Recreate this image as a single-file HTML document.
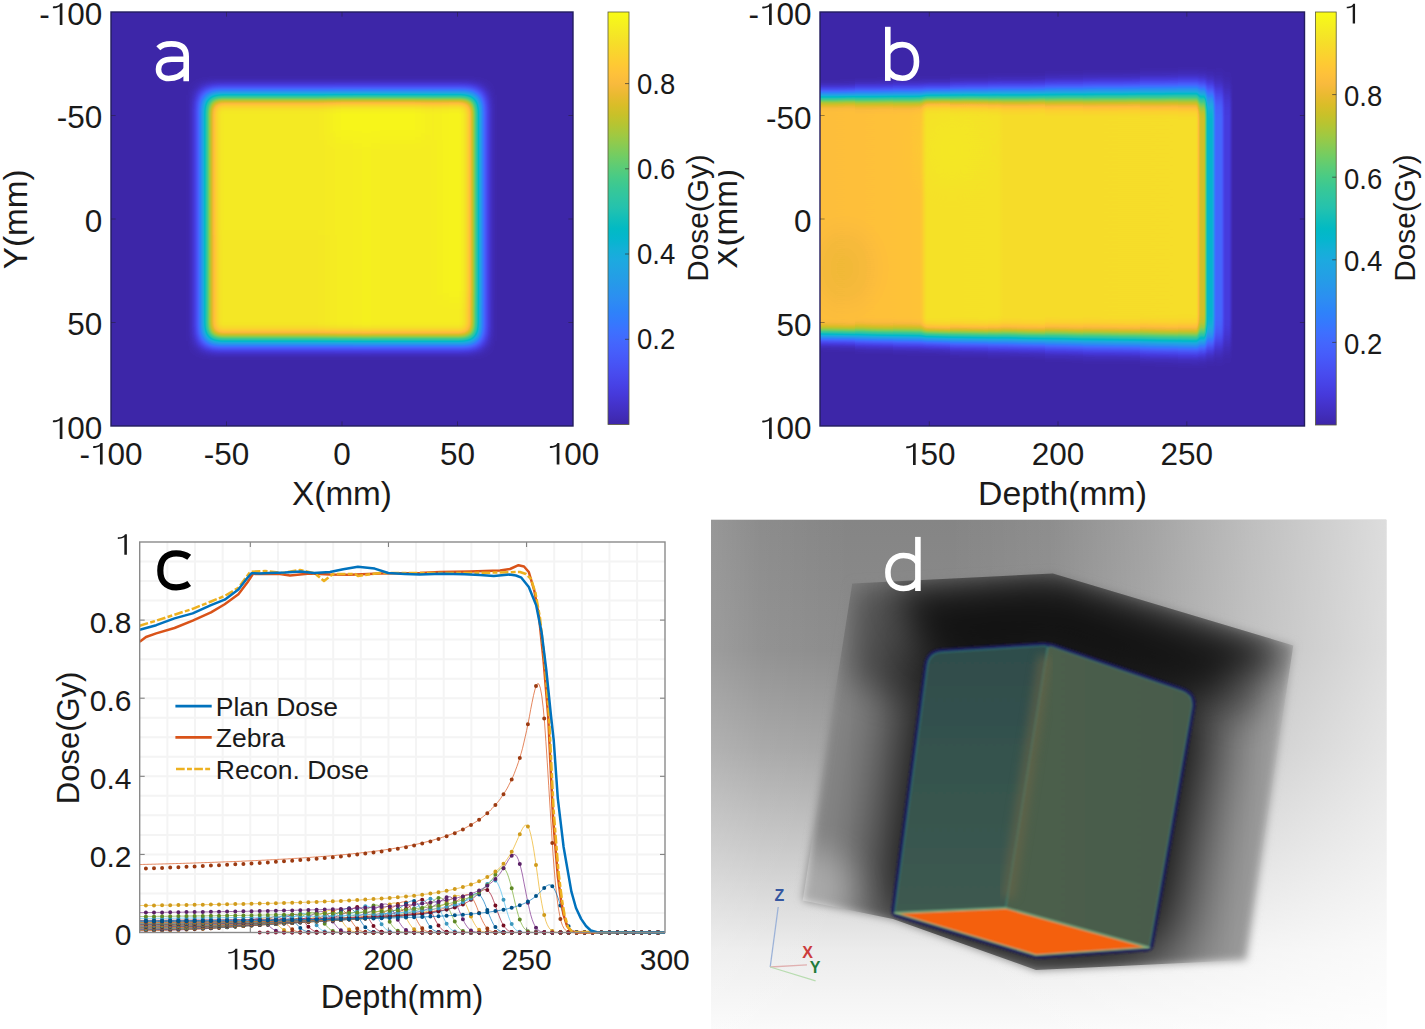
<!DOCTYPE html><html><head><meta charset="utf-8"><style>html,body{margin:0;padding:0;background:#fff}body{width:1425px;height:1029px;overflow:hidden}svg{display:block}text{font-family:"Liberation Sans",sans-serif}</style></head><body>
<svg width="1425" height="1029" viewBox="0 0 1425 1029">
<defs>
<filter id="cmA" filterUnits="userSpaceOnUse" x="60" y="-40" width="580" height="520" color-interpolation-filters="sRGB">
<feGaussianBlur in="SourceGraphic" stdDeviation="8"/>
<feComponentTransfer><feFuncR type="table" tableValues="0.2422 0.2478 0.2530 0.2580 0.2627 0.2670 0.2709 0.2740 0.2765 0.2785 0.2799 0.2808 0.2813 0.2811 0.2803 0.2789 0.2765 0.2728 0.2679 0.2614 0.2511 0.2385 0.2226 0.2062 0.1928 0.1841 0.1804 0.1779 0.1764 0.1713 0.1637 0.1539 0.1484 0.1430 0.1373 0.1284 0.1193 0.1099 0.0990 0.0836 0.0643 0.0377 0.0173 0.0041 0.0062 0.0253 0.0531 0.0891 0.1204 0.1476 0.1685 0.1844 0.1994 0.2146 0.2349 0.2595 0.2891 0.3227 0.3567 0.3908 0.4279 0.4665 0.5063 0.5450 0.5833 0.6210 0.6580 0.6940 0.7292 0.7628 0.7950 0.8261 0.8553 0.8830 0.9095 0.9338 0.9568 0.9774 0.9929 0.9964 0.9966 0.9954 0.9917 0.9863 0.9792 0.9717 0.9656 0.9611 0.9601 0.9607 0.9629 0.9672 0.9720 0.9769 0.9769 0.9769 0.9769"/><feFuncG type="table" tableValues="0.1504 0.1603 0.1710 0.1823 0.1932 0.2044 0.2160 0.2292 0.2434 0.2582 0.2733 0.2884 0.3036 0.3187 0.3336 0.3484 0.3633 0.3785 0.3939 0.4095 0.4254 0.4416 0.4582 0.4748 0.4908 0.5062 0.5209 0.5353 0.5495 0.5634 0.5770 0.5905 0.6033 0.6160 0.6285 0.6409 0.6530 0.6649 0.6759 0.6864 0.6964 0.7055 0.7139 0.7220 0.7293 0.7362 0.7428 0.7488 0.7545 0.7603 0.7661 0.7721 0.7780 0.7837 0.7889 0.7934 0.7971 0.7995 0.8015 0.8029 0.8026 0.8013 0.7991 0.7957 0.7916 0.7870 0.7814 0.7753 0.7688 0.7620 0.7552 0.7486 0.7423 0.7369 0.7323 0.7294 0.7293 0.7325 0.7418 0.7559 0.7714 0.7873 0.8037 0.8203 0.8373 0.8544 0.8715 0.8885 0.9051 0.9215 0.9376 0.9534 0.9692 0.9839 0.9839 0.9839 0.9839"/><feFuncB type="table" tableValues="0.6603 0.6924 0.7231 0.7526 0.7825 0.8113 0.8387 0.8622 0.8829 0.9014 0.9170 0.9309 0.9436 0.9548 0.9647 0.9736 0.9812 0.9869 0.9915 0.9947 0.9972 0.9984 0.9974 0.9925 0.9867 0.9803 0.9725 0.9633 0.9523 0.9414 0.9311 0.9216 0.9122 0.9040 0.8968 0.8907 0.8834 0.8749 0.8637 0.8508 0.8367 0.8210 0.8046 0.7878 0.7704 0.7525 0.7343 0.7157 0.6970 0.6779 0.6584 0.6380 0.6168 0.5946 0.5706 0.5458 0.5201 0.4932 0.4649 0.4355 0.4053 0.3757 0.3466 0.3171 0.2877 0.2586 0.2325 0.2093 0.1884 0.1705 0.1595 0.1543 0.1585 0.1683 0.1829 0.2050 0.2254 0.2389 0.2374 0.2275 0.2159 0.2043 0.1943 0.1853 0.1772 0.1689 0.1611 0.1539 0.1462 0.1370 0.1262 0.1126 0.0968 0.0805 0.0805 0.0805 0.0805"/><feFuncA type="linear" slope="0" intercept="1"/></feComponentTransfer>
</filter>
<filter id="cmB" filterUnits="userSpaceOnUse" x="760" y="-40" width="600" height="520" color-interpolation-filters="sRGB">
<feComponentTransfer><feFuncR type="table" tableValues="0.2422 0.2476 0.2527 0.2576 0.2621 0.2664 0.2702 0.2733 0.2759 0.2780 0.2794 0.2805 0.2812 0.2811 0.2807 0.2797 0.2778 0.2750 0.2710 0.2654 0.2582 0.2475 0.2338 0.2183 0.2024 0.1911 0.1831 0.1799 0.1778 0.1762 0.1711 0.1636 0.1540 0.1487 0.1435 0.1383 0.1298 0.1210 0.1121 0.1017 0.0886 0.0714 0.0469 0.0240 0.0069 0.0052 0.0136 0.0376 0.0698 0.1033 0.1325 0.1553 0.1745 0.1890 0.2036 0.2190 0.2393 0.2647 0.2937 0.3265 0.3595 0.3926 0.4285 0.4658 0.5044 0.5419 0.5790 0.6157 0.6515 0.6867 0.7209 0.7537 0.7854 0.8159 0.8445 0.8722 0.8985 0.9225 0.9456 0.9676 0.9842 0.9958 0.9967 0.9962 0.9945 0.9905 0.9846 0.9776 0.9704 0.9649 0.9609 0.9601 0.9609 0.9630 0.9671 0.9718 0.9769"/><feFuncG type="table" tableValues="0.1504 0.1600 0.1703 0.1813 0.1918 0.2026 0.2136 0.2263 0.2396 0.2539 0.2684 0.2831 0.2978 0.3124 0.3269 0.3413 0.3557 0.3702 0.3850 0.4000 0.4152 0.4307 0.4465 0.4626 0.4786 0.4939 0.5087 0.5229 0.5368 0.5505 0.5639 0.5771 0.5902 0.6026 0.6149 0.6270 0.6390 0.6509 0.6624 0.6732 0.6835 0.6934 0.7023 0.7108 0.7188 0.7261 0.7331 0.7396 0.7455 0.7513 0.7568 0.7624 0.7681 0.7739 0.7795 0.7850 0.7899 0.7940 0.7975 0.7998 0.8016 0.8029 0.8026 0.8013 0.7993 0.7960 0.7921 0.7878 0.7824 0.7766 0.7704 0.7639 0.7573 0.7507 0.7446 0.7389 0.7339 0.7308 0.7290 0.7296 0.7366 0.7469 0.7617 0.7769 0.7923 0.8083 0.8245 0.8410 0.8576 0.8741 0.8905 0.9066 0.9224 0.9380 0.9533 0.9686 0.9839"/><feFuncB type="table" tableValues="0.6603 0.6913 0.7212 0.7497 0.7787 0.8068 0.8338 0.8569 0.8780 0.8965 0.9120 0.9263 0.9390 0.9502 0.9605 0.9695 0.9773 0.9841 0.9892 0.9928 0.9957 0.9980 0.9981 0.9965 0.9912 0.9854 0.9791 0.9715 0.9621 0.9515 0.9409 0.9311 0.9218 0.9127 0.9046 0.8976 0.8917 0.8849 0.8770 0.8665 0.8547 0.8413 0.8264 0.8109 0.7948 0.7780 0.7610 0.7436 0.7257 0.7077 0.6894 0.6707 0.6516 0.6317 0.6108 0.5890 0.5656 0.5413 0.5163 0.4901 0.4626 0.4340 0.4048 0.3762 0.3480 0.3195 0.2910 0.2626 0.2371 0.2138 0.1930 0.1753 0.1618 0.1545 0.1569 0.1635 0.1752 0.1947 0.2155 0.2348 0.2383 0.2344 0.2231 0.2119 0.2010 0.1916 0.1833 0.1754 0.1674 0.1600 0.1530 0.1455 0.1364 0.1259 0.1127 0.0975 0.0805"/><feFuncA type="linear" slope="0" intercept="1"/></feComponentTransfer>
</filter>
<linearGradient id="gA" x1="0" y1="424.5" x2="0" y2="12" gradientUnits="userSpaceOnUse">
<stop offset="0.0000" stop-color="#3e26a8"/>
<stop offset="0.0250" stop-color="#412dbb"/>
<stop offset="0.0500" stop-color="#4433cc"/>
<stop offset="0.0750" stop-color="#463adc"/>
<stop offset="0.1000" stop-color="#4743e7"/>
<stop offset="0.1250" stop-color="#484cef"/>
<stop offset="0.1500" stop-color="#4755f6"/>
<stop offset="0.1750" stop-color="#465efb"/>
<stop offset="0.2000" stop-color="#4367fd"/>
<stop offset="0.2250" stop-color="#3d70ff"/>
<stop offset="0.2500" stop-color="#347afd"/>
<stop offset="0.2750" stop-color="#2e83f9"/>
<stop offset="0.3000" stop-color="#2d8cf3"/>
<stop offset="0.3250" stop-color="#2994ed"/>
<stop offset="0.3500" stop-color="#259ce7"/>
<stop offset="0.3750" stop-color="#21a3e3"/>
<stop offset="0.4000" stop-color="#1caadf"/>
<stop offset="0.4250" stop-color="#13b0d7"/>
<stop offset="0.4500" stop-color="#05b6ce"/>
<stop offset="0.4750" stop-color="#02bac4"/>
<stop offset="0.5000" stop-color="#12beb9"/>
<stop offset="0.5250" stop-color="#24c2ae"/>
<stop offset="0.5500" stop-color="#2fc5a2"/>
<stop offset="0.5750" stop-color="#39c895"/>
<stop offset="0.6000" stop-color="#48cb86"/>
<stop offset="0.6250" stop-color="#5ccc76"/>
<stop offset="0.6500" stop-color="#71cd64"/>
<stop offset="0.6750" stop-color="#88cb53"/>
<stop offset="0.7000" stop-color="#9fc942"/>
<stop offset="0.7250" stop-color="#b4c533"/>
<stop offset="0.7500" stop-color="#c8c129"/>
<stop offset="0.7750" stop-color="#dabd28"/>
<stop offset="0.8000" stop-color="#eaba31"/>
<stop offset="0.8250" stop-color="#f8ba3d"/>
<stop offset="0.8500" stop-color="#fec13a"/>
<stop offset="0.8750" stop-color="#feca33"/>
<stop offset="0.9000" stop-color="#fad42e"/>
<stop offset="0.9250" stop-color="#f6de29"/>
<stop offset="0.9500" stop-color="#f5e825"/>
<stop offset="0.9750" stop-color="#f6f21e"/>
<stop offset="1.0000" stop-color="#f9fb15"/>
</linearGradient>
<linearGradient id="gB" x1="0" y1="425" x2="0" y2="12" gradientUnits="userSpaceOnUse">
<stop offset="0.0000" stop-color="#3e26a8"/>
<stop offset="0.0250" stop-color="#412dbb"/>
<stop offset="0.0500" stop-color="#4433cc"/>
<stop offset="0.0750" stop-color="#463adc"/>
<stop offset="0.1000" stop-color="#4743e7"/>
<stop offset="0.1250" stop-color="#484cef"/>
<stop offset="0.1500" stop-color="#4755f6"/>
<stop offset="0.1750" stop-color="#465efb"/>
<stop offset="0.2000" stop-color="#4367fd"/>
<stop offset="0.2250" stop-color="#3d70ff"/>
<stop offset="0.2500" stop-color="#347afd"/>
<stop offset="0.2750" stop-color="#2e83f9"/>
<stop offset="0.3000" stop-color="#2d8cf3"/>
<stop offset="0.3250" stop-color="#2994ed"/>
<stop offset="0.3500" stop-color="#259ce7"/>
<stop offset="0.3750" stop-color="#21a3e3"/>
<stop offset="0.4000" stop-color="#1caadf"/>
<stop offset="0.4250" stop-color="#13b0d7"/>
<stop offset="0.4500" stop-color="#05b6ce"/>
<stop offset="0.4750" stop-color="#02bac4"/>
<stop offset="0.5000" stop-color="#12beb9"/>
<stop offset="0.5250" stop-color="#24c2ae"/>
<stop offset="0.5500" stop-color="#2fc5a2"/>
<stop offset="0.5750" stop-color="#39c895"/>
<stop offset="0.6000" stop-color="#48cb86"/>
<stop offset="0.6250" stop-color="#5ccc76"/>
<stop offset="0.6500" stop-color="#71cd64"/>
<stop offset="0.6750" stop-color="#88cb53"/>
<stop offset="0.7000" stop-color="#9fc942"/>
<stop offset="0.7250" stop-color="#b4c533"/>
<stop offset="0.7500" stop-color="#c8c129"/>
<stop offset="0.7750" stop-color="#dabd28"/>
<stop offset="0.8000" stop-color="#eaba31"/>
<stop offset="0.8250" stop-color="#f8ba3d"/>
<stop offset="0.8500" stop-color="#fec13a"/>
<stop offset="0.8750" stop-color="#feca33"/>
<stop offset="0.9000" stop-color="#fad42e"/>
<stop offset="0.9250" stop-color="#f6de29"/>
<stop offset="0.9500" stop-color="#f5e825"/>
<stop offset="0.9750" stop-color="#f6f21e"/>
<stop offset="1.0000" stop-color="#f9fb15"/>
</linearGradient>
</defs>
<rect width="1425" height="1029" fill="#fff"/>
<clipPath id="clipA"><rect x="111" y="12" width="462" height="414"/></clipPath>
<g clip-path="url(#clipA)"><g filter="url(#cmA)">
<rect x="70" y="-30" width="560" height="500" fill="#000"/>
<rect x="205" y="95" width="273" height="246" fill="#eeeeee"/>
<rect x="205" y="95" width="125" height="246" fill="#ececec"/>
<rect x="215" y="235" width="110" height="100" fill="#eaeaea"/>
<rect x="330" y="100" width="95" height="40" fill="#f3f3f3"/>
<rect x="362" y="95" width="9" height="246" fill="#f2f2f2"/>
<rect x="440" y="100" width="38" height="200" fill="#f2f2f2"/>
</g></g>
<rect x="111" y="12" width="462" height="414" fill="none" stroke="#231d5e" stroke-width="1.4"/>
<path d="M226.5 12v4.6M226.5 426v-4.6M111 115.5h4.6M573 115.5h-4.6M342.0 12v4.6M342.0 426v-4.6M111 219.0h4.6M573 219.0h-4.6M457.5 12v4.6M457.5 426v-4.6M111 322.5h4.6M573 322.5h-4.6" stroke="#222" stroke-width="1" opacity="0.45" fill="none"/>
<rect x="608" y="12" width="21" height="412.5" fill="url(#gA)" stroke="#5a5a3a" stroke-width="0.8"/>
<path d="M629 339.3h-4M629 254.0h-4M629 168.8h-4M629 83.6h-4" stroke="#333" stroke-width="1" opacity="0.7" fill="none"/>
<g transform="translate(102.30,24.90)" fill="#1a1a1a"><text font-size="31.50" text-anchor="end" >- 00</text><path transform="translate(-52.54,0) scale(0.03150,-0.03150)" d="M317 0H402V688H338C326 660 300 628 262 612C215 592 150 585 100 584V530C170 532 250 540 317 585Z"/></g>
<g transform="translate(111.00,464.60)" fill="#1a1a1a"><text font-size="31.50" text-anchor="middle" >- 00</text><path transform="translate(-21.03,0) scale(0.03150,-0.03150)" d="M317 0H402V688H338C326 660 300 628 262 612C215 592 150 585 100 584V530C170 532 250 540 317 585Z"/></g>
<text transform="translate(102.30,128.40)" font-size="31.50" text-anchor="end" fill="#1a1a1a" >-50</text>
<text transform="translate(226.50,464.60)" font-size="31.50" text-anchor="middle" fill="#1a1a1a" >-50</text>
<text transform="translate(102.30,231.90)" font-size="31.50" text-anchor="end" fill="#1a1a1a" >0</text>
<text transform="translate(342.00,464.60)" font-size="31.50" text-anchor="middle" fill="#1a1a1a" >0</text>
<text transform="translate(102.30,335.40)" font-size="31.50" text-anchor="end" fill="#1a1a1a" >50</text>
<text transform="translate(457.50,464.60)" font-size="31.50" text-anchor="middle" fill="#1a1a1a" >50</text>
<g transform="translate(102.30,438.90)" fill="#1a1a1a"><text font-size="31.50" text-anchor="end" > 00</text><path transform="translate(-52.54,0) scale(0.03150,-0.03150)" d="M317 0H402V688H338C326 660 300 628 262 612C215 592 150 585 100 584V530C170 532 250 540 317 585Z"/></g>
<g transform="translate(573.00,464.60)" fill="#1a1a1a"><text font-size="31.50" text-anchor="middle" > 00</text><path transform="translate(-26.27,0) scale(0.03150,-0.03150)" d="M317 0H402V688H338C326 660 300 628 262 612C215 592 150 585 100 584V530C170 532 250 540 317 585Z"/></g>
<text transform="translate(342.00,504.50)" font-size="33.30" text-anchor="middle" fill="#1a1a1a" >X(mm)</text>
<text transform="translate(26.80,219.40) rotate(-90)" font-size="33.30" text-anchor="middle" fill="#1a1a1a" >Y(mm)</text>
<text transform="translate(637.00,349.27) scale(1.0000,1.0400)" font-size="27.50" text-anchor="start" fill="#1a1a1a" >0.2</text>
<text transform="translate(637.00,264.05) scale(1.0000,1.0400)" font-size="27.50" text-anchor="start" fill="#1a1a1a" >0.4</text>
<text transform="translate(637.00,178.82) scale(1.0000,1.0400)" font-size="27.50" text-anchor="start" fill="#1a1a1a" >0.6</text>
<text transform="translate(637.00,93.59) scale(1.0000,1.0400)" font-size="27.50" text-anchor="start" fill="#1a1a1a" >0.8</text>
<text transform="translate(708.00,218.00) rotate(-90)" font-size="29.80" text-anchor="middle" fill="#1a1a1a" >Dose(Gy)</text>
<g fill="none" stroke="#fff" stroke-width="5.6"><path d="M158.3 48.2C161.8 44.6 166.3 43.9 171.5 43.9C181 43.9 186.2 47.8 186.2 56.5V81.3"/><path d="M186.2 59.2H171.5C163.2 59.2 158.5 63 158.5 69.2C158.5 75.2 162.8 78.5 168.6 78.5C176.5 78.5 182.2 75 186.2 69.5"/></g>
<clipPath id="clipB"><rect x="820" y="12" width="484.5" height="414"/></clipPath>
<defs>
<filter id="latB0" filterUnits="userSpaceOnUse" x="760" y="-40" width="19" height="520" color-interpolation-filters="sRGB"><feGaussianBlur stdDeviation="0 6.80"/></filter>
<filter id="latB1" filterUnits="userSpaceOnUse" x="779" y="-40" width="19" height="520" color-interpolation-filters="sRGB"><feGaussianBlur stdDeviation="0 6.80"/></filter>
<filter id="latB2" filterUnits="userSpaceOnUse" x="798" y="-40" width="19" height="520" color-interpolation-filters="sRGB"><feGaussianBlur stdDeviation="0 6.80"/></filter>
<filter id="latB3" filterUnits="userSpaceOnUse" x="817" y="-40" width="19" height="520" color-interpolation-filters="sRGB"><feGaussianBlur stdDeviation="0 6.87"/></filter>
<filter id="latB4" filterUnits="userSpaceOnUse" x="836" y="-40" width="19" height="520" color-interpolation-filters="sRGB"><feGaussianBlur stdDeviation="0 7.09"/></filter>
<filter id="latB5" filterUnits="userSpaceOnUse" x="855" y="-40" width="19" height="520" color-interpolation-filters="sRGB"><feGaussianBlur stdDeviation="0 7.31"/></filter>
<filter id="latB6" filterUnits="userSpaceOnUse" x="874" y="-40" width="19" height="520" color-interpolation-filters="sRGB"><feGaussianBlur stdDeviation="0 7.53"/></filter>
<filter id="latB7" filterUnits="userSpaceOnUse" x="893" y="-40" width="19" height="520" color-interpolation-filters="sRGB"><feGaussianBlur stdDeviation="0 7.75"/></filter>
<filter id="latB8" filterUnits="userSpaceOnUse" x="912" y="-40" width="19" height="520" color-interpolation-filters="sRGB"><feGaussianBlur stdDeviation="0 7.96"/></filter>
<filter id="latB9" filterUnits="userSpaceOnUse" x="931" y="-40" width="19" height="520" color-interpolation-filters="sRGB"><feGaussianBlur stdDeviation="0 8.18"/></filter>
<filter id="latB10" filterUnits="userSpaceOnUse" x="950" y="-40" width="19" height="520" color-interpolation-filters="sRGB"><feGaussianBlur stdDeviation="0 8.40"/></filter>
<filter id="latB11" filterUnits="userSpaceOnUse" x="969" y="-40" width="19" height="520" color-interpolation-filters="sRGB"><feGaussianBlur stdDeviation="0 8.62"/></filter>
<filter id="latB12" filterUnits="userSpaceOnUse" x="988" y="-40" width="19" height="520" color-interpolation-filters="sRGB"><feGaussianBlur stdDeviation="0 8.83"/></filter>
<filter id="latB13" filterUnits="userSpaceOnUse" x="1007" y="-40" width="19" height="520" color-interpolation-filters="sRGB"><feGaussianBlur stdDeviation="0 9.05"/></filter>
<filter id="latB14" filterUnits="userSpaceOnUse" x="1026" y="-40" width="19" height="520" color-interpolation-filters="sRGB"><feGaussianBlur stdDeviation="0 9.27"/></filter>
<filter id="latB15" filterUnits="userSpaceOnUse" x="1045" y="-40" width="19" height="520" color-interpolation-filters="sRGB"><feGaussianBlur stdDeviation="0 9.49"/></filter>
<filter id="latB16" filterUnits="userSpaceOnUse" x="1064" y="-40" width="19" height="520" color-interpolation-filters="sRGB"><feGaussianBlur stdDeviation="0 9.71"/></filter>
<filter id="latB17" filterUnits="userSpaceOnUse" x="1083" y="-40" width="19" height="520" color-interpolation-filters="sRGB"><feGaussianBlur stdDeviation="0 9.92"/></filter>
<filter id="latB18" filterUnits="userSpaceOnUse" x="1102" y="-40" width="19" height="520" color-interpolation-filters="sRGB"><feGaussianBlur stdDeviation="0 10.14"/></filter>
<filter id="latB19" filterUnits="userSpaceOnUse" x="1121" y="-40" width="19" height="520" color-interpolation-filters="sRGB"><feGaussianBlur stdDeviation="0 10.36"/></filter>
<filter id="latB20" filterUnits="userSpaceOnUse" x="1140" y="-40" width="19" height="520" color-interpolation-filters="sRGB"><feGaussianBlur stdDeviation="0 10.58"/></filter>
<filter id="latB21" filterUnits="userSpaceOnUse" x="1159" y="-40" width="19" height="520" color-interpolation-filters="sRGB"><feGaussianBlur stdDeviation="0 10.79"/></filter>
<filter id="latB22" filterUnits="userSpaceOnUse" x="1178" y="-40" width="19" height="520" color-interpolation-filters="sRGB"><feGaussianBlur stdDeviation="0 11.01"/></filter>
<filter id="latB23" filterUnits="userSpaceOnUse" x="1197" y="-40" width="19" height="520" color-interpolation-filters="sRGB"><feGaussianBlur stdDeviation="0 11.23"/></filter>
<filter id="latB24" filterUnits="userSpaceOnUse" x="1216" y="-40" width="19" height="520" color-interpolation-filters="sRGB"><feGaussianBlur stdDeviation="0 11.45"/></filter>
<filter id="latB25" filterUnits="userSpaceOnUse" x="1235" y="-40" width="19" height="520" color-interpolation-filters="sRGB"><feGaussianBlur stdDeviation="0 11.50"/></filter>
<filter id="latB26" filterUnits="userSpaceOnUse" x="1254" y="-40" width="19" height="520" color-interpolation-filters="sRGB"><feGaussianBlur stdDeviation="0 11.50"/></filter>
<filter id="latB27" filterUnits="userSpaceOnUse" x="1273" y="-40" width="19" height="520" color-interpolation-filters="sRGB"><feGaussianBlur stdDeviation="0 11.50"/></filter>
<filter id="latB28" filterUnits="userSpaceOnUse" x="1292" y="-40" width="19" height="520" color-interpolation-filters="sRGB"><feGaussianBlur stdDeviation="0 11.50"/></filter>
<filter id="latB29" filterUnits="userSpaceOnUse" x="1311" y="-40" width="19" height="520" color-interpolation-filters="sRGB"><feGaussianBlur stdDeviation="0 11.50"/></filter>
<filter id="depBl" filterUnits="userSpaceOnUse" x="760" y="-40" width="600" height="520" color-interpolation-filters="sRGB"><feGaussianBlur stdDeviation="1.2 0"/></filter>
<linearGradient id="depB" x1="820" y1="0" x2="1304.5" y2="0" gradientUnits="userSpaceOnUse">
<stop offset="0.00000" stop-color="#d7d7d7"/>
<stop offset="0.12384" stop-color="#d9d9d9"/>
<stop offset="0.20846" stop-color="#dbdbdb"/>
<stop offset="0.21878" stop-color="#eeeeee"/>
<stop offset="0.36739" stop-color="#efefef"/>
<stop offset="0.37771" stop-color="#ebebeb"/>
<stop offset="0.78019" stop-color="#ececec"/>
<stop offset="0.78204" stop-color="#c2c2c2"/>
<stop offset="0.79567" stop-color="#c2c2c2"/>
<stop offset="0.79649" stop-color="#737373"/>
<stop offset="0.81321" stop-color="#737373"/>
<stop offset="0.81404" stop-color="#333333"/>
<stop offset="0.83096" stop-color="#333333"/>
<stop offset="0.83179" stop-color="#141414"/>
<stop offset="0.84830" stop-color="#141414"/>
<stop offset="0.84933" stop-color="#000000"/>
<stop offset="1.00000" stop-color="#000000"/>
</linearGradient>
<mask id="mLat" maskUnits="userSpaceOnUse" x="760" y="-40" width="600" height="520"><rect x="760" y="-40" width="600" height="520" fill="#000"/>
<polygon points="760.00,96.50 779.00,96.37 779.00,334.32 760.00,334.00" fill="#fff" filter="url(#latB0)"/>
<polygon points="779.00,96.37 798.00,96.23 798.00,334.63 779.00,334.32" fill="#fff" filter="url(#latB1)"/>
<polygon points="798.00,96.23 817.00,96.10 817.00,334.95 798.00,334.63" fill="#fff" filter="url(#latB2)"/>
<polygon points="817.00,96.10 836.00,95.97 836.00,335.27 817.00,334.95" fill="#fff" filter="url(#latB3)"/>
<polygon points="836.00,95.97 855.00,95.83 855.00,335.58 836.00,335.27" fill="#fff" filter="url(#latB4)"/>
<polygon points="855.00,95.83 874.00,95.70 874.00,335.90 855.00,335.58" fill="#fff" filter="url(#latB5)"/>
<polygon points="874.00,95.70 893.00,95.57 893.00,336.22 874.00,335.90" fill="#fff" filter="url(#latB6)"/>
<polygon points="893.00,95.57 912.00,95.43 912.00,336.53 893.00,336.22" fill="#fff" filter="url(#latB7)"/>
<polygon points="912.00,95.43 931.00,95.30 931.00,336.85 912.00,336.53" fill="#fff" filter="url(#latB8)"/>
<polygon points="931.00,95.30 950.00,95.17 950.00,337.17 931.00,336.85" fill="#fff" filter="url(#latB9)"/>
<polygon points="950.00,95.17 969.00,95.03 969.00,337.48 950.00,337.17" fill="#fff" filter="url(#latB10)"/>
<polygon points="969.00,95.03 988.00,94.90 988.00,337.80 969.00,337.48" fill="#fff" filter="url(#latB11)"/>
<polygon points="988.00,94.90 1007.00,94.77 1007.00,338.12 988.00,337.80" fill="#fff" filter="url(#latB12)"/>
<polygon points="1007.00,94.77 1026.00,94.63 1026.00,338.43 1007.00,338.12" fill="#fff" filter="url(#latB13)"/>
<polygon points="1026.00,94.63 1045.00,94.50 1045.00,338.75 1026.00,338.43" fill="#fff" filter="url(#latB14)"/>
<polygon points="1045.00,94.50 1064.00,94.37 1064.00,339.07 1045.00,338.75" fill="#fff" filter="url(#latB15)"/>
<polygon points="1064.00,94.37 1083.00,94.23 1083.00,339.38 1064.00,339.07" fill="#fff" filter="url(#latB16)"/>
<polygon points="1083.00,94.23 1102.00,94.10 1102.00,339.70 1083.00,339.38" fill="#fff" filter="url(#latB17)"/>
<polygon points="1102.00,94.10 1121.00,93.97 1121.00,340.02 1102.00,339.70" fill="#fff" filter="url(#latB18)"/>
<polygon points="1121.00,93.97 1140.00,93.83 1140.00,340.33 1121.00,340.02" fill="#fff" filter="url(#latB19)"/>
<polygon points="1140.00,93.83 1159.00,93.70 1159.00,340.65 1140.00,340.33" fill="#fff" filter="url(#latB20)"/>
<polygon points="1159.00,93.70 1178.00,93.57 1178.00,340.97 1159.00,340.65" fill="#fff" filter="url(#latB21)"/>
<polygon points="1178.00,93.57 1197.00,93.43 1197.00,341.28 1178.00,340.97" fill="#fff" filter="url(#latB22)"/>
<polygon points="1197.00,93.43 1216.00,93.30 1216.00,341.60 1197.00,341.28" fill="#fff" filter="url(#latB23)"/>
<polygon points="1216.00,93.30 1235.00,93.17 1235.00,341.92 1216.00,341.60" fill="#fff" filter="url(#latB24)"/>
<polygon points="1235.00,93.17 1254.00,93.03 1254.00,342.23 1235.00,341.92" fill="#fff" filter="url(#latB25)"/>
<polygon points="1254.00,93.03 1273.00,92.90 1273.00,342.55 1254.00,342.23" fill="#fff" filter="url(#latB26)"/>
<polygon points="1273.00,92.90 1292.00,92.77 1292.00,342.87 1273.00,342.55" fill="#fff" filter="url(#latB27)"/>
<polygon points="1292.00,92.77 1311.00,92.63 1311.00,343.18 1292.00,342.87" fill="#fff" filter="url(#latB28)"/>
<polygon points="1311.00,92.63 1330.00,92.50 1330.00,343.50 1311.00,343.18" fill="#fff" filter="url(#latB29)"/>
</mask></defs>
<g clip-path="url(#clipB)"><g filter="url(#cmB)">
<rect x="780" y="-30" width="560" height="500" fill="#000"/>
<g mask="url(#mLat)"><rect x="780" y="-30" width="560" height="500" fill="url(#depB)" filter="url(#depBl)"/></g>
<defs><filter id="bl14" x="-50%" y="-50%" width="200%" height="200%"><feGaussianBlur stdDeviation="14"/></filter></defs>
<ellipse cx="845" cy="268" rx="28" ry="38" fill="#000" opacity="0.035" filter="url(#bl14)"/>
<ellipse cx="952" cy="150" rx="30" ry="38" fill="#fff" opacity="0.22" filter="url(#bl14)"/>
</g></g>
<rect x="820" y="12" width="484.5" height="414" fill="none" stroke="#231d5e" stroke-width="1.4"/>
<path d="M929.3 12v4.6M929.3 426v-4.6M1058.0 12v4.6M1058.0 426v-4.6M1186.8 12v4.6M1186.8 426v-4.6M820 115.5h4.6M1304.5 115.5h-4.6M820 219.0h4.6M1304.5 219.0h-4.6M820 322.5h4.6M1304.5 322.5h-4.6" stroke="#222" stroke-width="1" opacity="0.45" fill="none"/>
<rect x="1315.4" y="12" width="20.8" height="413" fill="url(#gB)" stroke="#5a5a3a" stroke-width="0.8"/>
<path d="M1336.2 342.4h-4M1336.2 259.8h-4M1336.2 177.2h-4M1336.2 94.6h-4" stroke="#333" stroke-width="1" opacity="0.7" fill="none"/>
<g transform="translate(811.60,25.10)" fill="#1a1a1a"><text font-size="31.50" text-anchor="end" >- 00</text><path transform="translate(-52.54,0) scale(0.03150,-0.03150)" d="M317 0H402V688H338C326 660 300 628 262 612C215 592 150 585 100 584V530C170 532 250 540 317 585Z"/></g>
<text transform="translate(811.60,128.60)" font-size="31.50" text-anchor="end" fill="#1a1a1a" >-50</text>
<text transform="translate(811.60,232.10)" font-size="31.50" text-anchor="end" fill="#1a1a1a" >0</text>
<text transform="translate(811.60,335.60)" font-size="31.50" text-anchor="end" fill="#1a1a1a" >50</text>
<g transform="translate(811.60,439.10)" fill="#1a1a1a"><text font-size="31.50" text-anchor="end" > 00</text><path transform="translate(-52.54,0) scale(0.03150,-0.03150)" d="M317 0H402V688H338C326 660 300 628 262 612C215 592 150 585 100 584V530C170 532 250 540 317 585Z"/></g>
<g transform="translate(929.30,464.90)" fill="#1a1a1a"><text font-size="31.50" text-anchor="middle" > 50</text><path transform="translate(-26.27,0) scale(0.03150,-0.03150)" d="M317 0H402V688H338C326 660 300 628 262 612C215 592 150 585 100 584V530C170 532 250 540 317 585Z"/></g>
<text transform="translate(1058.05,464.90)" font-size="31.50" text-anchor="middle" fill="#1a1a1a" >200</text>
<text transform="translate(1186.80,464.90)" font-size="31.50" text-anchor="middle" fill="#1a1a1a" >250</text>
<text transform="translate(1062.50,504.80)" font-size="33.80" text-anchor="middle" fill="#1a1a1a" >Depth(mm)</text>
<clipPath id="clipYB"><rect x="718.2" y="100" width="60" height="250"/></clipPath><g clip-path="url(#clipYB)">
<text transform="translate(737.20,218.90) rotate(-90)" font-size="33.30" text-anchor="middle" fill="#1a1a1a" >X(mm)</text>
</g>
<text transform="translate(1344.00,353.90) scale(1.0000,1.0400)" font-size="27.50" text-anchor="start" fill="#1a1a1a" >0.2</text>
<text transform="translate(1344.00,271.30) scale(1.0000,1.0400)" font-size="27.50" text-anchor="start" fill="#1a1a1a" >0.4</text>
<text transform="translate(1344.00,188.70) scale(1.0000,1.0400)" font-size="27.50" text-anchor="start" fill="#1a1a1a" >0.6</text>
<text transform="translate(1344.00,106.10) scale(1.0000,1.0400)" font-size="27.50" text-anchor="start" fill="#1a1a1a" >0.8</text>
<g transform="translate(1344.00,23.50) scale(1.0000,1.0400)" fill="#1a1a1a"><text font-size="27.50" text-anchor="start" > </text><path transform="translate(0.00,0) scale(0.02750,-0.02750)" d="M317 0H402V688H338C326 660 300 628 262 612C215 592 150 585 100 584V530C170 532 250 540 317 585Z"/></g>
<text transform="translate(1415.00,218.00) rotate(-90)" font-size="29.80" text-anchor="middle" fill="#1a1a1a" >Dose(Gy)</text>
<g fill="none" stroke="#fff" stroke-width="5.6"><path d="M887.8 26.8V80.9"/><path d="M887.8 53C891 47 896.2 44.6 902.3 44.6C911.6 44.6 916.5 52.2 916.5 61.4C916.5 71 911.6 78.2 902.3 78.2C896.2 78.2 891 75.6 887.8 70"/></g>
<clipPath id="clipC"><rect x="139.7" y="539" width="525.3" height="396.5"/></clipPath>
<path d="M167.41 542V932.5M195.04 542V932.5M222.67 542V932.5M250.30 542V932.5M277.93 542V932.5M305.56 542V932.5M333.19 542V932.5M360.82 542V932.5M388.45 542V932.5M416.08 542V932.5M443.71 542V932.5M471.34 542V932.5M498.97 542V932.5M526.60 542V932.5M554.23 542V932.5M581.86 542V932.5M609.49 542V932.5M637.12 542V932.5M139.7 912.98H665M139.7 893.45H665M139.7 873.92H665M139.7 854.40H665M139.7 834.88H665M139.7 815.35H665M139.7 795.83H665M139.7 776.30H665M139.7 756.77H665M139.7 737.25H665M139.7 717.73H665M139.7 698.20H665M139.7 678.67H665M139.7 659.15H665M139.7 639.62H665M139.7 620.10H665M139.7 600.58H665M139.7 581.05H665M139.7 561.52H665" stroke="#f4f4f4" stroke-width="2" fill="none"/>
<path d="M250.30 542v5M250.30 932.5v-5M388.45 542v5M388.45 932.5v-5M526.60 542v5M526.60 932.5v-5M139.7 854.40h5M665 854.40h-5M139.7 776.30h5M665 776.30h-5M139.7 698.20h5M665 698.20h-5M139.7 620.10h5M665 620.10h-5" stroke="#777" stroke-width="1" fill="none"/>
<g clip-path="url(#clipC)">
<polyline points="139.8,930.9 141.2,930.8 142.5,930.8 143.9,930.8 145.3,930.8 146.7,930.7 148.1,930.7 149.5,930.7 150.8,930.7 152.2,930.6 153.6,930.6 155.0,930.6 156.4,930.5 157.7,930.5 159.1,930.5 160.5,930.4 161.9,930.4 163.3,930.4 164.6,930.3 166.0,930.3 167.4,930.3 168.8,930.2 170.2,930.2 171.6,930.2 172.9,930.1 174.3,930.1 175.7,930.0 177.1,930.0 178.5,929.9 179.8,929.9 181.2,929.8 182.6,929.8 184.0,929.7 185.4,929.7 186.8,929.6 188.1,929.6 189.5,929.5 190.9,929.5 192.3,929.4 193.7,929.3 195.0,929.3 196.4,929.2 197.8,929.1 199.2,929.0 200.6,929.0 201.9,928.9 203.3,928.8 204.7,928.7 206.1,928.6 207.5,928.5 208.9,928.4 210.2,928.3 211.6,928.2 213.0,928.1 214.4,928.0 215.8,927.9 217.1,927.8 218.5,927.6 219.9,927.5 221.3,927.3 222.7,927.2 224.1,927.0 225.4,926.8 226.8,926.7 228.2,926.5 229.6,926.3 231.0,926.0 232.3,925.8 233.7,925.5 235.1,925.3 236.5,925.0 237.9,924.6 239.2,924.3 240.6,923.9 242.0,923.5 243.4,923.1 244.8,922.6 246.2,922.1 247.5,921.6 248.9,921.0 250.3,920.5 251.7,919.9 253.1,919.4 254.4,919.0 255.8,918.8 257.2,918.6 258.6,918.7 260.0,919.0 261.4,919.6 262.7,920.4 264.1,921.4 265.5,922.6 266.9,923.8 268.3,925.2 269.6,926.4 271.0,927.7 272.4,928.7 273.8,929.7 275.2,930.4 276.5,931.0 277.9,931.5 279.3,931.8 280.7,932.1 282.1,932.2 283.5,932.3 284.8,932.4 286.2,932.4 287.6,932.5 289.0,932.5 290.4,932.5 291.7,932.5 293.1,932.5 294.5,932.5 295.9,932.5 297.3,932.5 298.7,932.5 300.0,932.5 301.4,932.5 302.8,932.5 304.2,932.5 305.6,932.5 306.9,932.5 308.3,932.5 309.7,932.5 311.1,932.5 312.5,932.5 313.8,932.5 315.2,932.5 316.6,932.5 318.0,932.5 319.4,932.5 320.8,932.5 322.1,932.5 323.5,932.5 324.9,932.5 326.3,932.5 327.7,932.5 329.0,932.5 330.4,932.5 331.8,932.5 333.2,932.5 334.6,932.5 336.0,932.5 337.3,932.5 338.7,932.5 340.1,932.5 341.5,932.5 342.9,932.5 344.2,932.5 345.6,932.5 347.0,932.5 348.4,932.5 349.8,932.5 351.1,932.5 352.5,932.5 353.9,932.5 355.3,932.5 356.7,932.5 358.1,932.5 359.4,932.5 360.8,932.5 362.2,932.5 363.6,932.5 365.0,932.5 366.3,932.5 367.7,932.5 369.1,932.5 370.5,932.5 371.9,932.5 373.3,932.5 374.6,932.5 376.0,932.5 377.4,932.5 378.8,932.5 380.2,932.5 381.5,932.5 382.9,932.5 384.3,932.5 385.7,932.5 387.1,932.5 388.5,932.5 389.8,932.5 391.2,932.5 392.6,932.5 394.0,932.5 395.4,932.5 396.7,932.5 398.1,932.5 399.5,932.5 400.9,932.5 402.3,932.5 403.6,932.5 405.0,932.5 406.4,932.5 407.8,932.5 409.2,932.5 410.6,932.5 411.9,932.5 413.3,932.5 414.7,932.5 416.1,932.5 417.5,932.5 418.8,932.5 420.2,932.5 421.6,932.5 423.0,932.5 424.4,932.5 425.8,932.5 427.1,932.5 428.5,932.5 429.9,932.5 431.3,932.5 432.7,932.5 434.0,932.5 435.4,932.5 436.8,932.5 438.2,932.5 439.6,932.5 440.9,932.5 442.3,932.5 443.7,932.5 445.1,932.5 446.5,932.5 447.9,932.5 449.2,932.5 450.6,932.5 452.0,932.5 453.4,932.5 454.8,932.5 456.1,932.5 457.5,932.5 458.9,932.5 460.3,932.5 461.7,932.5 463.1,932.5 464.4,932.5 465.8,932.5 467.2,932.5 468.6,932.5 470.0,932.5 471.3,932.5 472.7,932.5 474.1,932.5 475.5,932.5 476.9,932.5 478.2,932.5 479.6,932.5 481.0,932.5 482.4,932.5 483.8,932.5 485.2,932.5 486.5,932.5 487.9,932.5 489.3,932.5 490.7,932.5 492.1,932.5 493.4,932.5 494.8,932.5 496.2,932.5 497.6,932.5 499.0,932.5 500.4,932.5 501.7,932.5 503.1,932.5 504.5,932.5 505.9,932.5 507.3,932.5 508.6,932.5 510.0,932.5 511.4,932.5 512.8,932.5 514.2,932.5 515.5,932.5 516.9,932.5 518.3,932.5 519.7,932.5 521.1,932.5 522.5,932.5 523.8,932.5 525.2,932.5 526.6,932.5 528.0,932.5 529.4,932.5 530.7,932.5 532.1,932.5 533.5,932.5 534.9,932.5 536.3,932.5 537.7,932.5 539.0,932.5 540.4,932.5 541.8,932.5 543.2,932.5 544.6,932.5 545.9,932.5 547.3,932.5 548.7,932.5 550.1,932.5 551.5,932.5 552.8,932.5 554.2,932.5 555.6,932.5 557.0,932.5 558.4,932.5 559.8,932.5 561.1,932.5 562.5,932.5 563.9,932.5 565.3,932.5 566.7,932.5 568.0,932.5 569.4,932.5 570.8,932.5 572.2,932.5 573.6,932.5 575.0,932.5 576.3,932.5 577.7,932.5 579.1,932.5 580.5,932.5 581.9,932.5 583.2,932.5 584.6,932.5 586.0,932.5 587.4,932.5 588.8,932.5 590.1,932.5 591.5,932.5 592.9,932.5 594.3,932.5 595.7,932.5 597.1,932.5 598.4,932.5 599.8,932.5 601.2,932.5 602.6,932.5 604.0,932.5 605.3,932.5 606.7,932.5 608.1,932.5 609.5,932.5 610.9,932.5 612.3,932.5 613.6,932.5 615.0,932.5 616.4,932.5 617.8,932.5 619.2,932.5 620.5,932.5 621.9,932.5 623.3,932.5 624.7,932.5 626.1,932.5 627.4,932.5 628.8,932.5 630.2,932.5 631.6,932.5 633.0,932.5 634.4,932.5 635.7,932.5 637.1,932.5 638.5,932.5 639.9,932.5 641.3,932.5 642.6,932.5 644.0,932.5 645.4,932.5 646.8,932.5 648.2,932.5 649.6,932.5 650.9,932.5 652.3,932.5 653.7,932.5 655.1,932.5 656.5,932.5 657.8,932.5 659.2,932.5 660.6,932.5 662.0,932.5 663.4,932.5 664.8,932.5" stroke="#7E2F8E" stroke-width="1" fill="none" opacity="0.7"/>
<path d="M145.9 930.8h0M154.0 930.6h0M162.1 930.4h0M170.2 930.2h0M178.4 929.9h0M186.5 929.6h0M194.6 929.3h0M202.8 928.8h0M210.9 928.3h0M219.0 927.6h0M227.1 926.6h0M235.3 925.2h0M243.4 923.1h0M251.5 920.0h0M259.7 919.0h0M267.8 924.7h0M275.9 930.8h0M284.0 932.4h0M292.2 932.5h0M300.3 932.5h0M308.4 932.5h0M316.6 932.5h0M324.7 932.5h0M332.8 932.5h0M340.9 932.5h0M349.1 932.5h0M357.2 932.5h0M365.3 932.5h0M373.5 932.5h0M381.6 932.5h0M389.7 932.5h0M397.8 932.5h0M406.0 932.5h0M414.1 932.5h0M422.2 932.5h0M430.4 932.5h0M438.5 932.5h0M446.6 932.5h0M454.8 932.5h0M462.9 932.5h0M471.0 932.5h0M479.1 932.5h0M487.3 932.5h0M495.4 932.5h0M503.5 932.5h0M511.7 932.5h0M519.8 932.5h0M527.9 932.5h0M536.0 932.5h0M544.2 932.5h0M552.3 932.5h0M560.4 932.5h0M568.6 932.5h0M576.7 932.5h0M584.8 932.5h0M592.9 932.5h0M601.1 932.5h0M609.2 932.5h0M617.3 932.5h0M625.5 932.5h0M633.6 932.5h0M641.7 932.5h0M649.8 932.5h0M658.0 932.5h0" stroke="#5a2166" stroke-width="4" stroke-linecap="round" fill="none"/>
<polyline points="139.8,930.5 141.2,930.5 142.5,930.4 143.9,930.4 145.3,930.4 146.7,930.4 148.1,930.3 149.5,930.3 150.8,930.3 152.2,930.3 153.6,930.2 155.0,930.2 156.4,930.2 157.7,930.2 159.1,930.1 160.5,930.1 161.9,930.1 163.3,930.0 164.6,930.0 166.0,930.0 167.4,929.9 168.8,929.9 170.2,929.9 171.6,929.8 172.9,929.8 174.3,929.8 175.7,929.7 177.1,929.7 178.5,929.7 179.8,929.6 181.2,929.6 182.6,929.5 184.0,929.5 185.4,929.4 186.8,929.4 188.1,929.3 189.5,929.3 190.9,929.2 192.3,929.2 193.7,929.1 195.0,929.1 196.4,929.0 197.8,929.0 199.2,928.9 200.6,928.8 201.9,928.8 203.3,928.7 204.7,928.6 206.1,928.6 207.5,928.5 208.9,928.4 210.2,928.3 211.6,928.2 213.0,928.2 214.4,928.1 215.8,928.0 217.1,927.9 218.5,927.8 219.9,927.7 221.3,927.5 222.7,927.4 224.1,927.3 225.4,927.2 226.8,927.0 228.2,926.9 229.6,926.8 231.0,926.6 232.3,926.4 233.7,926.3 235.1,926.1 236.5,925.9 237.9,925.7 239.2,925.4 240.6,925.2 242.0,925.0 243.4,924.7 244.8,924.4 246.2,924.1 247.5,923.8 248.9,923.4 250.3,923.0 251.7,922.6 253.1,922.1 254.4,921.6 255.8,921.1 257.2,920.5 258.6,919.9 260.0,919.4 261.4,918.8 262.7,918.3 264.1,917.9 265.5,917.7 266.9,917.6 268.3,917.8 269.6,918.2 271.0,918.8 272.4,919.7 273.8,920.9 275.2,922.1 276.5,923.5 277.9,924.9 279.3,926.3 280.7,927.6 282.1,928.7 283.5,929.7 284.8,930.4 286.2,931.1 287.6,931.5 289.0,931.9 290.4,932.1 291.7,932.2 293.1,932.4 294.5,932.4 295.9,932.5 297.3,932.5 298.7,932.5 300.0,932.5 301.4,932.5 302.8,932.5 304.2,932.5 305.6,932.5 306.9,932.5 308.3,932.5 309.7,932.5 311.1,932.5 312.5,932.5 313.8,932.5 315.2,932.5 316.6,932.5 318.0,932.5 319.4,932.5 320.8,932.5 322.1,932.5 323.5,932.5 324.9,932.5 326.3,932.5 327.7,932.5 329.0,932.5 330.4,932.5 331.8,932.5 333.2,932.5 334.6,932.5 336.0,932.5 337.3,932.5 338.7,932.5 340.1,932.5 341.5,932.5 342.9,932.5 344.2,932.5 345.6,932.5 347.0,932.5 348.4,932.5 349.8,932.5 351.1,932.5 352.5,932.5 353.9,932.5 355.3,932.5 356.7,932.5 358.1,932.5 359.4,932.5 360.8,932.5 362.2,932.5 363.6,932.5 365.0,932.5 366.3,932.5 367.7,932.5 369.1,932.5 370.5,932.5 371.9,932.5 373.3,932.5 374.6,932.5 376.0,932.5 377.4,932.5 378.8,932.5 380.2,932.5 381.5,932.5 382.9,932.5 384.3,932.5 385.7,932.5 387.1,932.5 388.5,932.5 389.8,932.5 391.2,932.5 392.6,932.5 394.0,932.5 395.4,932.5 396.7,932.5 398.1,932.5 399.5,932.5 400.9,932.5 402.3,932.5 403.6,932.5 405.0,932.5 406.4,932.5 407.8,932.5 409.2,932.5 410.6,932.5 411.9,932.5 413.3,932.5 414.7,932.5 416.1,932.5 417.5,932.5 418.8,932.5 420.2,932.5 421.6,932.5 423.0,932.5 424.4,932.5 425.8,932.5 427.1,932.5 428.5,932.5 429.9,932.5 431.3,932.5 432.7,932.5 434.0,932.5 435.4,932.5 436.8,932.5 438.2,932.5 439.6,932.5 440.9,932.5 442.3,932.5 443.7,932.5 445.1,932.5 446.5,932.5 447.9,932.5 449.2,932.5 450.6,932.5 452.0,932.5 453.4,932.5 454.8,932.5 456.1,932.5 457.5,932.5 458.9,932.5 460.3,932.5 461.7,932.5 463.1,932.5 464.4,932.5 465.8,932.5 467.2,932.5 468.6,932.5 470.0,932.5 471.3,932.5 472.7,932.5 474.1,932.5 475.5,932.5 476.9,932.5 478.2,932.5 479.6,932.5 481.0,932.5 482.4,932.5 483.8,932.5 485.2,932.5 486.5,932.5 487.9,932.5 489.3,932.5 490.7,932.5 492.1,932.5 493.4,932.5 494.8,932.5 496.2,932.5 497.6,932.5 499.0,932.5 500.4,932.5 501.7,932.5 503.1,932.5 504.5,932.5 505.9,932.5 507.3,932.5 508.6,932.5 510.0,932.5 511.4,932.5 512.8,932.5 514.2,932.5 515.5,932.5 516.9,932.5 518.3,932.5 519.7,932.5 521.1,932.5 522.5,932.5 523.8,932.5 525.2,932.5 526.6,932.5 528.0,932.5 529.4,932.5 530.7,932.5 532.1,932.5 533.5,932.5 534.9,932.5 536.3,932.5 537.7,932.5 539.0,932.5 540.4,932.5 541.8,932.5 543.2,932.5 544.6,932.5 545.9,932.5 547.3,932.5 548.7,932.5 550.1,932.5 551.5,932.5 552.8,932.5 554.2,932.5 555.6,932.5 557.0,932.5 558.4,932.5 559.8,932.5 561.1,932.5 562.5,932.5 563.9,932.5 565.3,932.5 566.7,932.5 568.0,932.5 569.4,932.5 570.8,932.5 572.2,932.5 573.6,932.5 575.0,932.5 576.3,932.5 577.7,932.5 579.1,932.5 580.5,932.5 581.9,932.5 583.2,932.5 584.6,932.5 586.0,932.5 587.4,932.5 588.8,932.5 590.1,932.5 591.5,932.5 592.9,932.5 594.3,932.5 595.7,932.5 597.1,932.5 598.4,932.5 599.8,932.5 601.2,932.5 602.6,932.5 604.0,932.5 605.3,932.5 606.7,932.5 608.1,932.5 609.5,932.5 610.9,932.5 612.3,932.5 613.6,932.5 615.0,932.5 616.4,932.5 617.8,932.5 619.2,932.5 620.5,932.5 621.9,932.5 623.3,932.5 624.7,932.5 626.1,932.5 627.4,932.5 628.8,932.5 630.2,932.5 631.6,932.5 633.0,932.5 634.4,932.5 635.7,932.5 637.1,932.5 638.5,932.5 639.9,932.5 641.3,932.5 642.6,932.5 644.0,932.5 645.4,932.5 646.8,932.5 648.2,932.5 649.6,932.5 650.9,932.5 652.3,932.5 653.7,932.5 655.1,932.5 656.5,932.5 657.8,932.5 659.2,932.5 660.6,932.5 662.0,932.5 663.4,932.5 664.8,932.5" stroke="#EDB120" stroke-width="1" fill="none" opacity="0.7"/>
<path d="M145.9 930.4h0M154.0 930.2h0M162.1 930.1h0M170.2 929.9h0M178.4 929.7h0M186.5 929.4h0M194.6 929.1h0M202.8 928.7h0M210.9 928.3h0M219.0 927.7h0M227.1 927.0h0M235.3 926.1h0M243.4 924.7h0M251.5 922.6h0M259.7 919.5h0M267.8 917.7h0M275.9 922.9h0M284.0 930.0h0M292.2 932.3h0M300.3 932.5h0M308.4 932.5h0M316.6 932.5h0M324.7 932.5h0M332.8 932.5h0M340.9 932.5h0M349.1 932.5h0M357.2 932.5h0M365.3 932.5h0M373.5 932.5h0M381.6 932.5h0M389.7 932.5h0M397.8 932.5h0M406.0 932.5h0M414.1 932.5h0M422.2 932.5h0M430.4 932.5h0M438.5 932.5h0M446.6 932.5h0M454.8 932.5h0M462.9 932.5h0M471.0 932.5h0M479.1 932.5h0M487.3 932.5h0M495.4 932.5h0M503.5 932.5h0M511.7 932.5h0M519.8 932.5h0M527.9 932.5h0M536.0 932.5h0M544.2 932.5h0M552.3 932.5h0M560.4 932.5h0M568.6 932.5h0M576.7 932.5h0M584.8 932.5h0M592.9 932.5h0M601.1 932.5h0M609.2 932.5h0M617.3 932.5h0M625.5 932.5h0M633.6 932.5h0M641.7 932.5h0M649.8 932.5h0M658.0 932.5h0" stroke="#d09b1c" stroke-width="4" stroke-linecap="round" fill="none"/>
<polyline points="139.8,930.1 141.2,930.1 142.5,930.1 143.9,930.0 145.3,930.0 146.7,930.0 148.1,930.0 149.5,929.9 150.8,929.9 152.2,929.9 153.6,929.9 155.0,929.8 156.4,929.8 157.7,929.8 159.1,929.8 160.5,929.7 161.9,929.7 163.3,929.7 164.6,929.7 166.0,929.6 167.4,929.6 168.8,929.6 170.2,929.5 171.6,929.5 172.9,929.5 174.3,929.4 175.7,929.4 177.1,929.4 178.5,929.3 179.8,929.3 181.2,929.3 182.6,929.2 184.0,929.2 185.4,929.2 186.8,929.1 188.1,929.1 189.5,929.0 190.9,929.0 192.3,928.9 193.7,928.9 195.0,928.8 196.4,928.8 197.8,928.7 199.2,928.7 200.6,928.6 201.9,928.6 203.3,928.5 204.7,928.5 206.1,928.4 207.5,928.3 208.9,928.3 210.2,928.2 211.6,928.1 213.0,928.1 214.4,928.0 215.8,927.9 217.1,927.8 218.5,927.8 219.9,927.7 221.3,927.6 222.7,927.5 224.1,927.4 225.4,927.3 226.8,927.2 228.2,927.1 229.6,927.0 231.0,926.8 232.3,926.7 233.7,926.6 235.1,926.5 236.5,926.3 237.9,926.2 239.2,926.0 240.6,925.8 242.0,925.7 243.4,925.5 244.8,925.3 246.2,925.1 247.5,924.8 248.9,924.6 250.3,924.3 251.7,924.1 253.1,923.8 254.4,923.5 255.8,923.1 257.2,922.8 258.6,922.4 260.0,922.0 261.4,921.5 262.7,921.0 264.1,920.5 265.5,919.9 266.9,919.3 268.3,918.7 269.6,918.1 271.0,917.6 272.4,917.1 273.8,916.7 275.2,916.6 276.5,916.6 277.9,916.9 279.3,917.4 280.7,918.3 282.1,919.3 283.5,920.6 284.8,922.0 286.2,923.5 287.6,925.0 289.0,926.5 290.4,927.8 291.7,928.9 293.1,929.8 294.5,930.6 295.9,931.2 297.3,931.6 298.7,931.9 300.0,932.1 301.4,932.3 302.8,932.4 304.2,932.4 305.6,932.5 306.9,932.5 308.3,932.5 309.7,932.5 311.1,932.5 312.5,932.5 313.8,932.5 315.2,932.5 316.6,932.5 318.0,932.5 319.4,932.5 320.8,932.5 322.1,932.5 323.5,932.5 324.9,932.5 326.3,932.5 327.7,932.5 329.0,932.5 330.4,932.5 331.8,932.5 333.2,932.5 334.6,932.5 336.0,932.5 337.3,932.5 338.7,932.5 340.1,932.5 341.5,932.5 342.9,932.5 344.2,932.5 345.6,932.5 347.0,932.5 348.4,932.5 349.8,932.5 351.1,932.5 352.5,932.5 353.9,932.5 355.3,932.5 356.7,932.5 358.1,932.5 359.4,932.5 360.8,932.5 362.2,932.5 363.6,932.5 365.0,932.5 366.3,932.5 367.7,932.5 369.1,932.5 370.5,932.5 371.9,932.5 373.3,932.5 374.6,932.5 376.0,932.5 377.4,932.5 378.8,932.5 380.2,932.5 381.5,932.5 382.9,932.5 384.3,932.5 385.7,932.5 387.1,932.5 388.5,932.5 389.8,932.5 391.2,932.5 392.6,932.5 394.0,932.5 395.4,932.5 396.7,932.5 398.1,932.5 399.5,932.5 400.9,932.5 402.3,932.5 403.6,932.5 405.0,932.5 406.4,932.5 407.8,932.5 409.2,932.5 410.6,932.5 411.9,932.5 413.3,932.5 414.7,932.5 416.1,932.5 417.5,932.5 418.8,932.5 420.2,932.5 421.6,932.5 423.0,932.5 424.4,932.5 425.8,932.5 427.1,932.5 428.5,932.5 429.9,932.5 431.3,932.5 432.7,932.5 434.0,932.5 435.4,932.5 436.8,932.5 438.2,932.5 439.6,932.5 440.9,932.5 442.3,932.5 443.7,932.5 445.1,932.5 446.5,932.5 447.9,932.5 449.2,932.5 450.6,932.5 452.0,932.5 453.4,932.5 454.8,932.5 456.1,932.5 457.5,932.5 458.9,932.5 460.3,932.5 461.7,932.5 463.1,932.5 464.4,932.5 465.8,932.5 467.2,932.5 468.6,932.5 470.0,932.5 471.3,932.5 472.7,932.5 474.1,932.5 475.5,932.5 476.9,932.5 478.2,932.5 479.6,932.5 481.0,932.5 482.4,932.5 483.8,932.5 485.2,932.5 486.5,932.5 487.9,932.5 489.3,932.5 490.7,932.5 492.1,932.5 493.4,932.5 494.8,932.5 496.2,932.5 497.6,932.5 499.0,932.5 500.4,932.5 501.7,932.5 503.1,932.5 504.5,932.5 505.9,932.5 507.3,932.5 508.6,932.5 510.0,932.5 511.4,932.5 512.8,932.5 514.2,932.5 515.5,932.5 516.9,932.5 518.3,932.5 519.7,932.5 521.1,932.5 522.5,932.5 523.8,932.5 525.2,932.5 526.6,932.5 528.0,932.5 529.4,932.5 530.7,932.5 532.1,932.5 533.5,932.5 534.9,932.5 536.3,932.5 537.7,932.5 539.0,932.5 540.4,932.5 541.8,932.5 543.2,932.5 544.6,932.5 545.9,932.5 547.3,932.5 548.7,932.5 550.1,932.5 551.5,932.5 552.8,932.5 554.2,932.5 555.6,932.5 557.0,932.5 558.4,932.5 559.8,932.5 561.1,932.5 562.5,932.5 563.9,932.5 565.3,932.5 566.7,932.5 568.0,932.5 569.4,932.5 570.8,932.5 572.2,932.5 573.6,932.5 575.0,932.5 576.3,932.5 577.7,932.5 579.1,932.5 580.5,932.5 581.9,932.5 583.2,932.5 584.6,932.5 586.0,932.5 587.4,932.5 588.8,932.5 590.1,932.5 591.5,932.5 592.9,932.5 594.3,932.5 595.7,932.5 597.1,932.5 598.4,932.5 599.8,932.5 601.2,932.5 602.6,932.5 604.0,932.5 605.3,932.5 606.7,932.5 608.1,932.5 609.5,932.5 610.9,932.5 612.3,932.5 613.6,932.5 615.0,932.5 616.4,932.5 617.8,932.5 619.2,932.5 620.5,932.5 621.9,932.5 623.3,932.5 624.7,932.5 626.1,932.5 627.4,932.5 628.8,932.5 630.2,932.5 631.6,932.5 633.0,932.5 634.4,932.5 635.7,932.5 637.1,932.5 638.5,932.5 639.9,932.5 641.3,932.5 642.6,932.5 644.0,932.5 645.4,932.5 646.8,932.5 648.2,932.5 649.6,932.5 650.9,932.5 652.3,932.5 653.7,932.5 655.1,932.5 656.5,932.5 657.8,932.5 659.2,932.5 660.6,932.5 662.0,932.5 663.4,932.5 664.8,932.5" stroke="#D95319" stroke-width="1" fill="none" opacity="0.7"/>
<path d="M145.9 930.0h0M154.0 929.9h0M162.1 929.7h0M170.2 929.5h0M178.4 929.3h0M186.5 929.1h0M194.6 928.9h0M202.8 928.5h0M210.9 928.2h0M219.0 927.7h0M227.1 927.2h0M235.3 926.4h0M243.4 925.5h0M251.5 924.1h0M259.7 922.1h0M267.8 918.9h0M275.9 916.6h0M284.0 921.2h0M292.2 929.2h0M300.3 932.2h0M308.4 932.5h0M316.6 932.5h0M324.7 932.5h0M332.8 932.5h0M340.9 932.5h0M349.1 932.5h0M357.2 932.5h0M365.3 932.5h0M373.5 932.5h0M381.6 932.5h0M389.7 932.5h0M397.8 932.5h0M406.0 932.5h0M414.1 932.5h0M422.2 932.5h0M430.4 932.5h0M438.5 932.5h0M446.6 932.5h0M454.8 932.5h0M462.9 932.5h0M471.0 932.5h0M479.1 932.5h0M487.3 932.5h0M495.4 932.5h0M503.5 932.5h0M511.7 932.5h0M519.8 932.5h0M527.9 932.5h0M536.0 932.5h0M544.2 932.5h0M552.3 932.5h0M560.4 932.5h0M568.6 932.5h0M576.7 932.5h0M584.8 932.5h0M592.9 932.5h0M601.1 932.5h0M609.2 932.5h0M617.3 932.5h0M625.5 932.5h0M633.6 932.5h0M641.7 932.5h0M649.8 932.5h0M658.0 932.5h0" stroke="#9c3b12" stroke-width="4" stroke-linecap="round" fill="none"/>
<polyline points="139.8,929.7 141.2,929.7 142.5,929.7 143.9,929.7 145.3,929.6 146.7,929.6 148.1,929.6 149.5,929.6 150.8,929.5 152.2,929.5 153.6,929.5 155.0,929.5 156.4,929.5 157.7,929.4 159.1,929.4 160.5,929.4 161.9,929.4 163.3,929.3 164.6,929.3 166.0,929.3 167.4,929.3 168.8,929.2 170.2,929.2 171.6,929.2 172.9,929.1 174.3,929.1 175.7,929.1 177.1,929.1 178.5,929.0 179.8,929.0 181.2,929.0 182.6,928.9 184.0,928.9 185.4,928.9 186.8,928.8 188.1,928.8 189.5,928.7 190.9,928.7 192.3,928.7 193.7,928.6 195.0,928.6 196.4,928.5 197.8,928.5 199.2,928.5 200.6,928.4 201.9,928.4 203.3,928.3 204.7,928.3 206.1,928.2 207.5,928.2 208.9,928.1 210.2,928.0 211.6,928.0 213.0,927.9 214.4,927.9 215.8,927.8 217.1,927.7 218.5,927.7 219.9,927.6 221.3,927.5 222.7,927.4 224.1,927.4 225.4,927.3 226.8,927.2 228.2,927.1 229.6,927.0 231.0,926.9 232.3,926.8 233.7,926.7 235.1,926.6 236.5,926.5 237.9,926.4 239.2,926.3 240.6,926.2 242.0,926.0 243.4,925.9 244.8,925.7 246.2,925.6 247.5,925.4 248.9,925.3 250.3,925.1 251.7,924.9 253.1,924.7 254.4,924.5 255.8,924.3 257.2,924.0 258.6,923.8 260.0,923.5 261.4,923.2 262.7,922.9 264.1,922.6 265.5,922.2 266.9,921.9 268.3,921.4 269.6,921.0 271.0,920.5 272.4,920.0 273.8,919.4 275.2,918.8 276.5,918.2 277.9,917.6 279.3,917.0 280.7,916.4 282.1,915.9 283.5,915.6 284.8,915.5 286.2,915.6 287.6,916.0 289.0,916.6 290.4,917.6 291.7,918.8 293.1,920.2 294.5,921.7 295.9,923.3 297.3,924.9 298.7,926.4 300.0,927.7 301.4,928.9 302.8,929.8 304.2,930.6 305.6,931.2 306.9,931.6 308.3,931.9 309.7,932.2 311.1,932.3 312.5,932.4 313.8,932.4 315.2,932.5 316.6,932.5 318.0,932.5 319.4,932.5 320.8,932.5 322.1,932.5 323.5,932.5 324.9,932.5 326.3,932.5 327.7,932.5 329.0,932.5 330.4,932.5 331.8,932.5 333.2,932.5 334.6,932.5 336.0,932.5 337.3,932.5 338.7,932.5 340.1,932.5 341.5,932.5 342.9,932.5 344.2,932.5 345.6,932.5 347.0,932.5 348.4,932.5 349.8,932.5 351.1,932.5 352.5,932.5 353.9,932.5 355.3,932.5 356.7,932.5 358.1,932.5 359.4,932.5 360.8,932.5 362.2,932.5 363.6,932.5 365.0,932.5 366.3,932.5 367.7,932.5 369.1,932.5 370.5,932.5 371.9,932.5 373.3,932.5 374.6,932.5 376.0,932.5 377.4,932.5 378.8,932.5 380.2,932.5 381.5,932.5 382.9,932.5 384.3,932.5 385.7,932.5 387.1,932.5 388.5,932.5 389.8,932.5 391.2,932.5 392.6,932.5 394.0,932.5 395.4,932.5 396.7,932.5 398.1,932.5 399.5,932.5 400.9,932.5 402.3,932.5 403.6,932.5 405.0,932.5 406.4,932.5 407.8,932.5 409.2,932.5 410.6,932.5 411.9,932.5 413.3,932.5 414.7,932.5 416.1,932.5 417.5,932.5 418.8,932.5 420.2,932.5 421.6,932.5 423.0,932.5 424.4,932.5 425.8,932.5 427.1,932.5 428.5,932.5 429.9,932.5 431.3,932.5 432.7,932.5 434.0,932.5 435.4,932.5 436.8,932.5 438.2,932.5 439.6,932.5 440.9,932.5 442.3,932.5 443.7,932.5 445.1,932.5 446.5,932.5 447.9,932.5 449.2,932.5 450.6,932.5 452.0,932.5 453.4,932.5 454.8,932.5 456.1,932.5 457.5,932.5 458.9,932.5 460.3,932.5 461.7,932.5 463.1,932.5 464.4,932.5 465.8,932.5 467.2,932.5 468.6,932.5 470.0,932.5 471.3,932.5 472.7,932.5 474.1,932.5 475.5,932.5 476.9,932.5 478.2,932.5 479.6,932.5 481.0,932.5 482.4,932.5 483.8,932.5 485.2,932.5 486.5,932.5 487.9,932.5 489.3,932.5 490.7,932.5 492.1,932.5 493.4,932.5 494.8,932.5 496.2,932.5 497.6,932.5 499.0,932.5 500.4,932.5 501.7,932.5 503.1,932.5 504.5,932.5 505.9,932.5 507.3,932.5 508.6,932.5 510.0,932.5 511.4,932.5 512.8,932.5 514.2,932.5 515.5,932.5 516.9,932.5 518.3,932.5 519.7,932.5 521.1,932.5 522.5,932.5 523.8,932.5 525.2,932.5 526.6,932.5 528.0,932.5 529.4,932.5 530.7,932.5 532.1,932.5 533.5,932.5 534.9,932.5 536.3,932.5 537.7,932.5 539.0,932.5 540.4,932.5 541.8,932.5 543.2,932.5 544.6,932.5 545.9,932.5 547.3,932.5 548.7,932.5 550.1,932.5 551.5,932.5 552.8,932.5 554.2,932.5 555.6,932.5 557.0,932.5 558.4,932.5 559.8,932.5 561.1,932.5 562.5,932.5 563.9,932.5 565.3,932.5 566.7,932.5 568.0,932.5 569.4,932.5 570.8,932.5 572.2,932.5 573.6,932.5 575.0,932.5 576.3,932.5 577.7,932.5 579.1,932.5 580.5,932.5 581.9,932.5 583.2,932.5 584.6,932.5 586.0,932.5 587.4,932.5 588.8,932.5 590.1,932.5 591.5,932.5 592.9,932.5 594.3,932.5 595.7,932.5 597.1,932.5 598.4,932.5 599.8,932.5 601.2,932.5 602.6,932.5 604.0,932.5 605.3,932.5 606.7,932.5 608.1,932.5 609.5,932.5 610.9,932.5 612.3,932.5 613.6,932.5 615.0,932.5 616.4,932.5 617.8,932.5 619.2,932.5 620.5,932.5 621.9,932.5 623.3,932.5 624.7,932.5 626.1,932.5 627.4,932.5 628.8,932.5 630.2,932.5 631.6,932.5 633.0,932.5 634.4,932.5 635.7,932.5 637.1,932.5 638.5,932.5 639.9,932.5 641.3,932.5 642.6,932.5 644.0,932.5 645.4,932.5 646.8,932.5 648.2,932.5 649.6,932.5 650.9,932.5 652.3,932.5 653.7,932.5 655.1,932.5 656.5,932.5 657.8,932.5 659.2,932.5 660.6,932.5 662.0,932.5 663.4,932.5 664.8,932.5" stroke="#0072BD" stroke-width="1" fill="none" opacity="0.7"/>
<path d="M145.9 929.6h0M154.0 929.5h0M162.1 929.4h0M170.2 929.2h0M178.4 929.0h0M186.5 928.8h0M194.6 928.6h0M202.8 928.3h0M210.9 928.0h0M219.0 927.6h0M227.1 927.2h0M235.3 926.6h0M243.4 925.9h0M251.5 924.9h0M259.7 923.6h0M267.8 921.6h0M275.9 918.5h0M284.0 915.5h0M292.2 919.2h0M300.3 928.0h0M308.4 932.0h0M316.6 932.5h0M324.7 932.5h0M332.8 932.5h0M340.9 932.5h0M349.1 932.5h0M357.2 932.5h0M365.3 932.5h0M373.5 932.5h0M381.6 932.5h0M389.7 932.5h0M397.8 932.5h0M406.0 932.5h0M414.1 932.5h0M422.2 932.5h0M430.4 932.5h0M438.5 932.5h0M446.6 932.5h0M454.8 932.5h0M462.9 932.5h0M471.0 932.5h0M479.1 932.5h0M487.3 932.5h0M495.4 932.5h0M503.5 932.5h0M511.7 932.5h0M519.8 932.5h0M527.9 932.5h0M536.0 932.5h0M544.2 932.5h0M552.3 932.5h0M560.4 932.5h0M568.6 932.5h0M576.7 932.5h0M584.8 932.5h0M592.9 932.5h0M601.1 932.5h0M609.2 932.5h0M617.3 932.5h0M625.5 932.5h0M633.6 932.5h0M641.7 932.5h0M649.8 932.5h0M658.0 932.5h0" stroke="#005288" stroke-width="4" stroke-linecap="round" fill="none"/>
<polyline points="139.8,929.3 141.2,929.3 142.5,929.3 143.9,929.3 145.3,929.2 146.7,929.2 148.1,929.2 149.5,929.2 150.8,929.2 152.2,929.2 153.6,929.1 155.0,929.1 156.4,929.1 157.7,929.1 159.1,929.0 160.5,929.0 161.9,929.0 163.3,929.0 164.6,929.0 166.0,928.9 167.4,928.9 168.8,928.9 170.2,928.9 171.6,928.8 172.9,928.8 174.3,928.8 175.7,928.8 177.1,928.7 178.5,928.7 179.8,928.7 181.2,928.6 182.6,928.6 184.0,928.6 185.4,928.5 186.8,928.5 188.1,928.5 189.5,928.4 190.9,928.4 192.3,928.4 193.7,928.3 195.0,928.3 196.4,928.3 197.8,928.2 199.2,928.2 200.6,928.1 201.9,928.1 203.3,928.1 204.7,928.0 206.1,928.0 207.5,927.9 208.9,927.9 210.2,927.8 211.6,927.8 213.0,927.7 214.4,927.7 215.8,927.6 217.1,927.6 218.5,927.5 219.9,927.4 221.3,927.4 222.7,927.3 224.1,927.3 225.4,927.2 226.8,927.1 228.2,927.0 229.6,927.0 231.0,926.9 232.3,926.8 233.7,926.7 235.1,926.6 236.5,926.6 237.9,926.5 239.2,926.4 240.6,926.3 242.0,926.2 243.4,926.1 244.8,925.9 246.2,925.8 247.5,925.7 248.9,925.6 250.3,925.4 251.7,925.3 253.1,925.2 254.4,925.0 255.8,924.9 257.2,924.7 258.6,924.5 260.0,924.3 261.4,924.1 262.7,923.9 264.1,923.7 265.5,923.5 266.9,923.2 268.3,922.9 269.6,922.7 271.0,922.3 272.4,922.0 273.8,921.7 275.2,921.3 276.5,920.9 277.9,920.4 279.3,919.9 280.7,919.4 282.1,918.8 283.5,918.2 284.8,917.6 286.2,917.0 287.6,916.3 289.0,915.7 290.4,915.2 291.7,914.7 293.1,914.5 294.5,914.5 295.9,914.7 297.3,915.2 298.7,916.1 300.0,917.2 301.4,918.6 302.8,920.1 304.2,921.8 305.6,923.5 306.9,925.1 308.3,926.6 309.7,928.0 311.1,929.1 312.5,930.0 313.8,930.8 315.2,931.3 316.6,931.7 318.0,932.0 319.4,932.2 320.8,932.3 322.1,932.4 323.5,932.4 324.9,932.5 326.3,932.5 327.7,932.5 329.0,932.5 330.4,932.5 331.8,932.5 333.2,932.5 334.6,932.5 336.0,932.5 337.3,932.5 338.7,932.5 340.1,932.5 341.5,932.5 342.9,932.5 344.2,932.5 345.6,932.5 347.0,932.5 348.4,932.5 349.8,932.5 351.1,932.5 352.5,932.5 353.9,932.5 355.3,932.5 356.7,932.5 358.1,932.5 359.4,932.5 360.8,932.5 362.2,932.5 363.6,932.5 365.0,932.5 366.3,932.5 367.7,932.5 369.1,932.5 370.5,932.5 371.9,932.5 373.3,932.5 374.6,932.5 376.0,932.5 377.4,932.5 378.8,932.5 380.2,932.5 381.5,932.5 382.9,932.5 384.3,932.5 385.7,932.5 387.1,932.5 388.5,932.5 389.8,932.5 391.2,932.5 392.6,932.5 394.0,932.5 395.4,932.5 396.7,932.5 398.1,932.5 399.5,932.5 400.9,932.5 402.3,932.5 403.6,932.5 405.0,932.5 406.4,932.5 407.8,932.5 409.2,932.5 410.6,932.5 411.9,932.5 413.3,932.5 414.7,932.5 416.1,932.5 417.5,932.5 418.8,932.5 420.2,932.5 421.6,932.5 423.0,932.5 424.4,932.5 425.8,932.5 427.1,932.5 428.5,932.5 429.9,932.5 431.3,932.5 432.7,932.5 434.0,932.5 435.4,932.5 436.8,932.5 438.2,932.5 439.6,932.5 440.9,932.5 442.3,932.5 443.7,932.5 445.1,932.5 446.5,932.5 447.9,932.5 449.2,932.5 450.6,932.5 452.0,932.5 453.4,932.5 454.8,932.5 456.1,932.5 457.5,932.5 458.9,932.5 460.3,932.5 461.7,932.5 463.1,932.5 464.4,932.5 465.8,932.5 467.2,932.5 468.6,932.5 470.0,932.5 471.3,932.5 472.7,932.5 474.1,932.5 475.5,932.5 476.9,932.5 478.2,932.5 479.6,932.5 481.0,932.5 482.4,932.5 483.8,932.5 485.2,932.5 486.5,932.5 487.9,932.5 489.3,932.5 490.7,932.5 492.1,932.5 493.4,932.5 494.8,932.5 496.2,932.5 497.6,932.5 499.0,932.5 500.4,932.5 501.7,932.5 503.1,932.5 504.5,932.5 505.9,932.5 507.3,932.5 508.6,932.5 510.0,932.5 511.4,932.5 512.8,932.5 514.2,932.5 515.5,932.5 516.9,932.5 518.3,932.5 519.7,932.5 521.1,932.5 522.5,932.5 523.8,932.5 525.2,932.5 526.6,932.5 528.0,932.5 529.4,932.5 530.7,932.5 532.1,932.5 533.5,932.5 534.9,932.5 536.3,932.5 537.7,932.5 539.0,932.5 540.4,932.5 541.8,932.5 543.2,932.5 544.6,932.5 545.9,932.5 547.3,932.5 548.7,932.5 550.1,932.5 551.5,932.5 552.8,932.5 554.2,932.5 555.6,932.5 557.0,932.5 558.4,932.5 559.8,932.5 561.1,932.5 562.5,932.5 563.9,932.5 565.3,932.5 566.7,932.5 568.0,932.5 569.4,932.5 570.8,932.5 572.2,932.5 573.6,932.5 575.0,932.5 576.3,932.5 577.7,932.5 579.1,932.5 580.5,932.5 581.9,932.5 583.2,932.5 584.6,932.5 586.0,932.5 587.4,932.5 588.8,932.5 590.1,932.5 591.5,932.5 592.9,932.5 594.3,932.5 595.7,932.5 597.1,932.5 598.4,932.5 599.8,932.5 601.2,932.5 602.6,932.5 604.0,932.5 605.3,932.5 606.7,932.5 608.1,932.5 609.5,932.5 610.9,932.5 612.3,932.5 613.6,932.5 615.0,932.5 616.4,932.5 617.8,932.5 619.2,932.5 620.5,932.5 621.9,932.5 623.3,932.5 624.7,932.5 626.1,932.5 627.4,932.5 628.8,932.5 630.2,932.5 631.6,932.5 633.0,932.5 634.4,932.5 635.7,932.5 637.1,932.5 638.5,932.5 639.9,932.5 641.3,932.5 642.6,932.5 644.0,932.5 645.4,932.5 646.8,932.5 648.2,932.5 649.6,932.5 650.9,932.5 652.3,932.5 653.7,932.5 655.1,932.5 656.5,932.5 657.8,932.5 659.2,932.5 660.6,932.5 662.0,932.5 663.4,932.5 664.8,932.5" stroke="#A2142F" stroke-width="1" fill="none" opacity="0.7"/>
<path d="M145.9 929.2h0M154.0 929.1h0M162.1 929.0h0M170.2 928.9h0M178.4 928.7h0M186.5 928.5h0M194.6 928.3h0M202.8 928.1h0M210.9 927.8h0M219.0 927.5h0M227.1 927.1h0M235.3 926.6h0M243.4 926.1h0M251.5 925.3h0M259.7 924.4h0M267.8 923.0h0M275.9 921.1h0M284.0 918.0h0M292.2 914.7h0M300.3 917.4h0M308.4 926.7h0M316.6 931.7h0M324.7 932.5h0M332.8 932.5h0M340.9 932.5h0M349.1 932.5h0M357.2 932.5h0M365.3 932.5h0M373.5 932.5h0M381.6 932.5h0M389.7 932.5h0M397.8 932.5h0M406.0 932.5h0M414.1 932.5h0M422.2 932.5h0M430.4 932.5h0M438.5 932.5h0M446.6 932.5h0M454.8 932.5h0M462.9 932.5h0M471.0 932.5h0M479.1 932.5h0M487.3 932.5h0M495.4 932.5h0M503.5 932.5h0M511.7 932.5h0M519.8 932.5h0M527.9 932.5h0M536.0 932.5h0M544.2 932.5h0M552.3 932.5h0M560.4 932.5h0M568.6 932.5h0M576.7 932.5h0M584.8 932.5h0M592.9 932.5h0M601.1 932.5h0M609.2 932.5h0M617.3 932.5h0M625.5 932.5h0M633.6 932.5h0M641.7 932.5h0M649.8 932.5h0M658.0 932.5h0" stroke="#740e21" stroke-width="4" stroke-linecap="round" fill="none"/>
<polyline points="139.8,928.9 141.2,928.9 142.5,928.9 143.9,928.9 145.3,928.9 146.7,928.9 148.1,928.8 149.5,928.8 150.8,928.8 152.2,928.8 153.6,928.8 155.0,928.7 156.4,928.7 157.7,928.7 159.1,928.7 160.5,928.7 161.9,928.6 163.3,928.6 164.6,928.6 166.0,928.6 167.4,928.6 168.8,928.5 170.2,928.5 171.6,928.5 172.9,928.5 174.3,928.4 175.7,928.4 177.1,928.4 178.5,928.4 179.8,928.3 181.2,928.3 182.6,928.3 184.0,928.2 185.4,928.2 186.8,928.2 188.1,928.2 189.5,928.1 190.9,928.1 192.3,928.1 193.7,928.0 195.0,928.0 196.4,928.0 197.8,927.9 199.2,927.9 200.6,927.9 201.9,927.8 203.3,927.8 204.7,927.7 206.1,927.7 207.5,927.7 208.9,927.6 210.2,927.6 211.6,927.5 213.0,927.5 214.4,927.4 215.8,927.4 217.1,927.3 218.5,927.3 219.9,927.2 221.3,927.2 222.7,927.1 224.1,927.1 225.4,927.0 226.8,927.0 228.2,926.9 229.6,926.8 231.0,926.8 232.3,926.7 233.7,926.6 235.1,926.6 236.5,926.5 237.9,926.4 239.2,926.3 240.6,926.3 242.0,926.2 243.4,926.1 244.8,926.0 246.2,925.9 247.5,925.8 248.9,925.7 250.3,925.6 251.7,925.5 253.1,925.4 254.4,925.3 255.8,925.1 257.2,925.0 258.6,924.9 260.0,924.7 261.4,924.6 262.7,924.4 264.1,924.3 265.5,924.1 266.9,923.9 268.3,923.7 269.6,923.5 271.0,923.3 272.4,923.1 273.8,922.9 275.2,922.6 276.5,922.4 277.9,922.1 279.3,921.8 280.7,921.4 282.1,921.1 283.5,920.7 284.8,920.3 286.2,919.8 287.6,919.4 289.0,918.8 290.4,918.3 291.7,917.7 293.1,917.0 294.5,916.4 295.9,915.7 297.3,915.0 298.7,914.4 300.0,913.9 301.4,913.6 302.8,913.4 304.2,913.5 305.6,913.9 306.9,914.6 308.3,915.6 309.7,916.9 311.1,918.4 312.5,920.1 313.8,921.9 315.2,923.7 316.6,925.4 318.0,926.9 319.4,928.2 320.8,929.4 322.1,930.3 323.5,930.9 324.9,931.5 326.3,931.8 327.7,932.1 329.0,932.2 330.4,932.4 331.8,932.4 333.2,932.5 334.6,932.5 336.0,932.5 337.3,932.5 338.7,932.5 340.1,932.5 341.5,932.5 342.9,932.5 344.2,932.5 345.6,932.5 347.0,932.5 348.4,932.5 349.8,932.5 351.1,932.5 352.5,932.5 353.9,932.5 355.3,932.5 356.7,932.5 358.1,932.5 359.4,932.5 360.8,932.5 362.2,932.5 363.6,932.5 365.0,932.5 366.3,932.5 367.7,932.5 369.1,932.5 370.5,932.5 371.9,932.5 373.3,932.5 374.6,932.5 376.0,932.5 377.4,932.5 378.8,932.5 380.2,932.5 381.5,932.5 382.9,932.5 384.3,932.5 385.7,932.5 387.1,932.5 388.5,932.5 389.8,932.5 391.2,932.5 392.6,932.5 394.0,932.5 395.4,932.5 396.7,932.5 398.1,932.5 399.5,932.5 400.9,932.5 402.3,932.5 403.6,932.5 405.0,932.5 406.4,932.5 407.8,932.5 409.2,932.5 410.6,932.5 411.9,932.5 413.3,932.5 414.7,932.5 416.1,932.5 417.5,932.5 418.8,932.5 420.2,932.5 421.6,932.5 423.0,932.5 424.4,932.5 425.8,932.5 427.1,932.5 428.5,932.5 429.9,932.5 431.3,932.5 432.7,932.5 434.0,932.5 435.4,932.5 436.8,932.5 438.2,932.5 439.6,932.5 440.9,932.5 442.3,932.5 443.7,932.5 445.1,932.5 446.5,932.5 447.9,932.5 449.2,932.5 450.6,932.5 452.0,932.5 453.4,932.5 454.8,932.5 456.1,932.5 457.5,932.5 458.9,932.5 460.3,932.5 461.7,932.5 463.1,932.5 464.4,932.5 465.8,932.5 467.2,932.5 468.6,932.5 470.0,932.5 471.3,932.5 472.7,932.5 474.1,932.5 475.5,932.5 476.9,932.5 478.2,932.5 479.6,932.5 481.0,932.5 482.4,932.5 483.8,932.5 485.2,932.5 486.5,932.5 487.9,932.5 489.3,932.5 490.7,932.5 492.1,932.5 493.4,932.5 494.8,932.5 496.2,932.5 497.6,932.5 499.0,932.5 500.4,932.5 501.7,932.5 503.1,932.5 504.5,932.5 505.9,932.5 507.3,932.5 508.6,932.5 510.0,932.5 511.4,932.5 512.8,932.5 514.2,932.5 515.5,932.5 516.9,932.5 518.3,932.5 519.7,932.5 521.1,932.5 522.5,932.5 523.8,932.5 525.2,932.5 526.6,932.5 528.0,932.5 529.4,932.5 530.7,932.5 532.1,932.5 533.5,932.5 534.9,932.5 536.3,932.5 537.7,932.5 539.0,932.5 540.4,932.5 541.8,932.5 543.2,932.5 544.6,932.5 545.9,932.5 547.3,932.5 548.7,932.5 550.1,932.5 551.5,932.5 552.8,932.5 554.2,932.5 555.6,932.5 557.0,932.5 558.4,932.5 559.8,932.5 561.1,932.5 562.5,932.5 563.9,932.5 565.3,932.5 566.7,932.5 568.0,932.5 569.4,932.5 570.8,932.5 572.2,932.5 573.6,932.5 575.0,932.5 576.3,932.5 577.7,932.5 579.1,932.5 580.5,932.5 581.9,932.5 583.2,932.5 584.6,932.5 586.0,932.5 587.4,932.5 588.8,932.5 590.1,932.5 591.5,932.5 592.9,932.5 594.3,932.5 595.7,932.5 597.1,932.5 598.4,932.5 599.8,932.5 601.2,932.5 602.6,932.5 604.0,932.5 605.3,932.5 606.7,932.5 608.1,932.5 609.5,932.5 610.9,932.5 612.3,932.5 613.6,932.5 615.0,932.5 616.4,932.5 617.8,932.5 619.2,932.5 620.5,932.5 621.9,932.5 623.3,932.5 624.7,932.5 626.1,932.5 627.4,932.5 628.8,932.5 630.2,932.5 631.6,932.5 633.0,932.5 634.4,932.5 635.7,932.5 637.1,932.5 638.5,932.5 639.9,932.5 641.3,932.5 642.6,932.5 644.0,932.5 645.4,932.5 646.8,932.5 648.2,932.5 649.6,932.5 650.9,932.5 652.3,932.5 653.7,932.5 655.1,932.5 656.5,932.5 657.8,932.5 659.2,932.5 660.6,932.5 662.0,932.5 663.4,932.5 664.8,932.5" stroke="#4DBEEE" stroke-width="1" fill="none" opacity="0.7"/>
<path d="M145.9 928.9h0M154.0 928.8h0M162.1 928.6h0M170.2 928.5h0M178.4 928.4h0M186.5 928.2h0M194.6 928.0h0M202.8 927.8h0M210.9 927.6h0M219.0 927.3h0M227.1 927.0h0M235.3 926.6h0M243.4 926.1h0M251.5 925.5h0M259.7 924.8h0M267.8 923.8h0M275.9 922.5h0M284.0 920.5h0M292.2 917.5h0M300.3 913.8h0M308.4 915.7h0M316.6 925.3h0M324.7 931.4h0M332.8 932.4h0M340.9 932.5h0M349.1 932.5h0M357.2 932.5h0M365.3 932.5h0M373.5 932.5h0M381.6 932.5h0M389.7 932.5h0M397.8 932.5h0M406.0 932.5h0M414.1 932.5h0M422.2 932.5h0M430.4 932.5h0M438.5 932.5h0M446.6 932.5h0M454.8 932.5h0M462.9 932.5h0M471.0 932.5h0M479.1 932.5h0M487.3 932.5h0M495.4 932.5h0M503.5 932.5h0M511.7 932.5h0M519.8 932.5h0M527.9 932.5h0M536.0 932.5h0M544.2 932.5h0M552.3 932.5h0M560.4 932.5h0M568.6 932.5h0M576.7 932.5h0M584.8 932.5h0M592.9 932.5h0M601.1 932.5h0M609.2 932.5h0M617.3 932.5h0M625.5 932.5h0M633.6 932.5h0M641.7 932.5h0M649.8 932.5h0M658.0 932.5h0" stroke="#3d98be" stroke-width="4" stroke-linecap="round" fill="none"/>
<polyline points="139.8,928.5 141.2,928.5 142.5,928.5 143.9,928.5 145.3,928.5 146.7,928.5 148.1,928.5 149.5,928.4 150.8,928.4 152.2,928.4 153.6,928.4 155.0,928.4 156.4,928.3 157.7,928.3 159.1,928.3 160.5,928.3 161.9,928.3 163.3,928.3 164.6,928.2 166.0,928.2 167.4,928.2 168.8,928.2 170.2,928.1 171.6,928.1 172.9,928.1 174.3,928.1 175.7,928.1 177.1,928.0 178.5,928.0 179.8,928.0 181.2,928.0 182.6,927.9 184.0,927.9 185.4,927.9 186.8,927.9 188.1,927.8 189.5,927.8 190.9,927.8 192.3,927.7 193.7,927.7 195.0,927.7 196.4,927.7 197.8,927.6 199.2,927.6 200.6,927.6 201.9,927.5 203.3,927.5 204.7,927.5 206.1,927.4 207.5,927.4 208.9,927.3 210.2,927.3 211.6,927.3 213.0,927.2 214.4,927.2 215.8,927.1 217.1,927.1 218.5,927.1 219.9,927.0 221.3,927.0 222.7,926.9 224.1,926.9 225.4,926.8 226.8,926.8 228.2,926.7 229.6,926.7 231.0,926.6 232.3,926.6 233.7,926.5 235.1,926.4 236.5,926.4 237.9,926.3 239.2,926.2 240.6,926.2 242.0,926.1 243.4,926.0 244.8,926.0 246.2,925.9 247.5,925.8 248.9,925.7 250.3,925.6 251.7,925.5 253.1,925.5 254.4,925.4 255.8,925.3 257.2,925.2 258.6,925.1 260.0,924.9 261.4,924.8 262.7,924.7 264.1,924.6 265.5,924.5 266.9,924.3 268.3,924.2 269.6,924.0 271.0,923.9 272.4,923.7 273.8,923.5 275.2,923.4 276.5,923.2 277.9,923.0 279.3,922.8 280.7,922.5 282.1,922.3 283.5,922.0 284.8,921.8 286.2,921.5 287.6,921.2 289.0,920.9 290.4,920.5 291.7,920.1 293.1,919.7 294.5,919.3 295.9,918.8 297.3,918.3 298.7,917.7 300.0,917.1 301.4,916.5 302.8,915.8 304.2,915.1 305.6,914.4 306.9,913.8 308.3,913.2 309.7,912.7 311.1,912.4 312.5,912.4 313.8,912.6 315.2,913.1 316.6,914.0 318.0,915.2 319.4,916.7 320.8,918.4 322.1,920.2 323.5,922.1 324.9,924.0 326.3,925.7 327.7,927.2 329.0,928.5 330.4,929.6 331.8,930.5 333.2,931.1 334.6,931.6 336.0,931.9 337.3,932.1 338.7,932.3 340.1,932.4 341.5,932.4 342.9,932.5 344.2,932.5 345.6,932.5 347.0,932.5 348.4,932.5 349.8,932.5 351.1,932.5 352.5,932.5 353.9,932.5 355.3,932.5 356.7,932.5 358.1,932.5 359.4,932.5 360.8,932.5 362.2,932.5 363.6,932.5 365.0,932.5 366.3,932.5 367.7,932.5 369.1,932.5 370.5,932.5 371.9,932.5 373.3,932.5 374.6,932.5 376.0,932.5 377.4,932.5 378.8,932.5 380.2,932.5 381.5,932.5 382.9,932.5 384.3,932.5 385.7,932.5 387.1,932.5 388.5,932.5 389.8,932.5 391.2,932.5 392.6,932.5 394.0,932.5 395.4,932.5 396.7,932.5 398.1,932.5 399.5,932.5 400.9,932.5 402.3,932.5 403.6,932.5 405.0,932.5 406.4,932.5 407.8,932.5 409.2,932.5 410.6,932.5 411.9,932.5 413.3,932.5 414.7,932.5 416.1,932.5 417.5,932.5 418.8,932.5 420.2,932.5 421.6,932.5 423.0,932.5 424.4,932.5 425.8,932.5 427.1,932.5 428.5,932.5 429.9,932.5 431.3,932.5 432.7,932.5 434.0,932.5 435.4,932.5 436.8,932.5 438.2,932.5 439.6,932.5 440.9,932.5 442.3,932.5 443.7,932.5 445.1,932.5 446.5,932.5 447.9,932.5 449.2,932.5 450.6,932.5 452.0,932.5 453.4,932.5 454.8,932.5 456.1,932.5 457.5,932.5 458.9,932.5 460.3,932.5 461.7,932.5 463.1,932.5 464.4,932.5 465.8,932.5 467.2,932.5 468.6,932.5 470.0,932.5 471.3,932.5 472.7,932.5 474.1,932.5 475.5,932.5 476.9,932.5 478.2,932.5 479.6,932.5 481.0,932.5 482.4,932.5 483.8,932.5 485.2,932.5 486.5,932.5 487.9,932.5 489.3,932.5 490.7,932.5 492.1,932.5 493.4,932.5 494.8,932.5 496.2,932.5 497.6,932.5 499.0,932.5 500.4,932.5 501.7,932.5 503.1,932.5 504.5,932.5 505.9,932.5 507.3,932.5 508.6,932.5 510.0,932.5 511.4,932.5 512.8,932.5 514.2,932.5 515.5,932.5 516.9,932.5 518.3,932.5 519.7,932.5 521.1,932.5 522.5,932.5 523.8,932.5 525.2,932.5 526.6,932.5 528.0,932.5 529.4,932.5 530.7,932.5 532.1,932.5 533.5,932.5 534.9,932.5 536.3,932.5 537.7,932.5 539.0,932.5 540.4,932.5 541.8,932.5 543.2,932.5 544.6,932.5 545.9,932.5 547.3,932.5 548.7,932.5 550.1,932.5 551.5,932.5 552.8,932.5 554.2,932.5 555.6,932.5 557.0,932.5 558.4,932.5 559.8,932.5 561.1,932.5 562.5,932.5 563.9,932.5 565.3,932.5 566.7,932.5 568.0,932.5 569.4,932.5 570.8,932.5 572.2,932.5 573.6,932.5 575.0,932.5 576.3,932.5 577.7,932.5 579.1,932.5 580.5,932.5 581.9,932.5 583.2,932.5 584.6,932.5 586.0,932.5 587.4,932.5 588.8,932.5 590.1,932.5 591.5,932.5 592.9,932.5 594.3,932.5 595.7,932.5 597.1,932.5 598.4,932.5 599.8,932.5 601.2,932.5 602.6,932.5 604.0,932.5 605.3,932.5 606.7,932.5 608.1,932.5 609.5,932.5 610.9,932.5 612.3,932.5 613.6,932.5 615.0,932.5 616.4,932.5 617.8,932.5 619.2,932.5 620.5,932.5 621.9,932.5 623.3,932.5 624.7,932.5 626.1,932.5 627.4,932.5 628.8,932.5 630.2,932.5 631.6,932.5 633.0,932.5 634.4,932.5 635.7,932.5 637.1,932.5 638.5,932.5 639.9,932.5 641.3,932.5 642.6,932.5 644.0,932.5 645.4,932.5 646.8,932.5 648.2,932.5 649.6,932.5 650.9,932.5 652.3,932.5 653.7,932.5 655.1,932.5 656.5,932.5 657.8,932.5 659.2,932.5 660.6,932.5 662.0,932.5 663.4,932.5 664.8,932.5" stroke="#77AC30" stroke-width="1" fill="none" opacity="0.7"/>
<path d="M145.9 928.5h0M154.0 928.4h0M162.1 928.3h0M170.2 928.1h0M178.4 928.0h0M186.5 927.9h0M194.6 927.7h0M202.8 927.5h0M210.9 927.3h0M219.0 927.0h0M227.1 926.8h0M235.3 926.4h0M243.4 926.0h0M251.5 925.6h0M259.7 925.0h0M267.8 924.2h0M275.9 923.3h0M284.0 921.9h0M292.2 920.0h0M300.3 917.0h0M308.4 913.1h0M316.6 914.0h0M324.7 923.7h0M332.8 930.9h0M340.9 932.4h0M349.1 932.5h0M357.2 932.5h0M365.3 932.5h0M373.5 932.5h0M381.6 932.5h0M389.7 932.5h0M397.8 932.5h0M406.0 932.5h0M414.1 932.5h0M422.2 932.5h0M430.4 932.5h0M438.5 932.5h0M446.6 932.5h0M454.8 932.5h0M462.9 932.5h0M471.0 932.5h0M479.1 932.5h0M487.3 932.5h0M495.4 932.5h0M503.5 932.5h0M511.7 932.5h0M519.8 932.5h0M527.9 932.5h0M536.0 932.5h0M544.2 932.5h0M552.3 932.5h0M560.4 932.5h0M568.6 932.5h0M576.7 932.5h0M584.8 932.5h0M592.9 932.5h0M601.1 932.5h0M609.2 932.5h0M617.3 932.5h0M625.5 932.5h0M633.6 932.5h0M641.7 932.5h0M649.8 932.5h0M658.0 932.5h0" stroke="#5f8926" stroke-width="4" stroke-linecap="round" fill="none"/>
<polyline points="139.8,928.2 141.2,928.1 142.5,928.1 143.9,928.1 145.3,928.1 146.7,928.1 148.1,928.1 149.5,928.1 150.8,928.0 152.2,928.0 153.6,928.0 155.0,928.0 156.4,928.0 157.7,928.0 159.1,927.9 160.5,927.9 161.9,927.9 163.3,927.9 164.6,927.9 166.0,927.8 167.4,927.8 168.8,927.8 170.2,927.8 171.6,927.8 172.9,927.7 174.3,927.7 175.7,927.7 177.1,927.7 178.5,927.7 179.8,927.6 181.2,927.6 182.6,927.6 184.0,927.6 185.4,927.5 186.8,927.5 188.1,927.5 189.5,927.5 190.9,927.4 192.3,927.4 193.7,927.4 195.0,927.4 196.4,927.3 197.8,927.3 199.2,927.3 200.6,927.2 201.9,927.2 203.3,927.2 204.7,927.2 206.1,927.1 207.5,927.1 208.9,927.1 210.2,927.0 211.6,927.0 213.0,927.0 214.4,926.9 215.8,926.9 217.1,926.8 218.5,926.8 219.9,926.8 221.3,926.7 222.7,926.7 224.1,926.6 225.4,926.6 226.8,926.6 228.2,926.5 229.6,926.5 231.0,926.4 232.3,926.4 233.7,926.3 235.1,926.3 236.5,926.2 237.9,926.2 239.2,926.1 240.6,926.0 242.0,926.0 243.4,925.9 244.8,925.9 246.2,925.8 247.5,925.7 248.9,925.7 250.3,925.6 251.7,925.5 253.1,925.4 254.4,925.4 255.8,925.3 257.2,925.2 258.6,925.1 260.0,925.0 261.4,924.9 262.7,924.8 264.1,924.7 265.5,924.6 266.9,924.5 268.3,924.4 269.6,924.3 271.0,924.2 272.4,924.1 273.8,923.9 275.2,923.8 276.5,923.6 277.9,923.5 279.3,923.3 280.7,923.2 282.1,923.0 283.5,922.8 284.8,922.6 286.2,922.4 287.6,922.2 289.0,922.0 290.4,921.8 291.7,921.5 293.1,921.3 294.5,921.0 295.9,920.7 297.3,920.4 298.7,920.0 300.0,919.7 301.4,919.3 302.8,918.8 304.2,918.4 305.6,917.9 306.9,917.3 308.3,916.7 309.7,916.1 311.1,915.4 312.5,914.7 313.8,914.0 315.2,913.3 316.6,912.6 318.0,912.0 319.4,911.6 320.8,911.3 322.1,911.4 323.5,911.7 324.9,912.3 326.3,913.3 327.7,914.7 329.0,916.3 330.4,918.1 331.8,920.0 333.2,922.0 334.6,923.9 336.0,925.7 337.3,927.3 338.7,928.6 340.1,929.7 341.5,930.5 342.9,931.1 344.2,931.6 345.6,931.9 347.0,932.2 348.4,932.3 349.8,932.4 351.1,932.4 352.5,932.5 353.9,932.5 355.3,932.5 356.7,932.5 358.1,932.5 359.4,932.5 360.8,932.5 362.2,932.5 363.6,932.5 365.0,932.5 366.3,932.5 367.7,932.5 369.1,932.5 370.5,932.5 371.9,932.5 373.3,932.5 374.6,932.5 376.0,932.5 377.4,932.5 378.8,932.5 380.2,932.5 381.5,932.5 382.9,932.5 384.3,932.5 385.7,932.5 387.1,932.5 388.5,932.5 389.8,932.5 391.2,932.5 392.6,932.5 394.0,932.5 395.4,932.5 396.7,932.5 398.1,932.5 399.5,932.5 400.9,932.5 402.3,932.5 403.6,932.5 405.0,932.5 406.4,932.5 407.8,932.5 409.2,932.5 410.6,932.5 411.9,932.5 413.3,932.5 414.7,932.5 416.1,932.5 417.5,932.5 418.8,932.5 420.2,932.5 421.6,932.5 423.0,932.5 424.4,932.5 425.8,932.5 427.1,932.5 428.5,932.5 429.9,932.5 431.3,932.5 432.7,932.5 434.0,932.5 435.4,932.5 436.8,932.5 438.2,932.5 439.6,932.5 440.9,932.5 442.3,932.5 443.7,932.5 445.1,932.5 446.5,932.5 447.9,932.5 449.2,932.5 450.6,932.5 452.0,932.5 453.4,932.5 454.8,932.5 456.1,932.5 457.5,932.5 458.9,932.5 460.3,932.5 461.7,932.5 463.1,932.5 464.4,932.5 465.8,932.5 467.2,932.5 468.6,932.5 470.0,932.5 471.3,932.5 472.7,932.5 474.1,932.5 475.5,932.5 476.9,932.5 478.2,932.5 479.6,932.5 481.0,932.5 482.4,932.5 483.8,932.5 485.2,932.5 486.5,932.5 487.9,932.5 489.3,932.5 490.7,932.5 492.1,932.5 493.4,932.5 494.8,932.5 496.2,932.5 497.6,932.5 499.0,932.5 500.4,932.5 501.7,932.5 503.1,932.5 504.5,932.5 505.9,932.5 507.3,932.5 508.6,932.5 510.0,932.5 511.4,932.5 512.8,932.5 514.2,932.5 515.5,932.5 516.9,932.5 518.3,932.5 519.7,932.5 521.1,932.5 522.5,932.5 523.8,932.5 525.2,932.5 526.6,932.5 528.0,932.5 529.4,932.5 530.7,932.5 532.1,932.5 533.5,932.5 534.9,932.5 536.3,932.5 537.7,932.5 539.0,932.5 540.4,932.5 541.8,932.5 543.2,932.5 544.6,932.5 545.9,932.5 547.3,932.5 548.7,932.5 550.1,932.5 551.5,932.5 552.8,932.5 554.2,932.5 555.6,932.5 557.0,932.5 558.4,932.5 559.8,932.5 561.1,932.5 562.5,932.5 563.9,932.5 565.3,932.5 566.7,932.5 568.0,932.5 569.4,932.5 570.8,932.5 572.2,932.5 573.6,932.5 575.0,932.5 576.3,932.5 577.7,932.5 579.1,932.5 580.5,932.5 581.9,932.5 583.2,932.5 584.6,932.5 586.0,932.5 587.4,932.5 588.8,932.5 590.1,932.5 591.5,932.5 592.9,932.5 594.3,932.5 595.7,932.5 597.1,932.5 598.4,932.5 599.8,932.5 601.2,932.5 602.6,932.5 604.0,932.5 605.3,932.5 606.7,932.5 608.1,932.5 609.5,932.5 610.9,932.5 612.3,932.5 613.6,932.5 615.0,932.5 616.4,932.5 617.8,932.5 619.2,932.5 620.5,932.5 621.9,932.5 623.3,932.5 624.7,932.5 626.1,932.5 627.4,932.5 628.8,932.5 630.2,932.5 631.6,932.5 633.0,932.5 634.4,932.5 635.7,932.5 637.1,932.5 638.5,932.5 639.9,932.5 641.3,932.5 642.6,932.5 644.0,932.5 645.4,932.5 646.8,932.5 648.2,932.5 649.6,932.5 650.9,932.5 652.3,932.5 653.7,932.5 655.1,932.5 656.5,932.5 657.8,932.5 659.2,932.5 660.6,932.5 662.0,932.5 663.4,932.5 664.8,932.5" stroke="#7E2F8E" stroke-width="1" fill="none" opacity="0.7"/>
<path d="M145.9 928.1h0M154.0 928.0h0M162.1 927.9h0M170.2 927.8h0M178.4 927.7h0M186.5 927.5h0M194.6 927.4h0M202.8 927.2h0M210.9 927.0h0M219.0 926.8h0M227.1 926.5h0M235.3 926.3h0M243.4 925.9h0M251.5 925.5h0M259.7 925.0h0M267.8 924.4h0M275.9 923.7h0M284.0 922.7h0M292.2 921.4h0M300.3 919.6h0M308.4 916.7h0M316.6 912.6h0M324.7 912.2h0M332.8 921.5h0M340.9 930.2h0M349.1 932.3h0M357.2 932.5h0M365.3 932.5h0M373.5 932.5h0M381.6 932.5h0M389.7 932.5h0M397.8 932.5h0M406.0 932.5h0M414.1 932.5h0M422.2 932.5h0M430.4 932.5h0M438.5 932.5h0M446.6 932.5h0M454.8 932.5h0M462.9 932.5h0M471.0 932.5h0M479.1 932.5h0M487.3 932.5h0M495.4 932.5h0M503.5 932.5h0M511.7 932.5h0M519.8 932.5h0M527.9 932.5h0M536.0 932.5h0M544.2 932.5h0M552.3 932.5h0M560.4 932.5h0M568.6 932.5h0M576.7 932.5h0M584.8 932.5h0M592.9 932.5h0M601.1 932.5h0M609.2 932.5h0M617.3 932.5h0M625.5 932.5h0M633.6 932.5h0M641.7 932.5h0M649.8 932.5h0M658.0 932.5h0" stroke="#5a2166" stroke-width="4" stroke-linecap="round" fill="none"/>
<polyline points="139.8,927.8 141.2,927.8 142.5,927.7 143.9,927.7 145.3,927.7 146.7,927.7 148.1,927.7 149.5,927.7 150.8,927.7 152.2,927.6 153.6,927.6 155.0,927.6 156.4,927.6 157.7,927.6 159.1,927.6 160.5,927.5 161.9,927.5 163.3,927.5 164.6,927.5 166.0,927.5 167.4,927.5 168.8,927.4 170.2,927.4 171.6,927.4 172.9,927.4 174.3,927.4 175.7,927.3 177.1,927.3 178.5,927.3 179.8,927.3 181.2,927.3 182.6,927.2 184.0,927.2 185.4,927.2 186.8,927.2 188.1,927.2 189.5,927.1 190.9,927.1 192.3,927.1 193.7,927.1 195.0,927.0 196.4,927.0 197.8,927.0 199.2,927.0 200.6,926.9 201.9,926.9 203.3,926.9 204.7,926.8 206.1,926.8 207.5,926.8 208.9,926.8 210.2,926.7 211.6,926.7 213.0,926.7 214.4,926.6 215.8,926.6 217.1,926.6 218.5,926.5 219.9,926.5 221.3,926.5 222.7,926.4 224.1,926.4 225.4,926.3 226.8,926.3 228.2,926.3 229.6,926.2 231.0,926.2 232.3,926.1 233.7,926.1 235.1,926.0 236.5,926.0 237.9,925.9 239.2,925.9 240.6,925.8 242.0,925.8 243.4,925.7 244.8,925.7 246.2,925.6 247.5,925.6 248.9,925.5 250.3,925.5 251.7,925.4 253.1,925.3 254.4,925.3 255.8,925.2 257.2,925.1 258.6,925.1 260.0,925.0 261.4,924.9 262.7,924.8 264.1,924.7 265.5,924.7 266.9,924.6 268.3,924.5 269.6,924.4 271.0,924.3 272.4,924.2 273.8,924.1 275.2,924.0 276.5,923.9 277.9,923.7 279.3,923.6 280.7,923.5 282.1,923.4 283.5,923.2 284.8,923.1 286.2,922.9 287.6,922.8 289.0,922.6 290.4,922.4 291.7,922.3 293.1,922.1 294.5,921.9 295.9,921.7 297.3,921.4 298.7,921.2 300.0,921.0 301.4,920.7 302.8,920.4 304.2,920.1 305.6,919.8 306.9,919.5 308.3,919.1 309.7,918.7 311.1,918.3 312.5,917.8 313.8,917.3 315.2,916.8 316.6,916.2 318.0,915.6 319.4,914.9 320.8,914.2 322.1,913.5 323.5,912.7 324.9,912.0 326.3,911.3 327.7,910.8 329.0,910.4 330.4,910.3 331.8,910.4 333.2,910.9 334.6,911.7 336.0,912.9 337.3,914.5 338.7,916.2 340.1,918.2 341.5,920.3 342.9,922.3 344.2,924.3 345.6,926.1 347.0,927.6 348.4,928.9 349.8,929.9 351.1,930.7 352.5,931.3 353.9,931.7 355.3,932.0 356.7,932.2 358.1,932.3 359.4,932.4 360.8,932.4 362.2,932.5 363.6,932.5 365.0,932.5 366.3,932.5 367.7,932.5 369.1,932.5 370.5,932.5 371.9,932.5 373.3,932.5 374.6,932.5 376.0,932.5 377.4,932.5 378.8,932.5 380.2,932.5 381.5,932.5 382.9,932.5 384.3,932.5 385.7,932.5 387.1,932.5 388.5,932.5 389.8,932.5 391.2,932.5 392.6,932.5 394.0,932.5 395.4,932.5 396.7,932.5 398.1,932.5 399.5,932.5 400.9,932.5 402.3,932.5 403.6,932.5 405.0,932.5 406.4,932.5 407.8,932.5 409.2,932.5 410.6,932.5 411.9,932.5 413.3,932.5 414.7,932.5 416.1,932.5 417.5,932.5 418.8,932.5 420.2,932.5 421.6,932.5 423.0,932.5 424.4,932.5 425.8,932.5 427.1,932.5 428.5,932.5 429.9,932.5 431.3,932.5 432.7,932.5 434.0,932.5 435.4,932.5 436.8,932.5 438.2,932.5 439.6,932.5 440.9,932.5 442.3,932.5 443.7,932.5 445.1,932.5 446.5,932.5 447.9,932.5 449.2,932.5 450.6,932.5 452.0,932.5 453.4,932.5 454.8,932.5 456.1,932.5 457.5,932.5 458.9,932.5 460.3,932.5 461.7,932.5 463.1,932.5 464.4,932.5 465.8,932.5 467.2,932.5 468.6,932.5 470.0,932.5 471.3,932.5 472.7,932.5 474.1,932.5 475.5,932.5 476.9,932.5 478.2,932.5 479.6,932.5 481.0,932.5 482.4,932.5 483.8,932.5 485.2,932.5 486.5,932.5 487.9,932.5 489.3,932.5 490.7,932.5 492.1,932.5 493.4,932.5 494.8,932.5 496.2,932.5 497.6,932.5 499.0,932.5 500.4,932.5 501.7,932.5 503.1,932.5 504.5,932.5 505.9,932.5 507.3,932.5 508.6,932.5 510.0,932.5 511.4,932.5 512.8,932.5 514.2,932.5 515.5,932.5 516.9,932.5 518.3,932.5 519.7,932.5 521.1,932.5 522.5,932.5 523.8,932.5 525.2,932.5 526.6,932.5 528.0,932.5 529.4,932.5 530.7,932.5 532.1,932.5 533.5,932.5 534.9,932.5 536.3,932.5 537.7,932.5 539.0,932.5 540.4,932.5 541.8,932.5 543.2,932.5 544.6,932.5 545.9,932.5 547.3,932.5 548.7,932.5 550.1,932.5 551.5,932.5 552.8,932.5 554.2,932.5 555.6,932.5 557.0,932.5 558.4,932.5 559.8,932.5 561.1,932.5 562.5,932.5 563.9,932.5 565.3,932.5 566.7,932.5 568.0,932.5 569.4,932.5 570.8,932.5 572.2,932.5 573.6,932.5 575.0,932.5 576.3,932.5 577.7,932.5 579.1,932.5 580.5,932.5 581.9,932.5 583.2,932.5 584.6,932.5 586.0,932.5 587.4,932.5 588.8,932.5 590.1,932.5 591.5,932.5 592.9,932.5 594.3,932.5 595.7,932.5 597.1,932.5 598.4,932.5 599.8,932.5 601.2,932.5 602.6,932.5 604.0,932.5 605.3,932.5 606.7,932.5 608.1,932.5 609.5,932.5 610.9,932.5 612.3,932.5 613.6,932.5 615.0,932.5 616.4,932.5 617.8,932.5 619.2,932.5 620.5,932.5 621.9,932.5 623.3,932.5 624.7,932.5 626.1,932.5 627.4,932.5 628.8,932.5 630.2,932.5 631.6,932.5 633.0,932.5 634.4,932.5 635.7,932.5 637.1,932.5 638.5,932.5 639.9,932.5 641.3,932.5 642.6,932.5 644.0,932.5 645.4,932.5 646.8,932.5 648.2,932.5 649.6,932.5 650.9,932.5 652.3,932.5 653.7,932.5 655.1,932.5 656.5,932.5 657.8,932.5 659.2,932.5 660.6,932.5 662.0,932.5 663.4,932.5 664.8,932.5" stroke="#EDB120" stroke-width="1" fill="none" opacity="0.7"/>
<path d="M145.9 927.7h0M154.0 927.6h0M162.1 927.5h0M170.2 927.4h0M178.4 927.3h0M186.5 927.2h0M194.6 927.0h0M202.8 926.9h0M210.9 926.7h0M219.0 926.5h0M227.1 926.3h0M235.3 926.0h0M243.4 925.7h0M251.5 925.4h0M259.7 925.0h0M267.8 924.5h0M275.9 923.9h0M284.0 923.2h0M292.2 922.2h0M300.3 920.9h0M308.4 919.1h0M316.6 916.2h0M324.7 912.1h0M332.8 910.7h0M340.9 919.5h0M349.1 929.4h0M357.2 932.3h0M365.3 932.5h0M373.5 932.5h0M381.6 932.5h0M389.7 932.5h0M397.8 932.5h0M406.0 932.5h0M414.1 932.5h0M422.2 932.5h0M430.4 932.5h0M438.5 932.5h0M446.6 932.5h0M454.8 932.5h0M462.9 932.5h0M471.0 932.5h0M479.1 932.5h0M487.3 932.5h0M495.4 932.5h0M503.5 932.5h0M511.7 932.5h0M519.8 932.5h0M527.9 932.5h0M536.0 932.5h0M544.2 932.5h0M552.3 932.5h0M560.4 932.5h0M568.6 932.5h0M576.7 932.5h0M584.8 932.5h0M592.9 932.5h0M601.1 932.5h0M609.2 932.5h0M617.3 932.5h0M625.5 932.5h0M633.6 932.5h0M641.7 932.5h0M649.8 932.5h0M658.0 932.5h0" stroke="#d09b1c" stroke-width="4" stroke-linecap="round" fill="none"/>
<polyline points="139.8,927.4 141.2,927.4 142.5,927.4 143.9,927.3 145.3,927.3 146.7,927.3 148.1,927.3 149.5,927.3 150.8,927.3 152.2,927.3 153.6,927.2 155.0,927.2 156.4,927.2 157.7,927.2 159.1,927.2 160.5,927.2 161.9,927.2 163.3,927.1 164.6,927.1 166.0,927.1 167.4,927.1 168.8,927.1 170.2,927.1 171.6,927.0 172.9,927.0 174.3,927.0 175.7,927.0 177.1,927.0 178.5,926.9 179.8,926.9 181.2,926.9 182.6,926.9 184.0,926.9 185.4,926.8 186.8,926.8 188.1,926.8 189.5,926.8 190.9,926.8 192.3,926.7 193.7,926.7 195.0,926.7 196.4,926.7 197.8,926.6 199.2,926.6 200.6,926.6 201.9,926.6 203.3,926.5 204.7,926.5 206.1,926.5 207.5,926.5 208.9,926.4 210.2,926.4 211.6,926.4 213.0,926.4 214.4,926.3 215.8,926.3 217.1,926.3 218.5,926.2 219.9,926.2 221.3,926.2 222.7,926.1 224.1,926.1 225.4,926.1 226.8,926.0 228.2,926.0 229.6,926.0 231.0,925.9 232.3,925.9 233.7,925.8 235.1,925.8 236.5,925.8 237.9,925.7 239.2,925.7 240.6,925.6 242.0,925.6 243.4,925.5 244.8,925.5 246.2,925.4 247.5,925.4 248.9,925.3 250.3,925.3 251.7,925.2 253.1,925.2 254.4,925.1 255.8,925.1 257.2,925.0 258.6,924.9 260.0,924.9 261.4,924.8 262.7,924.7 264.1,924.7 265.5,924.6 266.9,924.5 268.3,924.5 269.6,924.4 271.0,924.3 272.4,924.2 273.8,924.1 275.2,924.0 276.5,923.9 277.9,923.9 279.3,923.8 280.7,923.7 282.1,923.5 283.5,923.4 284.8,923.3 286.2,923.2 287.6,923.1 289.0,923.0 290.4,922.8 291.7,922.7 293.1,922.5 294.5,922.4 295.9,922.2 297.3,922.1 298.7,921.9 300.0,921.7 301.4,921.5 302.8,921.3 304.2,921.1 305.6,920.9 306.9,920.7 308.3,920.4 309.7,920.1 311.1,919.9 312.5,919.6 313.8,919.3 315.2,918.9 316.6,918.6 318.0,918.2 319.4,917.7 320.8,917.3 322.1,916.8 323.5,916.3 324.9,915.7 326.3,915.1 327.7,914.4 329.0,913.7 330.4,913.0 331.8,912.2 333.2,911.4 334.6,910.7 336.0,910.1 337.3,909.6 338.7,909.3 340.1,909.2 341.5,909.5 342.9,910.2 344.2,911.2 345.6,912.6 347.0,914.4 348.4,916.3 349.8,918.4 351.1,920.6 352.5,922.7 353.9,924.7 355.3,926.4 356.7,928.0 358.1,929.2 359.4,930.2 360.8,930.9 362.2,931.4 363.6,931.8 365.0,932.1 366.3,932.3 367.7,932.4 369.1,932.4 370.5,932.5 371.9,932.5 373.3,932.5 374.6,932.5 376.0,932.5 377.4,932.5 378.8,932.5 380.2,932.5 381.5,932.5 382.9,932.5 384.3,932.5 385.7,932.5 387.1,932.5 388.5,932.5 389.8,932.5 391.2,932.5 392.6,932.5 394.0,932.5 395.4,932.5 396.7,932.5 398.1,932.5 399.5,932.5 400.9,932.5 402.3,932.5 403.6,932.5 405.0,932.5 406.4,932.5 407.8,932.5 409.2,932.5 410.6,932.5 411.9,932.5 413.3,932.5 414.7,932.5 416.1,932.5 417.5,932.5 418.8,932.5 420.2,932.5 421.6,932.5 423.0,932.5 424.4,932.5 425.8,932.5 427.1,932.5 428.5,932.5 429.9,932.5 431.3,932.5 432.7,932.5 434.0,932.5 435.4,932.5 436.8,932.5 438.2,932.5 439.6,932.5 440.9,932.5 442.3,932.5 443.7,932.5 445.1,932.5 446.5,932.5 447.9,932.5 449.2,932.5 450.6,932.5 452.0,932.5 453.4,932.5 454.8,932.5 456.1,932.5 457.5,932.5 458.9,932.5 460.3,932.5 461.7,932.5 463.1,932.5 464.4,932.5 465.8,932.5 467.2,932.5 468.6,932.5 470.0,932.5 471.3,932.5 472.7,932.5 474.1,932.5 475.5,932.5 476.9,932.5 478.2,932.5 479.6,932.5 481.0,932.5 482.4,932.5 483.8,932.5 485.2,932.5 486.5,932.5 487.9,932.5 489.3,932.5 490.7,932.5 492.1,932.5 493.4,932.5 494.8,932.5 496.2,932.5 497.6,932.5 499.0,932.5 500.4,932.5 501.7,932.5 503.1,932.5 504.5,932.5 505.9,932.5 507.3,932.5 508.6,932.5 510.0,932.5 511.4,932.5 512.8,932.5 514.2,932.5 515.5,932.5 516.9,932.5 518.3,932.5 519.7,932.5 521.1,932.5 522.5,932.5 523.8,932.5 525.2,932.5 526.6,932.5 528.0,932.5 529.4,932.5 530.7,932.5 532.1,932.5 533.5,932.5 534.9,932.5 536.3,932.5 537.7,932.5 539.0,932.5 540.4,932.5 541.8,932.5 543.2,932.5 544.6,932.5 545.9,932.5 547.3,932.5 548.7,932.5 550.1,932.5 551.5,932.5 552.8,932.5 554.2,932.5 555.6,932.5 557.0,932.5 558.4,932.5 559.8,932.5 561.1,932.5 562.5,932.5 563.9,932.5 565.3,932.5 566.7,932.5 568.0,932.5 569.4,932.5 570.8,932.5 572.2,932.5 573.6,932.5 575.0,932.5 576.3,932.5 577.7,932.5 579.1,932.5 580.5,932.5 581.9,932.5 583.2,932.5 584.6,932.5 586.0,932.5 587.4,932.5 588.8,932.5 590.1,932.5 591.5,932.5 592.9,932.5 594.3,932.5 595.7,932.5 597.1,932.5 598.4,932.5 599.8,932.5 601.2,932.5 602.6,932.5 604.0,932.5 605.3,932.5 606.7,932.5 608.1,932.5 609.5,932.5 610.9,932.5 612.3,932.5 613.6,932.5 615.0,932.5 616.4,932.5 617.8,932.5 619.2,932.5 620.5,932.5 621.9,932.5 623.3,932.5 624.7,932.5 626.1,932.5 627.4,932.5 628.8,932.5 630.2,932.5 631.6,932.5 633.0,932.5 634.4,932.5 635.7,932.5 637.1,932.5 638.5,932.5 639.9,932.5 641.3,932.5 642.6,932.5 644.0,932.5 645.4,932.5 646.8,932.5 648.2,932.5 649.6,932.5 650.9,932.5 652.3,932.5 653.7,932.5 655.1,932.5 656.5,932.5 657.8,932.5 659.2,932.5 660.6,932.5 662.0,932.5 663.4,932.5 664.8,932.5" stroke="#D95319" stroke-width="1" fill="none" opacity="0.7"/>
<path d="M145.9 927.3h0M154.0 927.2h0M162.1 927.2h0M170.2 927.1h0M178.4 926.9h0M186.5 926.8h0M194.6 926.7h0M202.8 926.6h0M210.9 926.4h0M219.0 926.2h0M227.1 926.0h0M235.3 925.8h0M243.4 925.5h0M251.5 925.2h0M259.7 924.9h0M267.8 924.5h0M275.9 924.0h0M284.0 923.4h0M292.2 922.6h0M300.3 921.7h0M308.4 920.4h0M316.6 918.6h0M324.7 915.8h0M332.8 911.6h0M340.9 909.4h0M349.1 917.4h0M357.2 928.5h0M365.3 932.1h0M373.5 932.5h0M381.6 932.5h0M389.7 932.5h0M397.8 932.5h0M406.0 932.5h0M414.1 932.5h0M422.2 932.5h0M430.4 932.5h0M438.5 932.5h0M446.6 932.5h0M454.8 932.5h0M462.9 932.5h0M471.0 932.5h0M479.1 932.5h0M487.3 932.5h0M495.4 932.5h0M503.5 932.5h0M511.7 932.5h0M519.8 932.5h0M527.9 932.5h0M536.0 932.5h0M544.2 932.5h0M552.3 932.5h0M560.4 932.5h0M568.6 932.5h0M576.7 932.5h0M584.8 932.5h0M592.9 932.5h0M601.1 932.5h0M609.2 932.5h0M617.3 932.5h0M625.5 932.5h0M633.6 932.5h0M641.7 932.5h0M649.8 932.5h0M658.0 932.5h0" stroke="#9c3b12" stroke-width="4" stroke-linecap="round" fill="none"/>
<polyline points="139.8,927.0 141.2,927.0 142.5,927.0 143.9,927.0 145.3,927.0 146.7,926.9 148.1,926.9 149.5,926.9 150.8,926.9 152.2,926.9 153.6,926.9 155.0,926.9 156.4,926.8 157.7,926.8 159.1,926.8 160.5,926.8 161.9,926.8 163.3,926.8 164.6,926.8 166.0,926.7 167.4,926.7 168.8,926.7 170.2,926.7 171.6,926.7 172.9,926.7 174.3,926.6 175.7,926.6 177.1,926.6 178.5,926.6 179.8,926.6 181.2,926.5 182.6,926.5 184.0,926.5 185.4,926.5 186.8,926.5 188.1,926.5 189.5,926.4 190.9,926.4 192.3,926.4 193.7,926.4 195.0,926.3 196.4,926.3 197.8,926.3 199.2,926.3 200.6,926.3 201.9,926.2 203.3,926.2 204.7,926.2 206.1,926.2 207.5,926.1 208.9,926.1 210.2,926.1 211.6,926.1 213.0,926.0 214.4,926.0 215.8,926.0 217.1,926.0 218.5,925.9 219.9,925.9 221.3,925.9 222.7,925.8 224.1,925.8 225.4,925.8 226.8,925.7 228.2,925.7 229.6,925.7 231.0,925.6 232.3,925.6 233.7,925.6 235.1,925.5 236.5,925.5 237.9,925.5 239.2,925.4 240.6,925.4 242.0,925.3 243.4,925.3 244.8,925.3 246.2,925.2 247.5,925.2 248.9,925.1 250.3,925.1 251.7,925.0 253.1,925.0 254.4,924.9 255.8,924.9 257.2,924.8 258.6,924.8 260.0,924.7 261.4,924.7 262.7,924.6 264.1,924.5 265.5,924.5 266.9,924.4 268.3,924.4 269.6,924.3 271.0,924.2 272.4,924.2 273.8,924.1 275.2,924.0 276.5,923.9 277.9,923.9 279.3,923.8 280.7,923.7 282.1,923.6 283.5,923.5 284.8,923.4 286.2,923.3 287.6,923.2 289.0,923.1 290.4,923.0 291.7,922.9 293.1,922.8 294.5,922.7 295.9,922.5 297.3,922.4 298.7,922.3 300.0,922.1 301.4,922.0 302.8,921.8 304.2,921.7 305.6,921.5 306.9,921.3 308.3,921.2 309.7,921.0 311.1,920.8 312.5,920.6 313.8,920.3 315.2,920.1 316.6,919.9 318.0,919.6 319.4,919.3 320.8,919.0 322.1,918.7 323.5,918.4 324.9,918.0 326.3,917.6 327.7,917.2 329.0,916.8 330.4,916.3 331.8,915.8 333.2,915.2 334.6,914.6 336.0,913.9 337.3,913.2 338.7,912.5 340.1,911.7 341.5,910.9 342.9,910.1 344.2,909.4 345.6,908.8 347.0,908.4 348.4,908.2 349.8,908.3 351.1,908.8 352.5,909.6 353.9,910.9 355.3,912.5 356.7,914.4 358.1,916.5 359.4,918.8 360.8,921.0 362.2,923.2 363.6,925.1 365.0,926.9 366.3,928.3 367.7,929.5 369.1,930.4 370.5,931.1 371.9,931.6 373.3,931.9 374.6,932.1 376.0,932.3 377.4,932.4 378.8,932.4 380.2,932.5 381.5,932.5 382.9,932.5 384.3,932.5 385.7,932.5 387.1,932.5 388.5,932.5 389.8,932.5 391.2,932.5 392.6,932.5 394.0,932.5 395.4,932.5 396.7,932.5 398.1,932.5 399.5,932.5 400.9,932.5 402.3,932.5 403.6,932.5 405.0,932.5 406.4,932.5 407.8,932.5 409.2,932.5 410.6,932.5 411.9,932.5 413.3,932.5 414.7,932.5 416.1,932.5 417.5,932.5 418.8,932.5 420.2,932.5 421.6,932.5 423.0,932.5 424.4,932.5 425.8,932.5 427.1,932.5 428.5,932.5 429.9,932.5 431.3,932.5 432.7,932.5 434.0,932.5 435.4,932.5 436.8,932.5 438.2,932.5 439.6,932.5 440.9,932.5 442.3,932.5 443.7,932.5 445.1,932.5 446.5,932.5 447.9,932.5 449.2,932.5 450.6,932.5 452.0,932.5 453.4,932.5 454.8,932.5 456.1,932.5 457.5,932.5 458.9,932.5 460.3,932.5 461.7,932.5 463.1,932.5 464.4,932.5 465.8,932.5 467.2,932.5 468.6,932.5 470.0,932.5 471.3,932.5 472.7,932.5 474.1,932.5 475.5,932.5 476.9,932.5 478.2,932.5 479.6,932.5 481.0,932.5 482.4,932.5 483.8,932.5 485.2,932.5 486.5,932.5 487.9,932.5 489.3,932.5 490.7,932.5 492.1,932.5 493.4,932.5 494.8,932.5 496.2,932.5 497.6,932.5 499.0,932.5 500.4,932.5 501.7,932.5 503.1,932.5 504.5,932.5 505.9,932.5 507.3,932.5 508.6,932.5 510.0,932.5 511.4,932.5 512.8,932.5 514.2,932.5 515.5,932.5 516.9,932.5 518.3,932.5 519.7,932.5 521.1,932.5 522.5,932.5 523.8,932.5 525.2,932.5 526.6,932.5 528.0,932.5 529.4,932.5 530.7,932.5 532.1,932.5 533.5,932.5 534.9,932.5 536.3,932.5 537.7,932.5 539.0,932.5 540.4,932.5 541.8,932.5 543.2,932.5 544.6,932.5 545.9,932.5 547.3,932.5 548.7,932.5 550.1,932.5 551.5,932.5 552.8,932.5 554.2,932.5 555.6,932.5 557.0,932.5 558.4,932.5 559.8,932.5 561.1,932.5 562.5,932.5 563.9,932.5 565.3,932.5 566.7,932.5 568.0,932.5 569.4,932.5 570.8,932.5 572.2,932.5 573.6,932.5 575.0,932.5 576.3,932.5 577.7,932.5 579.1,932.5 580.5,932.5 581.9,932.5 583.2,932.5 584.6,932.5 586.0,932.5 587.4,932.5 588.8,932.5 590.1,932.5 591.5,932.5 592.9,932.5 594.3,932.5 595.7,932.5 597.1,932.5 598.4,932.5 599.8,932.5 601.2,932.5 602.6,932.5 604.0,932.5 605.3,932.5 606.7,932.5 608.1,932.5 609.5,932.5 610.9,932.5 612.3,932.5 613.6,932.5 615.0,932.5 616.4,932.5 617.8,932.5 619.2,932.5 620.5,932.5 621.9,932.5 623.3,932.5 624.7,932.5 626.1,932.5 627.4,932.5 628.8,932.5 630.2,932.5 631.6,932.5 633.0,932.5 634.4,932.5 635.7,932.5 637.1,932.5 638.5,932.5 639.9,932.5 641.3,932.5 642.6,932.5 644.0,932.5 645.4,932.5 646.8,932.5 648.2,932.5 649.6,932.5 650.9,932.5 652.3,932.5 653.7,932.5 655.1,932.5 656.5,932.5 657.8,932.5 659.2,932.5 660.6,932.5 662.0,932.5 663.4,932.5 664.8,932.5" stroke="#0072BD" stroke-width="1" fill="none" opacity="0.7"/>
<path d="M145.9 926.9h0M154.0 926.9h0M162.1 926.8h0M170.2 926.7h0M178.4 926.6h0M186.5 926.5h0M194.6 926.4h0M202.8 926.2h0M210.9 926.1h0M219.0 925.9h0M227.1 925.7h0M235.3 925.5h0M243.4 925.3h0M251.5 925.0h0M259.7 924.7h0M267.8 924.4h0M275.9 924.0h0M284.0 923.5h0M292.2 922.9h0M300.3 922.1h0M308.4 921.2h0M316.6 919.9h0M324.7 918.1h0M332.8 915.4h0M340.9 911.2h0M349.1 908.2h0M357.2 915.2h0M365.3 927.3h0M373.5 932.0h0M381.6 932.5h0M389.7 932.5h0M397.8 932.5h0M406.0 932.5h0M414.1 932.5h0M422.2 932.5h0M430.4 932.5h0M438.5 932.5h0M446.6 932.5h0M454.8 932.5h0M462.9 932.5h0M471.0 932.5h0M479.1 932.5h0M487.3 932.5h0M495.4 932.5h0M503.5 932.5h0M511.7 932.5h0M519.8 932.5h0M527.9 932.5h0M536.0 932.5h0M544.2 932.5h0M552.3 932.5h0M560.4 932.5h0M568.6 932.5h0M576.7 932.5h0M584.8 932.5h0M592.9 932.5h0M601.1 932.5h0M609.2 932.5h0M617.3 932.5h0M625.5 932.5h0M633.6 932.5h0M641.7 932.5h0M649.8 932.5h0M658.0 932.5h0" stroke="#005288" stroke-width="4" stroke-linecap="round" fill="none"/>
<polyline points="139.8,926.6 141.2,926.6 142.5,926.6 143.9,926.6 145.3,926.6 146.7,926.6 148.1,926.5 149.5,926.5 150.8,926.5 152.2,926.5 153.6,926.5 155.0,926.5 156.4,926.5 157.7,926.4 159.1,926.4 160.5,926.4 161.9,926.4 163.3,926.4 164.6,926.4 166.0,926.4 167.4,926.3 168.8,926.3 170.2,926.3 171.6,926.3 172.9,926.3 174.3,926.3 175.7,926.3 177.1,926.2 178.5,926.2 179.8,926.2 181.2,926.2 182.6,926.2 184.0,926.2 185.4,926.1 186.8,926.1 188.1,926.1 189.5,926.1 190.9,926.1 192.3,926.0 193.7,926.0 195.0,926.0 196.4,926.0 197.8,926.0 199.2,925.9 200.6,925.9 201.9,925.9 203.3,925.9 204.7,925.8 206.1,925.8 207.5,925.8 208.9,925.8 210.2,925.8 211.6,925.7 213.0,925.7 214.4,925.7 215.8,925.7 217.1,925.6 218.5,925.6 219.9,925.6 221.3,925.6 222.7,925.5 224.1,925.5 225.4,925.5 226.8,925.4 228.2,925.4 229.6,925.4 231.0,925.3 232.3,925.3 233.7,925.3 235.1,925.3 236.5,925.2 237.9,925.2 239.2,925.1 240.6,925.1 242.0,925.1 243.4,925.0 244.8,925.0 246.2,925.0 247.5,924.9 248.9,924.9 250.3,924.8 251.7,924.8 253.1,924.8 254.4,924.7 255.8,924.7 257.2,924.6 258.6,924.6 260.0,924.5 261.4,924.5 262.7,924.4 264.1,924.4 265.5,924.3 266.9,924.3 268.3,924.2 269.6,924.2 271.0,924.1 272.4,924.0 273.8,924.0 275.2,923.9 276.5,923.8 277.9,923.8 279.3,923.7 280.7,923.6 282.1,923.6 283.5,923.5 284.8,923.4 286.2,923.3 287.6,923.3 289.0,923.2 290.4,923.1 291.7,923.0 293.1,922.9 294.5,922.8 295.9,922.7 297.3,922.6 298.7,922.5 300.0,922.4 301.4,922.3 302.8,922.1 304.2,922.0 305.6,921.9 306.9,921.7 308.3,921.6 309.7,921.5 311.1,921.3 312.5,921.1 313.8,921.0 315.2,920.8 316.6,920.6 318.0,920.4 319.4,920.2 320.8,920.0 322.1,919.8 323.5,919.6 324.9,919.3 326.3,919.1 327.7,918.8 329.0,918.5 330.4,918.2 331.8,917.8 333.2,917.5 334.6,917.1 336.0,916.7 337.3,916.3 338.7,915.8 340.1,915.3 341.5,914.7 342.9,914.1 344.2,913.5 345.6,912.8 347.0,912.0 348.4,911.2 349.8,910.4 351.1,909.6 352.5,908.8 353.9,908.1 355.3,907.6 356.7,907.2 358.1,907.1 359.4,907.4 360.8,908.1 362.2,909.1 363.6,910.6 365.0,912.4 366.3,914.5 367.7,916.8 369.1,919.1 370.5,921.4 371.9,923.6 373.3,925.6 374.6,927.3 376.0,928.7 377.4,929.8 378.8,930.6 380.2,931.3 381.5,931.7 382.9,932.0 384.3,932.2 385.7,932.3 387.1,932.4 388.5,932.4 389.8,932.5 391.2,932.5 392.6,932.5 394.0,932.5 395.4,932.5 396.7,932.5 398.1,932.5 399.5,932.5 400.9,932.5 402.3,932.5 403.6,932.5 405.0,932.5 406.4,932.5 407.8,932.5 409.2,932.5 410.6,932.5 411.9,932.5 413.3,932.5 414.7,932.5 416.1,932.5 417.5,932.5 418.8,932.5 420.2,932.5 421.6,932.5 423.0,932.5 424.4,932.5 425.8,932.5 427.1,932.5 428.5,932.5 429.9,932.5 431.3,932.5 432.7,932.5 434.0,932.5 435.4,932.5 436.8,932.5 438.2,932.5 439.6,932.5 440.9,932.5 442.3,932.5 443.7,932.5 445.1,932.5 446.5,932.5 447.9,932.5 449.2,932.5 450.6,932.5 452.0,932.5 453.4,932.5 454.8,932.5 456.1,932.5 457.5,932.5 458.9,932.5 460.3,932.5 461.7,932.5 463.1,932.5 464.4,932.5 465.8,932.5 467.2,932.5 468.6,932.5 470.0,932.5 471.3,932.5 472.7,932.5 474.1,932.5 475.5,932.5 476.9,932.5 478.2,932.5 479.6,932.5 481.0,932.5 482.4,932.5 483.8,932.5 485.2,932.5 486.5,932.5 487.9,932.5 489.3,932.5 490.7,932.5 492.1,932.5 493.4,932.5 494.8,932.5 496.2,932.5 497.6,932.5 499.0,932.5 500.4,932.5 501.7,932.5 503.1,932.5 504.5,932.5 505.9,932.5 507.3,932.5 508.6,932.5 510.0,932.5 511.4,932.5 512.8,932.5 514.2,932.5 515.5,932.5 516.9,932.5 518.3,932.5 519.7,932.5 521.1,932.5 522.5,932.5 523.8,932.5 525.2,932.5 526.6,932.5 528.0,932.5 529.4,932.5 530.7,932.5 532.1,932.5 533.5,932.5 534.9,932.5 536.3,932.5 537.7,932.5 539.0,932.5 540.4,932.5 541.8,932.5 543.2,932.5 544.6,932.5 545.9,932.5 547.3,932.5 548.7,932.5 550.1,932.5 551.5,932.5 552.8,932.5 554.2,932.5 555.6,932.5 557.0,932.5 558.4,932.5 559.8,932.5 561.1,932.5 562.5,932.5 563.9,932.5 565.3,932.5 566.7,932.5 568.0,932.5 569.4,932.5 570.8,932.5 572.2,932.5 573.6,932.5 575.0,932.5 576.3,932.5 577.7,932.5 579.1,932.5 580.5,932.5 581.9,932.5 583.2,932.5 584.6,932.5 586.0,932.5 587.4,932.5 588.8,932.5 590.1,932.5 591.5,932.5 592.9,932.5 594.3,932.5 595.7,932.5 597.1,932.5 598.4,932.5 599.8,932.5 601.2,932.5 602.6,932.5 604.0,932.5 605.3,932.5 606.7,932.5 608.1,932.5 609.5,932.5 610.9,932.5 612.3,932.5 613.6,932.5 615.0,932.5 616.4,932.5 617.8,932.5 619.2,932.5 620.5,932.5 621.9,932.5 623.3,932.5 624.7,932.5 626.1,932.5 627.4,932.5 628.8,932.5 630.2,932.5 631.6,932.5 633.0,932.5 634.4,932.5 635.7,932.5 637.1,932.5 638.5,932.5 639.9,932.5 641.3,932.5 642.6,932.5 644.0,932.5 645.4,932.5 646.8,932.5 648.2,932.5 649.6,932.5 650.9,932.5 652.3,932.5 653.7,932.5 655.1,932.5 656.5,932.5 657.8,932.5 659.2,932.5 660.6,932.5 662.0,932.5 663.4,932.5 664.8,932.5" stroke="#A2142F" stroke-width="1" fill="none" opacity="0.7"/>
<path d="M145.9 926.6h0M154.0 926.5h0M162.1 926.4h0M170.2 926.3h0M178.4 926.2h0M186.5 926.1h0M194.6 926.0h0M202.8 925.9h0M210.9 925.7h0M219.0 925.6h0M227.1 925.4h0M235.3 925.2h0M243.4 925.0h0M251.5 924.8h0M259.7 924.5h0M267.8 924.2h0M275.9 923.9h0M284.0 923.5h0M292.2 923.0h0M300.3 922.3h0M308.4 921.6h0M316.6 920.6h0M324.7 919.4h0M332.8 917.6h0M340.9 914.9h0M349.1 910.8h0M357.2 907.1h0M365.3 912.9h0M373.5 925.9h0M381.6 931.7h0M389.7 932.5h0M397.8 932.5h0M406.0 932.5h0M414.1 932.5h0M422.2 932.5h0M430.4 932.5h0M438.5 932.5h0M446.6 932.5h0M454.8 932.5h0M462.9 932.5h0M471.0 932.5h0M479.1 932.5h0M487.3 932.5h0M495.4 932.5h0M503.5 932.5h0M511.7 932.5h0M519.8 932.5h0M527.9 932.5h0M536.0 932.5h0M544.2 932.5h0M552.3 932.5h0M560.4 932.5h0M568.6 932.5h0M576.7 932.5h0M584.8 932.5h0M592.9 932.5h0M601.1 932.5h0M609.2 932.5h0M617.3 932.5h0M625.5 932.5h0M633.6 932.5h0M641.7 932.5h0M649.8 932.5h0M658.0 932.5h0" stroke="#740e21" stroke-width="4" stroke-linecap="round" fill="none"/>
<polyline points="139.8,926.2 141.2,926.2 142.5,926.2 143.9,926.2 145.3,926.2 146.7,926.2 148.1,926.2 149.5,926.1 150.8,926.1 152.2,926.1 153.6,926.1 155.0,926.1 156.4,926.1 157.7,926.1 159.1,926.1 160.5,926.0 161.9,926.0 163.3,926.0 164.6,926.0 166.0,926.0 167.4,926.0 168.8,926.0 170.2,925.9 171.6,925.9 172.9,925.9 174.3,925.9 175.7,925.9 177.1,925.9 178.5,925.9 179.8,925.8 181.2,925.8 182.6,925.8 184.0,925.8 185.4,925.8 186.8,925.8 188.1,925.7 189.5,925.7 190.9,925.7 192.3,925.7 193.7,925.7 195.0,925.6 196.4,925.6 197.8,925.6 199.2,925.6 200.6,925.6 201.9,925.5 203.3,925.5 204.7,925.5 206.1,925.5 207.5,925.5 208.9,925.4 210.2,925.4 211.6,925.4 213.0,925.4 214.4,925.4 215.8,925.3 217.1,925.3 218.5,925.3 219.9,925.3 221.3,925.2 222.7,925.2 224.1,925.2 225.4,925.2 226.8,925.1 228.2,925.1 229.6,925.1 231.0,925.0 232.3,925.0 233.7,925.0 235.1,925.0 236.5,924.9 237.9,924.9 239.2,924.9 240.6,924.8 242.0,924.8 243.4,924.8 244.8,924.7 246.2,924.7 247.5,924.7 248.9,924.6 250.3,924.6 251.7,924.5 253.1,924.5 254.4,924.5 255.8,924.4 257.2,924.4 258.6,924.3 260.0,924.3 261.4,924.3 262.7,924.2 264.1,924.2 265.5,924.1 266.9,924.1 268.3,924.0 269.6,924.0 271.0,923.9 272.4,923.9 273.8,923.8 275.2,923.8 276.5,923.7 277.9,923.7 279.3,923.6 280.7,923.5 282.1,923.5 283.5,923.4 284.8,923.3 286.2,923.3 287.6,923.2 289.0,923.1 290.4,923.1 291.7,923.0 293.1,922.9 294.5,922.8 295.9,922.7 297.3,922.6 298.7,922.6 300.0,922.5 301.4,922.4 302.8,922.3 304.2,922.2 305.6,922.1 306.9,922.0 308.3,921.8 309.7,921.7 311.1,921.6 312.5,921.5 313.8,921.3 315.2,921.2 316.6,921.1 318.0,920.9 319.4,920.8 320.8,920.6 322.1,920.4 323.5,920.3 324.9,920.1 326.3,919.9 327.7,919.7 329.0,919.5 330.4,919.3 331.8,919.0 333.2,918.8 334.6,918.5 336.0,918.2 337.3,917.9 338.7,917.6 340.1,917.3 341.5,917.0 342.9,916.6 344.2,916.2 345.6,915.7 347.0,915.3 348.4,914.8 349.8,914.2 351.1,913.6 352.5,913.0 353.9,912.3 355.3,911.6 356.7,910.8 358.1,909.9 359.4,909.1 360.8,908.3 362.2,907.5 363.6,906.8 365.0,906.3 366.3,906.1 367.7,906.2 369.1,906.6 370.5,907.5 371.9,908.7 373.3,910.4 374.6,912.4 376.0,914.7 377.4,917.1 378.8,919.6 380.2,921.9 381.5,924.1 382.9,926.0 384.3,927.7 385.7,929.0 387.1,930.1 388.5,930.8 389.8,931.4 391.2,931.8 392.6,932.1 394.0,932.2 395.4,932.4 396.7,932.4 398.1,932.5 399.5,932.5 400.9,932.5 402.3,932.5 403.6,932.5 405.0,932.5 406.4,932.5 407.8,932.5 409.2,932.5 410.6,932.5 411.9,932.5 413.3,932.5 414.7,932.5 416.1,932.5 417.5,932.5 418.8,932.5 420.2,932.5 421.6,932.5 423.0,932.5 424.4,932.5 425.8,932.5 427.1,932.5 428.5,932.5 429.9,932.5 431.3,932.5 432.7,932.5 434.0,932.5 435.4,932.5 436.8,932.5 438.2,932.5 439.6,932.5 440.9,932.5 442.3,932.5 443.7,932.5 445.1,932.5 446.5,932.5 447.9,932.5 449.2,932.5 450.6,932.5 452.0,932.5 453.4,932.5 454.8,932.5 456.1,932.5 457.5,932.5 458.9,932.5 460.3,932.5 461.7,932.5 463.1,932.5 464.4,932.5 465.8,932.5 467.2,932.5 468.6,932.5 470.0,932.5 471.3,932.5 472.7,932.5 474.1,932.5 475.5,932.5 476.9,932.5 478.2,932.5 479.6,932.5 481.0,932.5 482.4,932.5 483.8,932.5 485.2,932.5 486.5,932.5 487.9,932.5 489.3,932.5 490.7,932.5 492.1,932.5 493.4,932.5 494.8,932.5 496.2,932.5 497.6,932.5 499.0,932.5 500.4,932.5 501.7,932.5 503.1,932.5 504.5,932.5 505.9,932.5 507.3,932.5 508.6,932.5 510.0,932.5 511.4,932.5 512.8,932.5 514.2,932.5 515.5,932.5 516.9,932.5 518.3,932.5 519.7,932.5 521.1,932.5 522.5,932.5 523.8,932.5 525.2,932.5 526.6,932.5 528.0,932.5 529.4,932.5 530.7,932.5 532.1,932.5 533.5,932.5 534.9,932.5 536.3,932.5 537.7,932.5 539.0,932.5 540.4,932.5 541.8,932.5 543.2,932.5 544.6,932.5 545.9,932.5 547.3,932.5 548.7,932.5 550.1,932.5 551.5,932.5 552.8,932.5 554.2,932.5 555.6,932.5 557.0,932.5 558.4,932.5 559.8,932.5 561.1,932.5 562.5,932.5 563.9,932.5 565.3,932.5 566.7,932.5 568.0,932.5 569.4,932.5 570.8,932.5 572.2,932.5 573.6,932.5 575.0,932.5 576.3,932.5 577.7,932.5 579.1,932.5 580.5,932.5 581.9,932.5 583.2,932.5 584.6,932.5 586.0,932.5 587.4,932.5 588.8,932.5 590.1,932.5 591.5,932.5 592.9,932.5 594.3,932.5 595.7,932.5 597.1,932.5 598.4,932.5 599.8,932.5 601.2,932.5 602.6,932.5 604.0,932.5 605.3,932.5 606.7,932.5 608.1,932.5 609.5,932.5 610.9,932.5 612.3,932.5 613.6,932.5 615.0,932.5 616.4,932.5 617.8,932.5 619.2,932.5 620.5,932.5 621.9,932.5 623.3,932.5 624.7,932.5 626.1,932.5 627.4,932.5 628.8,932.5 630.2,932.5 631.6,932.5 633.0,932.5 634.4,932.5 635.7,932.5 637.1,932.5 638.5,932.5 639.9,932.5 641.3,932.5 642.6,932.5 644.0,932.5 645.4,932.5 646.8,932.5 648.2,932.5 649.6,932.5 650.9,932.5 652.3,932.5 653.7,932.5 655.1,932.5 656.5,932.5 657.8,932.5 659.2,932.5 660.6,932.5 662.0,932.5 663.4,932.5 664.8,932.5" stroke="#4DBEEE" stroke-width="1" fill="none" opacity="0.7"/>
<path d="M145.9 926.2h0M154.0 926.1h0M162.1 926.0h0M170.2 925.9h0M178.4 925.9h0M186.5 925.8h0M194.6 925.7h0M202.8 925.5h0M210.9 925.4h0M219.0 925.3h0M227.1 925.1h0M235.3 925.0h0M243.4 924.8h0M251.5 924.6h0M259.7 924.3h0M267.8 924.0h0M275.9 923.7h0M284.0 923.4h0M292.2 923.0h0M300.3 922.4h0M308.4 921.8h0M316.6 921.1h0M324.7 920.1h0M332.8 918.8h0M340.9 917.1h0M349.1 914.5h0M357.2 910.5h0M365.3 906.2h0M373.5 910.7h0M381.6 924.2h0M389.7 931.4h0M397.8 932.5h0M406.0 932.5h0M414.1 932.5h0M422.2 932.5h0M430.4 932.5h0M438.5 932.5h0M446.6 932.5h0M454.8 932.5h0M462.9 932.5h0M471.0 932.5h0M479.1 932.5h0M487.3 932.5h0M495.4 932.5h0M503.5 932.5h0M511.7 932.5h0M519.8 932.5h0M527.9 932.5h0M536.0 932.5h0M544.2 932.5h0M552.3 932.5h0M560.4 932.5h0M568.6 932.5h0M576.7 932.5h0M584.8 932.5h0M592.9 932.5h0M601.1 932.5h0M609.2 932.5h0M617.3 932.5h0M625.5 932.5h0M633.6 932.5h0M641.7 932.5h0M649.8 932.5h0M658.0 932.5h0" stroke="#3d98be" stroke-width="4" stroke-linecap="round" fill="none"/>
<polyline points="139.8,925.8 141.2,925.8 142.5,925.8 143.9,925.8 145.3,925.8 146.7,925.8 148.1,925.8 149.5,925.8 150.8,925.8 152.2,925.7 153.6,925.7 155.0,925.7 156.4,925.7 157.7,925.7 159.1,925.7 160.5,925.7 161.9,925.7 163.3,925.6 164.6,925.6 166.0,925.6 167.4,925.6 168.8,925.6 170.2,925.6 171.6,925.6 172.9,925.5 174.3,925.5 175.7,925.5 177.1,925.5 178.5,925.5 179.8,925.5 181.2,925.5 182.6,925.4 184.0,925.4 185.4,925.4 186.8,925.4 188.1,925.4 189.5,925.4 190.9,925.3 192.3,925.3 193.7,925.3 195.0,925.3 196.4,925.3 197.8,925.3 199.2,925.2 200.6,925.2 201.9,925.2 203.3,925.2 204.7,925.2 206.1,925.1 207.5,925.1 208.9,925.1 210.2,925.1 211.6,925.1 213.0,925.0 214.4,925.0 215.8,925.0 217.1,925.0 218.5,925.0 219.9,924.9 221.3,924.9 222.7,924.9 224.1,924.9 225.4,924.8 226.8,924.8 228.2,924.8 229.6,924.8 231.0,924.7 232.3,924.7 233.7,924.7 235.1,924.7 236.5,924.6 237.9,924.6 239.2,924.6 240.6,924.5 242.0,924.5 243.4,924.5 244.8,924.4 246.2,924.4 247.5,924.4 248.9,924.4 250.3,924.3 251.7,924.3 253.1,924.2 254.4,924.2 255.8,924.2 257.2,924.1 258.6,924.1 260.0,924.1 261.4,924.0 262.7,924.0 264.1,923.9 265.5,923.9 266.9,923.9 268.3,923.8 269.6,923.8 271.0,923.7 272.4,923.7 273.8,923.6 275.2,923.6 276.5,923.5 277.9,923.5 279.3,923.4 280.7,923.4 282.1,923.3 283.5,923.3 284.8,923.2 286.2,923.2 287.6,923.1 289.0,923.0 290.4,923.0 291.7,922.9 293.1,922.8 294.5,922.8 295.9,922.7 297.3,922.6 298.7,922.6 300.0,922.5 301.4,922.4 302.8,922.3 304.2,922.2 305.6,922.1 306.9,922.1 308.3,922.0 309.7,921.9 311.1,921.8 312.5,921.7 313.8,921.6 315.2,921.5 316.6,921.3 318.0,921.2 319.4,921.1 320.8,921.0 322.1,920.8 323.5,920.7 324.9,920.6 326.3,920.4 327.7,920.3 329.0,920.1 330.4,919.9 331.8,919.8 333.2,919.6 334.6,919.4 336.0,919.2 337.3,919.0 338.7,918.8 340.1,918.5 341.5,918.3 342.9,918.0 344.2,917.8 345.6,917.5 347.0,917.2 348.4,916.8 349.8,916.5 351.1,916.1 352.5,915.7 353.9,915.3 355.3,914.9 356.7,914.4 358.1,913.8 359.4,913.3 360.8,912.7 362.2,912.0 363.6,911.3 365.0,910.5 366.3,909.7 367.7,908.8 369.1,907.9 370.5,907.1 371.9,906.3 373.3,905.7 374.6,905.2 376.0,905.0 377.4,905.2 378.8,905.7 380.2,906.7 381.5,908.1 382.9,910.0 384.3,912.1 385.7,914.5 387.1,917.1 388.5,919.6 389.8,922.0 391.2,924.2 392.6,926.2 394.0,927.8 395.4,929.1 396.7,930.1 398.1,930.9 399.5,931.5 400.9,931.8 402.3,932.1 403.6,932.3 405.0,932.4 406.4,932.4 407.8,932.5 409.2,932.5 410.6,932.5 411.9,932.5 413.3,932.5 414.7,932.5 416.1,932.5 417.5,932.5 418.8,932.5 420.2,932.5 421.6,932.5 423.0,932.5 424.4,932.5 425.8,932.5 427.1,932.5 428.5,932.5 429.9,932.5 431.3,932.5 432.7,932.5 434.0,932.5 435.4,932.5 436.8,932.5 438.2,932.5 439.6,932.5 440.9,932.5 442.3,932.5 443.7,932.5 445.1,932.5 446.5,932.5 447.9,932.5 449.2,932.5 450.6,932.5 452.0,932.5 453.4,932.5 454.8,932.5 456.1,932.5 457.5,932.5 458.9,932.5 460.3,932.5 461.7,932.5 463.1,932.5 464.4,932.5 465.8,932.5 467.2,932.5 468.6,932.5 470.0,932.5 471.3,932.5 472.7,932.5 474.1,932.5 475.5,932.5 476.9,932.5 478.2,932.5 479.6,932.5 481.0,932.5 482.4,932.5 483.8,932.5 485.2,932.5 486.5,932.5 487.9,932.5 489.3,932.5 490.7,932.5 492.1,932.5 493.4,932.5 494.8,932.5 496.2,932.5 497.6,932.5 499.0,932.5 500.4,932.5 501.7,932.5 503.1,932.5 504.5,932.5 505.9,932.5 507.3,932.5 508.6,932.5 510.0,932.5 511.4,932.5 512.8,932.5 514.2,932.5 515.5,932.5 516.9,932.5 518.3,932.5 519.7,932.5 521.1,932.5 522.5,932.5 523.8,932.5 525.2,932.5 526.6,932.5 528.0,932.5 529.4,932.5 530.7,932.5 532.1,932.5 533.5,932.5 534.9,932.5 536.3,932.5 537.7,932.5 539.0,932.5 540.4,932.5 541.8,932.5 543.2,932.5 544.6,932.5 545.9,932.5 547.3,932.5 548.7,932.5 550.1,932.5 551.5,932.5 552.8,932.5 554.2,932.5 555.6,932.5 557.0,932.5 558.4,932.5 559.8,932.5 561.1,932.5 562.5,932.5 563.9,932.5 565.3,932.5 566.7,932.5 568.0,932.5 569.4,932.5 570.8,932.5 572.2,932.5 573.6,932.5 575.0,932.5 576.3,932.5 577.7,932.5 579.1,932.5 580.5,932.5 581.9,932.5 583.2,932.5 584.6,932.5 586.0,932.5 587.4,932.5 588.8,932.5 590.1,932.5 591.5,932.5 592.9,932.5 594.3,932.5 595.7,932.5 597.1,932.5 598.4,932.5 599.8,932.5 601.2,932.5 602.6,932.5 604.0,932.5 605.3,932.5 606.7,932.5 608.1,932.5 609.5,932.5 610.9,932.5 612.3,932.5 613.6,932.5 615.0,932.5 616.4,932.5 617.8,932.5 619.2,932.5 620.5,932.5 621.9,932.5 623.3,932.5 624.7,932.5 626.1,932.5 627.4,932.5 628.8,932.5 630.2,932.5 631.6,932.5 633.0,932.5 634.4,932.5 635.7,932.5 637.1,932.5 638.5,932.5 639.9,932.5 641.3,932.5 642.6,932.5 644.0,932.5 645.4,932.5 646.8,932.5 648.2,932.5 649.6,932.5 650.9,932.5 652.3,932.5 653.7,932.5 655.1,932.5 656.5,932.5 657.8,932.5 659.2,932.5 660.6,932.5 662.0,932.5 663.4,932.5 664.8,932.5" stroke="#77AC30" stroke-width="1" fill="none" opacity="0.7"/>
<path d="M145.9 925.8h0M154.0 925.7h0M162.1 925.7h0M170.2 925.6h0M178.4 925.5h0M186.5 925.4h0M194.6 925.3h0M202.8 925.2h0M210.9 925.1h0M219.0 924.9h0M227.1 924.8h0M235.3 924.6h0M243.4 924.5h0M251.5 924.3h0M259.7 924.1h0M267.8 923.8h0M275.9 923.6h0M284.0 923.2h0M292.2 922.9h0M300.3 922.5h0M308.4 922.0h0M316.6 921.3h0M324.7 920.6h0M332.8 919.6h0M340.9 918.4h0M349.1 916.7h0M357.2 914.2h0M365.3 910.3h0M373.5 905.6h0M381.6 908.2h0M389.7 921.8h0M397.8 930.8h0M406.0 932.4h0M414.1 932.5h0M422.2 932.5h0M430.4 932.5h0M438.5 932.5h0M446.6 932.5h0M454.8 932.5h0M462.9 932.5h0M471.0 932.5h0M479.1 932.5h0M487.3 932.5h0M495.4 932.5h0M503.5 932.5h0M511.7 932.5h0M519.8 932.5h0M527.9 932.5h0M536.0 932.5h0M544.2 932.5h0M552.3 932.5h0M560.4 932.5h0M568.6 932.5h0M576.7 932.5h0M584.8 932.5h0M592.9 932.5h0M601.1 932.5h0M609.2 932.5h0M617.3 932.5h0M625.5 932.5h0M633.6 932.5h0M641.7 932.5h0M649.8 932.5h0M658.0 932.5h0" stroke="#5f8926" stroke-width="4" stroke-linecap="round" fill="none"/>
<polyline points="139.8,925.5 141.2,925.4 142.5,925.4 143.9,925.4 145.3,925.4 146.7,925.4 148.1,925.4 149.5,925.4 150.8,925.4 152.2,925.4 153.6,925.3 155.0,925.3 156.4,925.3 157.7,925.3 159.1,925.3 160.5,925.3 161.9,925.3 163.3,925.3 164.6,925.2 166.0,925.2 167.4,925.2 168.8,925.2 170.2,925.2 171.6,925.2 172.9,925.2 174.3,925.2 175.7,925.1 177.1,925.1 178.5,925.1 179.8,925.1 181.2,925.1 182.6,925.1 184.0,925.1 185.4,925.0 186.8,925.0 188.1,925.0 189.5,925.0 190.9,925.0 192.3,925.0 193.7,924.9 195.0,924.9 196.4,924.9 197.8,924.9 199.2,924.9 200.6,924.9 201.9,924.8 203.3,924.8 204.7,924.8 206.1,924.8 207.5,924.8 208.9,924.8 210.2,924.7 211.6,924.7 213.0,924.7 214.4,924.7 215.8,924.7 217.1,924.6 218.5,924.6 219.9,924.6 221.3,924.6 222.7,924.5 224.1,924.5 225.4,924.5 226.8,924.5 228.2,924.5 229.6,924.4 231.0,924.4 232.3,924.4 233.7,924.4 235.1,924.3 236.5,924.3 237.9,924.3 239.2,924.3 240.6,924.2 242.0,924.2 243.4,924.2 244.8,924.1 246.2,924.1 247.5,924.1 248.9,924.1 250.3,924.0 251.7,924.0 253.1,924.0 254.4,923.9 255.8,923.9 257.2,923.9 258.6,923.8 260.0,923.8 261.4,923.8 262.7,923.7 264.1,923.7 265.5,923.7 266.9,923.6 268.3,923.6 269.6,923.5 271.0,923.5 272.4,923.5 273.8,923.4 275.2,923.4 276.5,923.3 277.9,923.3 279.3,923.2 280.7,923.2 282.1,923.1 283.5,923.1 284.8,923.0 286.2,923.0 287.6,922.9 289.0,922.9 290.4,922.8 291.7,922.8 293.1,922.7 294.5,922.7 295.9,922.6 297.3,922.5 298.7,922.5 300.0,922.4 301.4,922.3 302.8,922.3 304.2,922.2 305.6,922.1 306.9,922.0 308.3,922.0 309.7,921.9 311.1,921.8 312.5,921.7 313.8,921.6 315.2,921.5 316.6,921.4 318.0,921.4 319.4,921.3 320.8,921.2 322.1,921.0 323.5,920.9 324.9,920.8 326.3,920.7 327.7,920.6 329.0,920.5 330.4,920.3 331.8,920.2 333.2,920.0 334.6,919.9 336.0,919.7 337.3,919.6 338.7,919.4 340.1,919.2 341.5,919.1 342.9,918.9 344.2,918.7 345.6,918.5 347.0,918.2 348.4,918.0 349.8,917.8 351.1,917.5 352.5,917.2 353.9,917.0 355.3,916.6 356.7,916.3 358.1,916.0 359.4,915.6 360.8,915.2 362.2,914.8 363.6,914.4 365.0,913.9 366.3,913.4 367.7,912.8 369.1,912.2 370.5,911.5 371.9,910.8 373.3,910.1 374.6,909.2 376.0,908.4 377.4,907.5 378.8,906.6 380.2,905.8 381.5,905.0 382.9,904.4 384.3,904.1 385.7,904.0 387.1,904.3 388.5,905.1 389.8,906.3 391.2,908.0 392.6,910.0 394.0,912.4 395.4,914.9 396.7,917.6 398.1,920.2 399.5,922.6 400.9,924.8 402.3,926.7 403.6,928.2 405.0,929.5 406.4,930.4 407.8,931.1 409.2,931.6 410.6,931.9 411.9,932.2 413.3,932.3 414.7,932.4 416.1,932.4 417.5,932.5 418.8,932.5 420.2,932.5 421.6,932.5 423.0,932.5 424.4,932.5 425.8,932.5 427.1,932.5 428.5,932.5 429.9,932.5 431.3,932.5 432.7,932.5 434.0,932.5 435.4,932.5 436.8,932.5 438.2,932.5 439.6,932.5 440.9,932.5 442.3,932.5 443.7,932.5 445.1,932.5 446.5,932.5 447.9,932.5 449.2,932.5 450.6,932.5 452.0,932.5 453.4,932.5 454.8,932.5 456.1,932.5 457.5,932.5 458.9,932.5 460.3,932.5 461.7,932.5 463.1,932.5 464.4,932.5 465.8,932.5 467.2,932.5 468.6,932.5 470.0,932.5 471.3,932.5 472.7,932.5 474.1,932.5 475.5,932.5 476.9,932.5 478.2,932.5 479.6,932.5 481.0,932.5 482.4,932.5 483.8,932.5 485.2,932.5 486.5,932.5 487.9,932.5 489.3,932.5 490.7,932.5 492.1,932.5 493.4,932.5 494.8,932.5 496.2,932.5 497.6,932.5 499.0,932.5 500.4,932.5 501.7,932.5 503.1,932.5 504.5,932.5 505.9,932.5 507.3,932.5 508.6,932.5 510.0,932.5 511.4,932.5 512.8,932.5 514.2,932.5 515.5,932.5 516.9,932.5 518.3,932.5 519.7,932.5 521.1,932.5 522.5,932.5 523.8,932.5 525.2,932.5 526.6,932.5 528.0,932.5 529.4,932.5 530.7,932.5 532.1,932.5 533.5,932.5 534.9,932.5 536.3,932.5 537.7,932.5 539.0,932.5 540.4,932.5 541.8,932.5 543.2,932.5 544.6,932.5 545.9,932.5 547.3,932.5 548.7,932.5 550.1,932.5 551.5,932.5 552.8,932.5 554.2,932.5 555.6,932.5 557.0,932.5 558.4,932.5 559.8,932.5 561.1,932.5 562.5,932.5 563.9,932.5 565.3,932.5 566.7,932.5 568.0,932.5 569.4,932.5 570.8,932.5 572.2,932.5 573.6,932.5 575.0,932.5 576.3,932.5 577.7,932.5 579.1,932.5 580.5,932.5 581.9,932.5 583.2,932.5 584.6,932.5 586.0,932.5 587.4,932.5 588.8,932.5 590.1,932.5 591.5,932.5 592.9,932.5 594.3,932.5 595.7,932.5 597.1,932.5 598.4,932.5 599.8,932.5 601.2,932.5 602.6,932.5 604.0,932.5 605.3,932.5 606.7,932.5 608.1,932.5 609.5,932.5 610.9,932.5 612.3,932.5 613.6,932.5 615.0,932.5 616.4,932.5 617.8,932.5 619.2,932.5 620.5,932.5 621.9,932.5 623.3,932.5 624.7,932.5 626.1,932.5 627.4,932.5 628.8,932.5 630.2,932.5 631.6,932.5 633.0,932.5 634.4,932.5 635.7,932.5 637.1,932.5 638.5,932.5 639.9,932.5 641.3,932.5 642.6,932.5 644.0,932.5 645.4,932.5 646.8,932.5 648.2,932.5 649.6,932.5 650.9,932.5 652.3,932.5 653.7,932.5 655.1,932.5 656.5,932.5 657.8,932.5 659.2,932.5 660.6,932.5 662.0,932.5 663.4,932.5 664.8,932.5" stroke="#7E2F8E" stroke-width="1" fill="none" opacity="0.7"/>
<path d="M145.9 925.4h0M154.0 925.3h0M162.1 925.3h0M170.2 925.2h0M178.4 925.1h0M186.5 925.0h0M194.6 924.9h0M202.8 924.8h0M210.9 924.7h0M219.0 924.6h0M227.1 924.5h0M235.3 924.3h0M243.4 924.2h0M251.5 924.0h0M259.7 923.8h0M267.8 923.6h0M275.9 923.3h0M284.0 923.1h0M292.2 922.8h0M300.3 922.4h0M308.4 922.0h0M316.6 921.5h0M324.7 920.8h0M332.8 920.1h0M340.9 919.1h0M349.1 917.9h0M357.2 916.2h0M365.3 913.7h0M373.5 909.9h0M381.6 905.0h0M389.7 906.2h0M397.8 919.7h0M406.0 930.1h0M414.1 932.4h0M422.2 932.5h0M430.4 932.5h0M438.5 932.5h0M446.6 932.5h0M454.8 932.5h0M462.9 932.5h0M471.0 932.5h0M479.1 932.5h0M487.3 932.5h0M495.4 932.5h0M503.5 932.5h0M511.7 932.5h0M519.8 932.5h0M527.9 932.5h0M536.0 932.5h0M544.2 932.5h0M552.3 932.5h0M560.4 932.5h0M568.6 932.5h0M576.7 932.5h0M584.8 932.5h0M592.9 932.5h0M601.1 932.5h0M609.2 932.5h0M617.3 932.5h0M625.5 932.5h0M633.6 932.5h0M641.7 932.5h0M649.8 932.5h0M658.0 932.5h0" stroke="#5a2166" stroke-width="4" stroke-linecap="round" fill="none"/>
<polyline points="139.8,925.1 141.2,925.1 142.5,925.0 143.9,925.0 145.3,925.0 146.7,925.0 148.1,925.0 149.5,925.0 150.8,925.0 152.2,925.0 153.6,925.0 155.0,925.0 156.4,924.9 157.7,924.9 159.1,924.9 160.5,924.9 161.9,924.9 163.3,924.9 164.6,924.9 166.0,924.9 167.4,924.8 168.8,924.8 170.2,924.8 171.6,924.8 172.9,924.8 174.3,924.8 175.7,924.8 177.1,924.8 178.5,924.7 179.8,924.7 181.2,924.7 182.6,924.7 184.0,924.7 185.4,924.7 186.8,924.7 188.1,924.6 189.5,924.6 190.9,924.6 192.3,924.6 193.7,924.6 195.0,924.6 196.4,924.6 197.8,924.5 199.2,924.5 200.6,924.5 201.9,924.5 203.3,924.5 204.7,924.5 206.1,924.4 207.5,924.4 208.9,924.4 210.2,924.4 211.6,924.4 213.0,924.3 214.4,924.3 215.8,924.3 217.1,924.3 218.5,924.3 219.9,924.3 221.3,924.2 222.7,924.2 224.1,924.2 225.4,924.2 226.8,924.1 228.2,924.1 229.6,924.1 231.0,924.1 232.3,924.1 233.7,924.0 235.1,924.0 236.5,924.0 237.9,924.0 239.2,923.9 240.6,923.9 242.0,923.9 243.4,923.9 244.8,923.8 246.2,923.8 247.5,923.8 248.9,923.8 250.3,923.7 251.7,923.7 253.1,923.7 254.4,923.6 255.8,923.6 257.2,923.6 258.6,923.6 260.0,923.5 261.4,923.5 262.7,923.5 264.1,923.4 265.5,923.4 266.9,923.4 268.3,923.3 269.6,923.3 271.0,923.2 272.4,923.2 273.8,923.2 275.2,923.1 276.5,923.1 277.9,923.1 279.3,923.0 280.7,923.0 282.1,922.9 283.5,922.9 284.8,922.8 286.2,922.8 287.6,922.7 289.0,922.7 290.4,922.7 291.7,922.6 293.1,922.6 294.5,922.5 295.9,922.4 297.3,922.4 298.7,922.3 300.0,922.3 301.4,922.2 302.8,922.2 304.2,922.1 305.6,922.0 306.9,922.0 308.3,921.9 309.7,921.8 311.1,921.8 312.5,921.7 313.8,921.6 315.2,921.5 316.6,921.5 318.0,921.4 319.4,921.3 320.8,921.2 322.1,921.1 323.5,921.0 324.9,920.9 326.3,920.8 327.7,920.7 329.0,920.6 330.4,920.5 331.8,920.4 333.2,920.3 334.6,920.2 336.0,920.1 337.3,919.9 338.7,919.8 340.1,919.7 341.5,919.5 342.9,919.4 344.2,919.2 345.6,919.1 347.0,918.9 348.4,918.7 349.8,918.5 351.1,918.3 352.5,918.1 353.9,917.9 355.3,917.7 356.7,917.5 358.1,917.2 359.4,917.0 360.8,916.7 362.2,916.4 363.6,916.1 365.0,915.8 366.3,915.5 367.7,915.1 369.1,914.7 370.5,914.3 371.9,913.9 373.3,913.4 374.6,912.9 376.0,912.3 377.4,911.7 378.8,911.1 380.2,910.4 381.5,909.6 382.9,908.8 384.3,908.0 385.7,907.1 387.1,906.2 388.5,905.3 389.8,904.4 391.2,903.7 392.6,903.2 394.0,902.9 395.4,903.1 396.7,903.6 398.1,904.5 399.5,906.0 400.9,907.9 402.3,910.2 403.6,912.7 405.0,915.4 406.4,918.1 407.8,920.8 409.2,923.2 410.6,925.3 411.9,927.1 413.3,928.6 414.7,929.8 416.1,930.7 417.5,931.3 418.8,931.7 420.2,932.0 421.6,932.2 423.0,932.3 424.4,932.4 425.8,932.5 427.1,932.5 428.5,932.5 429.9,932.5 431.3,932.5 432.7,932.5 434.0,932.5 435.4,932.5 436.8,932.5 438.2,932.5 439.6,932.5 440.9,932.5 442.3,932.5 443.7,932.5 445.1,932.5 446.5,932.5 447.9,932.5 449.2,932.5 450.6,932.5 452.0,932.5 453.4,932.5 454.8,932.5 456.1,932.5 457.5,932.5 458.9,932.5 460.3,932.5 461.7,932.5 463.1,932.5 464.4,932.5 465.8,932.5 467.2,932.5 468.6,932.5 470.0,932.5 471.3,932.5 472.7,932.5 474.1,932.5 475.5,932.5 476.9,932.5 478.2,932.5 479.6,932.5 481.0,932.5 482.4,932.5 483.8,932.5 485.2,932.5 486.5,932.5 487.9,932.5 489.3,932.5 490.7,932.5 492.1,932.5 493.4,932.5 494.8,932.5 496.2,932.5 497.6,932.5 499.0,932.5 500.4,932.5 501.7,932.5 503.1,932.5 504.5,932.5 505.9,932.5 507.3,932.5 508.6,932.5 510.0,932.5 511.4,932.5 512.8,932.5 514.2,932.5 515.5,932.5 516.9,932.5 518.3,932.5 519.7,932.5 521.1,932.5 522.5,932.5 523.8,932.5 525.2,932.5 526.6,932.5 528.0,932.5 529.4,932.5 530.7,932.5 532.1,932.5 533.5,932.5 534.9,932.5 536.3,932.5 537.7,932.5 539.0,932.5 540.4,932.5 541.8,932.5 543.2,932.5 544.6,932.5 545.9,932.5 547.3,932.5 548.7,932.5 550.1,932.5 551.5,932.5 552.8,932.5 554.2,932.5 555.6,932.5 557.0,932.5 558.4,932.5 559.8,932.5 561.1,932.5 562.5,932.5 563.9,932.5 565.3,932.5 566.7,932.5 568.0,932.5 569.4,932.5 570.8,932.5 572.2,932.5 573.6,932.5 575.0,932.5 576.3,932.5 577.7,932.5 579.1,932.5 580.5,932.5 581.9,932.5 583.2,932.5 584.6,932.5 586.0,932.5 587.4,932.5 588.8,932.5 590.1,932.5 591.5,932.5 592.9,932.5 594.3,932.5 595.7,932.5 597.1,932.5 598.4,932.5 599.8,932.5 601.2,932.5 602.6,932.5 604.0,932.5 605.3,932.5 606.7,932.5 608.1,932.5 609.5,932.5 610.9,932.5 612.3,932.5 613.6,932.5 615.0,932.5 616.4,932.5 617.8,932.5 619.2,932.5 620.5,932.5 621.9,932.5 623.3,932.5 624.7,932.5 626.1,932.5 627.4,932.5 628.8,932.5 630.2,932.5 631.6,932.5 633.0,932.5 634.4,932.5 635.7,932.5 637.1,932.5 638.5,932.5 639.9,932.5 641.3,932.5 642.6,932.5 644.0,932.5 645.4,932.5 646.8,932.5 648.2,932.5 649.6,932.5 650.9,932.5 652.3,932.5 653.7,932.5 655.1,932.5 656.5,932.5 657.8,932.5 659.2,932.5 660.6,932.5 662.0,932.5 663.4,932.5 664.8,932.5" stroke="#EDB120" stroke-width="1" fill="none" opacity="0.7"/>
<path d="M145.9 925.0h0M154.0 925.0h0M162.1 924.9h0M170.2 924.8h0M178.4 924.7h0M186.5 924.7h0M194.6 924.6h0M202.8 924.5h0M210.9 924.4h0M219.0 924.3h0M227.1 924.1h0M235.3 924.0h0M243.4 923.9h0M251.5 923.7h0M259.7 923.5h0M267.8 923.3h0M275.9 923.1h0M284.0 922.9h0M292.2 922.6h0M300.3 922.3h0M308.4 921.9h0M316.6 921.5h0M324.7 921.0h0M332.8 920.3h0M340.9 919.6h0M349.1 918.6h0M357.2 917.4h0M365.3 915.7h0M373.5 913.3h0M381.6 909.6h0M389.7 904.5h0M397.8 904.3h0M406.0 917.3h0M414.1 929.3h0M422.2 932.3h0M430.4 932.5h0M438.5 932.5h0M446.6 932.5h0M454.8 932.5h0M462.9 932.5h0M471.0 932.5h0M479.1 932.5h0M487.3 932.5h0M495.4 932.5h0M503.5 932.5h0M511.7 932.5h0M519.8 932.5h0M527.9 932.5h0M536.0 932.5h0M544.2 932.5h0M552.3 932.5h0M560.4 932.5h0M568.6 932.5h0M576.7 932.5h0M584.8 932.5h0M592.9 932.5h0M601.1 932.5h0M609.2 932.5h0M617.3 932.5h0M625.5 932.5h0M633.6 932.5h0M641.7 932.5h0M649.8 932.5h0M658.0 932.5h0" stroke="#d09b1c" stroke-width="4" stroke-linecap="round" fill="none"/>
<polyline points="139.8,924.7 141.2,924.7 142.5,924.7 143.9,924.7 145.3,924.6 146.7,924.6 148.1,924.6 149.5,924.6 150.8,924.6 152.2,924.6 153.6,924.6 155.0,924.6 156.4,924.6 157.7,924.5 159.1,924.5 160.5,924.5 161.9,924.5 163.3,924.5 164.6,924.5 166.0,924.5 167.4,924.5 168.8,924.5 170.2,924.4 171.6,924.4 172.9,924.4 174.3,924.4 175.7,924.4 177.1,924.4 178.5,924.4 179.8,924.4 181.2,924.3 182.6,924.3 184.0,924.3 185.4,924.3 186.8,924.3 188.1,924.3 189.5,924.3 190.9,924.2 192.3,924.2 193.7,924.2 195.0,924.2 196.4,924.2 197.8,924.2 199.2,924.2 200.6,924.1 201.9,924.1 203.3,924.1 204.7,924.1 206.1,924.1 207.5,924.1 208.9,924.0 210.2,924.0 211.6,924.0 213.0,924.0 214.4,924.0 215.8,924.0 217.1,923.9 218.5,923.9 219.9,923.9 221.3,923.9 222.7,923.9 224.1,923.8 225.4,923.8 226.8,923.8 228.2,923.8 229.6,923.8 231.0,923.7 232.3,923.7 233.7,923.7 235.1,923.7 236.5,923.7 237.9,923.6 239.2,923.6 240.6,923.6 242.0,923.6 243.4,923.5 244.8,923.5 246.2,923.5 247.5,923.5 248.9,923.4 250.3,923.4 251.7,923.4 253.1,923.4 254.4,923.3 255.8,923.3 257.2,923.3 258.6,923.3 260.0,923.2 261.4,923.2 262.7,923.2 264.1,923.1 265.5,923.1 266.9,923.1 268.3,923.0 269.6,923.0 271.0,923.0 272.4,922.9 273.8,922.9 275.2,922.9 276.5,922.8 277.9,922.8 279.3,922.8 280.7,922.7 282.1,922.7 283.5,922.7 284.8,922.6 286.2,922.6 287.6,922.5 289.0,922.5 290.4,922.4 291.7,922.4 293.1,922.4 294.5,922.3 295.9,922.3 297.3,922.2 298.7,922.2 300.0,922.1 301.4,922.1 302.8,922.0 304.2,922.0 305.6,921.9 306.9,921.8 308.3,921.8 309.7,921.7 311.1,921.7 312.5,921.6 313.8,921.5 315.2,921.5 316.6,921.4 318.0,921.3 319.4,921.3 320.8,921.2 322.1,921.1 323.5,921.0 324.9,921.0 326.3,920.9 327.7,920.8 329.0,920.7 330.4,920.6 331.8,920.5 333.2,920.4 334.6,920.3 336.0,920.2 337.3,920.1 338.7,920.0 340.1,919.9 341.5,919.8 342.9,919.7 344.2,919.5 345.6,919.4 347.0,919.3 348.4,919.1 349.8,919.0 351.1,918.9 352.5,918.7 353.9,918.5 355.3,918.4 356.7,918.2 358.1,918.0 359.4,917.8 360.8,917.6 362.2,917.4 363.6,917.2 365.0,917.0 366.3,916.7 367.7,916.5 369.1,916.2 370.5,915.9 371.9,915.6 373.3,915.3 374.6,915.0 376.0,914.6 377.4,914.2 378.8,913.8 380.2,913.4 381.5,912.9 382.9,912.4 384.3,911.9 385.7,911.3 387.1,910.7 388.5,910.0 389.8,909.2 391.2,908.4 392.6,907.6 394.0,906.7 395.4,905.7 396.7,904.8 398.1,903.9 399.5,903.1 400.9,902.4 402.3,902.0 403.6,901.9 405.0,902.2 406.4,902.9 407.8,904.1 409.2,905.8 410.6,907.9 411.9,910.4 413.3,913.1 414.7,916.0 416.1,918.7 417.5,921.4 418.8,923.8 420.2,925.9 421.6,927.6 423.0,929.0 424.4,930.1 425.8,930.9 427.1,931.5 428.5,931.8 429.9,932.1 431.3,932.3 432.7,932.4 434.0,932.4 435.4,932.5 436.8,932.5 438.2,932.5 439.6,932.5 440.9,932.5 442.3,932.5 443.7,932.5 445.1,932.5 446.5,932.5 447.9,932.5 449.2,932.5 450.6,932.5 452.0,932.5 453.4,932.5 454.8,932.5 456.1,932.5 457.5,932.5 458.9,932.5 460.3,932.5 461.7,932.5 463.1,932.5 464.4,932.5 465.8,932.5 467.2,932.5 468.6,932.5 470.0,932.5 471.3,932.5 472.7,932.5 474.1,932.5 475.5,932.5 476.9,932.5 478.2,932.5 479.6,932.5 481.0,932.5 482.4,932.5 483.8,932.5 485.2,932.5 486.5,932.5 487.9,932.5 489.3,932.5 490.7,932.5 492.1,932.5 493.4,932.5 494.8,932.5 496.2,932.5 497.6,932.5 499.0,932.5 500.4,932.5 501.7,932.5 503.1,932.5 504.5,932.5 505.9,932.5 507.3,932.5 508.6,932.5 510.0,932.5 511.4,932.5 512.8,932.5 514.2,932.5 515.5,932.5 516.9,932.5 518.3,932.5 519.7,932.5 521.1,932.5 522.5,932.5 523.8,932.5 525.2,932.5 526.6,932.5 528.0,932.5 529.4,932.5 530.7,932.5 532.1,932.5 533.5,932.5 534.9,932.5 536.3,932.5 537.7,932.5 539.0,932.5 540.4,932.5 541.8,932.5 543.2,932.5 544.6,932.5 545.9,932.5 547.3,932.5 548.7,932.5 550.1,932.5 551.5,932.5 552.8,932.5 554.2,932.5 555.6,932.5 557.0,932.5 558.4,932.5 559.8,932.5 561.1,932.5 562.5,932.5 563.9,932.5 565.3,932.5 566.7,932.5 568.0,932.5 569.4,932.5 570.8,932.5 572.2,932.5 573.6,932.5 575.0,932.5 576.3,932.5 577.7,932.5 579.1,932.5 580.5,932.5 581.9,932.5 583.2,932.5 584.6,932.5 586.0,932.5 587.4,932.5 588.8,932.5 590.1,932.5 591.5,932.5 592.9,932.5 594.3,932.5 595.7,932.5 597.1,932.5 598.4,932.5 599.8,932.5 601.2,932.5 602.6,932.5 604.0,932.5 605.3,932.5 606.7,932.5 608.1,932.5 609.5,932.5 610.9,932.5 612.3,932.5 613.6,932.5 615.0,932.5 616.4,932.5 617.8,932.5 619.2,932.5 620.5,932.5 621.9,932.5 623.3,932.5 624.7,932.5 626.1,932.5 627.4,932.5 628.8,932.5 630.2,932.5 631.6,932.5 633.0,932.5 634.4,932.5 635.7,932.5 637.1,932.5 638.5,932.5 639.9,932.5 641.3,932.5 642.6,932.5 644.0,932.5 645.4,932.5 646.8,932.5 648.2,932.5 649.6,932.5 650.9,932.5 652.3,932.5 653.7,932.5 655.1,932.5 656.5,932.5 657.8,932.5 659.2,932.5 660.6,932.5 662.0,932.5 663.4,932.5 664.8,932.5" stroke="#D95319" stroke-width="1" fill="none" opacity="0.7"/>
<path d="M145.9 924.6h0M154.0 924.6h0M162.1 924.5h0M170.2 924.4h0M178.4 924.4h0M186.5 924.3h0M194.6 924.2h0M202.8 924.1h0M210.9 924.0h0M219.0 923.9h0M227.1 923.8h0M235.3 923.7h0M243.4 923.5h0M251.5 923.4h0M259.7 923.2h0M267.8 923.1h0M275.9 922.9h0M284.0 922.6h0M292.2 922.4h0M300.3 922.1h0M308.4 921.8h0M316.6 921.4h0M324.7 921.0h0M332.8 920.5h0M340.9 919.8h0M349.1 919.1h0M357.2 918.1h0M365.3 916.9h0M373.5 915.2h0M381.6 912.9h0M389.7 909.3h0M397.8 904.1h0M406.0 902.6h0M414.1 914.7h0M422.2 928.3h0M430.4 932.2h0M438.5 932.5h0M446.6 932.5h0M454.8 932.5h0M462.9 932.5h0M471.0 932.5h0M479.1 932.5h0M487.3 932.5h0M495.4 932.5h0M503.5 932.5h0M511.7 932.5h0M519.8 932.5h0M527.9 932.5h0M536.0 932.5h0M544.2 932.5h0M552.3 932.5h0M560.4 932.5h0M568.6 932.5h0M576.7 932.5h0M584.8 932.5h0M592.9 932.5h0M601.1 932.5h0M609.2 932.5h0M617.3 932.5h0M625.5 932.5h0M633.6 932.5h0M641.7 932.5h0M649.8 932.5h0M658.0 932.5h0" stroke="#9c3b12" stroke-width="4" stroke-linecap="round" fill="none"/>
<polyline points="139.8,924.3 141.2,924.3 142.5,924.3 143.9,924.3 145.3,924.3 146.7,924.2 148.1,924.2 149.5,924.2 150.8,924.2 152.2,924.2 153.6,924.2 155.0,924.2 156.4,924.2 157.7,924.2 159.1,924.2 160.5,924.1 161.9,924.1 163.3,924.1 164.6,924.1 166.0,924.1 167.4,924.1 168.8,924.1 170.2,924.1 171.6,924.1 172.9,924.0 174.3,924.0 175.7,924.0 177.1,924.0 178.5,924.0 179.8,924.0 181.2,924.0 182.6,924.0 184.0,923.9 185.4,923.9 186.8,923.9 188.1,923.9 189.5,923.9 190.9,923.9 192.3,923.9 193.7,923.9 195.0,923.8 196.4,923.8 197.8,923.8 199.2,923.8 200.6,923.8 201.9,923.8 203.3,923.8 204.7,923.7 206.1,923.7 207.5,923.7 208.9,923.7 210.2,923.7 211.6,923.7 213.0,923.6 214.4,923.6 215.8,923.6 217.1,923.6 218.5,923.6 219.9,923.6 221.3,923.5 222.7,923.5 224.1,923.5 225.4,923.5 226.8,923.5 228.2,923.4 229.6,923.4 231.0,923.4 232.3,923.4 233.7,923.4 235.1,923.3 236.5,923.3 237.9,923.3 239.2,923.3 240.6,923.3 242.0,923.2 243.4,923.2 244.8,923.2 246.2,923.2 247.5,923.2 248.9,923.1 250.3,923.1 251.7,923.1 253.1,923.1 254.4,923.0 255.8,923.0 257.2,923.0 258.6,923.0 260.0,922.9 261.4,922.9 262.7,922.9 264.1,922.8 265.5,922.8 266.9,922.8 268.3,922.8 269.6,922.7 271.0,922.7 272.4,922.7 273.8,922.6 275.2,922.6 276.5,922.6 277.9,922.5 279.3,922.5 280.7,922.5 282.1,922.4 283.5,922.4 284.8,922.4 286.2,922.3 287.6,922.3 289.0,922.3 290.4,922.2 291.7,922.2 293.1,922.1 294.5,922.1 295.9,922.0 297.3,922.0 298.7,922.0 300.0,921.9 301.4,921.9 302.8,921.8 304.2,921.8 305.6,921.7 306.9,921.7 308.3,921.6 309.7,921.6 311.1,921.5 312.5,921.5 313.8,921.4 315.2,921.3 316.6,921.3 318.0,921.2 319.4,921.2 320.8,921.1 322.1,921.0 323.5,921.0 324.9,920.9 326.3,920.8 327.7,920.8 329.0,920.7 330.4,920.6 331.8,920.5 333.2,920.5 334.6,920.4 336.0,920.3 337.3,920.2 338.7,920.1 340.1,920.0 341.5,919.9 342.9,919.8 344.2,919.7 345.6,919.6 347.0,919.5 348.4,919.4 349.8,919.3 351.1,919.2 352.5,919.0 353.9,918.9 355.3,918.8 356.7,918.6 358.1,918.5 359.4,918.3 360.8,918.2 362.2,918.0 363.6,917.9 365.0,917.7 366.3,917.5 367.7,917.3 369.1,917.1 370.5,916.9 371.9,916.7 373.3,916.4 374.6,916.2 376.0,915.9 377.4,915.7 378.8,915.4 380.2,915.1 381.5,914.8 382.9,914.5 384.3,914.1 385.7,913.7 387.1,913.3 388.5,912.9 389.8,912.4 391.2,911.9 392.6,911.4 394.0,910.8 395.4,910.2 396.7,909.6 398.1,908.8 399.5,908.0 400.9,907.2 402.3,906.3 403.6,905.4 405.0,904.4 406.4,903.4 407.8,902.5 409.2,901.8 410.6,901.2 411.9,900.9 413.3,900.9 414.7,901.4 416.1,902.4 417.5,903.8 418.8,905.8 420.2,908.1 421.6,910.8 423.0,913.7 424.4,916.6 425.8,919.4 427.1,922.1 428.5,924.4 429.9,926.4 431.3,928.1 432.7,929.4 434.0,930.4 435.4,931.1 436.8,931.6 438.2,931.9 439.6,932.2 440.9,932.3 442.3,932.4 443.7,932.4 445.1,932.5 446.5,932.5 447.9,932.5 449.2,932.5 450.6,932.5 452.0,932.5 453.4,932.5 454.8,932.5 456.1,932.5 457.5,932.5 458.9,932.5 460.3,932.5 461.7,932.5 463.1,932.5 464.4,932.5 465.8,932.5 467.2,932.5 468.6,932.5 470.0,932.5 471.3,932.5 472.7,932.5 474.1,932.5 475.5,932.5 476.9,932.5 478.2,932.5 479.6,932.5 481.0,932.5 482.4,932.5 483.8,932.5 485.2,932.5 486.5,932.5 487.9,932.5 489.3,932.5 490.7,932.5 492.1,932.5 493.4,932.5 494.8,932.5 496.2,932.5 497.6,932.5 499.0,932.5 500.4,932.5 501.7,932.5 503.1,932.5 504.5,932.5 505.9,932.5 507.3,932.5 508.6,932.5 510.0,932.5 511.4,932.5 512.8,932.5 514.2,932.5 515.5,932.5 516.9,932.5 518.3,932.5 519.7,932.5 521.1,932.5 522.5,932.5 523.8,932.5 525.2,932.5 526.6,932.5 528.0,932.5 529.4,932.5 530.7,932.5 532.1,932.5 533.5,932.5 534.9,932.5 536.3,932.5 537.7,932.5 539.0,932.5 540.4,932.5 541.8,932.5 543.2,932.5 544.6,932.5 545.9,932.5 547.3,932.5 548.7,932.5 550.1,932.5 551.5,932.5 552.8,932.5 554.2,932.5 555.6,932.5 557.0,932.5 558.4,932.5 559.8,932.5 561.1,932.5 562.5,932.5 563.9,932.5 565.3,932.5 566.7,932.5 568.0,932.5 569.4,932.5 570.8,932.5 572.2,932.5 573.6,932.5 575.0,932.5 576.3,932.5 577.7,932.5 579.1,932.5 580.5,932.5 581.9,932.5 583.2,932.5 584.6,932.5 586.0,932.5 587.4,932.5 588.8,932.5 590.1,932.5 591.5,932.5 592.9,932.5 594.3,932.5 595.7,932.5 597.1,932.5 598.4,932.5 599.8,932.5 601.2,932.5 602.6,932.5 604.0,932.5 605.3,932.5 606.7,932.5 608.1,932.5 609.5,932.5 610.9,932.5 612.3,932.5 613.6,932.5 615.0,932.5 616.4,932.5 617.8,932.5 619.2,932.5 620.5,932.5 621.9,932.5 623.3,932.5 624.7,932.5 626.1,932.5 627.4,932.5 628.8,932.5 630.2,932.5 631.6,932.5 633.0,932.5 634.4,932.5 635.7,932.5 637.1,932.5 638.5,932.5 639.9,932.5 641.3,932.5 642.6,932.5 644.0,932.5 645.4,932.5 646.8,932.5 648.2,932.5 649.6,932.5 650.9,932.5 652.3,932.5 653.7,932.5 655.1,932.5 656.5,932.5 657.8,932.5 659.2,932.5 660.6,932.5 662.0,932.5 663.4,932.5 664.8,932.5" stroke="#0072BD" stroke-width="1" fill="none" opacity="0.7"/>
<path d="M145.9 924.3h0M154.0 924.2h0M162.1 924.1h0M170.2 924.1h0M178.4 924.0h0M186.5 923.9h0M194.6 923.8h0M202.8 923.8h0M210.9 923.7h0M219.0 923.6h0M227.1 923.5h0M235.3 923.3h0M243.4 923.2h0M251.5 923.1h0M259.7 922.9h0M267.8 922.8h0M275.9 922.6h0M284.0 922.4h0M292.2 922.2h0M300.3 921.9h0M308.4 921.6h0M316.6 921.3h0M324.7 920.9h0M332.8 920.5h0M340.9 920.0h0M349.1 919.3h0M357.2 918.6h0M365.3 917.6h0M373.5 916.4h0M381.6 914.8h0M389.7 912.5h0M397.8 909.0h0M406.0 903.7h0M414.1 901.1h0M422.2 912.1h0M430.4 927.0h0M438.5 932.0h0M446.6 932.5h0M454.8 932.5h0M462.9 932.5h0M471.0 932.5h0M479.1 932.5h0M487.3 932.5h0M495.4 932.5h0M503.5 932.5h0M511.7 932.5h0M519.8 932.5h0M527.9 932.5h0M536.0 932.5h0M544.2 932.5h0M552.3 932.5h0M560.4 932.5h0M568.6 932.5h0M576.7 932.5h0M584.8 932.5h0M592.9 932.5h0M601.1 932.5h0M609.2 932.5h0M617.3 932.5h0M625.5 932.5h0M633.6 932.5h0M641.7 932.5h0M649.8 932.5h0M658.0 932.5h0" stroke="#005288" stroke-width="4" stroke-linecap="round" fill="none"/>
<polyline points="139.8,923.9 141.2,923.9 142.5,923.9 143.9,923.9 145.3,923.9 146.7,923.9 148.1,923.9 149.5,923.8 150.8,923.8 152.2,923.8 153.6,923.8 155.0,923.8 156.4,923.8 157.7,923.8 159.1,923.8 160.5,923.8 161.9,923.8 163.3,923.7 164.6,923.7 166.0,923.7 167.4,923.7 168.8,923.7 170.2,923.7 171.6,923.7 172.9,923.7 174.3,923.7 175.7,923.6 177.1,923.6 178.5,923.6 179.8,923.6 181.2,923.6 182.6,923.6 184.0,923.6 185.4,923.6 186.8,923.5 188.1,923.5 189.5,923.5 190.9,923.5 192.3,923.5 193.7,923.5 195.0,923.5 196.4,923.5 197.8,923.4 199.2,923.4 200.6,923.4 201.9,923.4 203.3,923.4 204.7,923.4 206.1,923.4 207.5,923.3 208.9,923.3 210.2,923.3 211.6,923.3 213.0,923.3 214.4,923.3 215.8,923.3 217.1,923.2 218.5,923.2 219.9,923.2 221.3,923.2 222.7,923.2 224.1,923.2 225.4,923.1 226.8,923.1 228.2,923.1 229.6,923.1 231.0,923.1 232.3,923.0 233.7,923.0 235.1,923.0 236.5,923.0 237.9,923.0 239.2,922.9 240.6,922.9 242.0,922.9 243.4,922.9 244.8,922.9 246.2,922.8 247.5,922.8 248.9,922.8 250.3,922.8 251.7,922.8 253.1,922.7 254.4,922.7 255.8,922.7 257.2,922.7 258.6,922.6 260.0,922.6 261.4,922.6 262.7,922.6 264.1,922.5 265.5,922.5 266.9,922.5 268.3,922.5 269.6,922.4 271.0,922.4 272.4,922.4 273.8,922.3 275.2,922.3 276.5,922.3 277.9,922.3 279.3,922.2 280.7,922.2 282.1,922.2 283.5,922.1 284.8,922.1 286.2,922.1 287.6,922.0 289.0,922.0 290.4,922.0 291.7,921.9 293.1,921.9 294.5,921.9 295.9,921.8 297.3,921.8 298.7,921.7 300.0,921.7 301.4,921.7 302.8,921.6 304.2,921.6 305.6,921.5 306.9,921.5 308.3,921.4 309.7,921.4 311.1,921.3 312.5,921.3 313.8,921.2 315.2,921.2 316.6,921.1 318.0,921.1 319.4,921.0 320.8,921.0 322.1,920.9 323.5,920.9 324.9,920.8 326.3,920.7 327.7,920.7 329.0,920.6 330.4,920.5 331.8,920.5 333.2,920.4 334.6,920.3 336.0,920.3 337.3,920.2 338.7,920.1 340.1,920.0 341.5,920.0 342.9,919.9 344.2,919.8 345.6,919.7 347.0,919.6 348.4,919.5 349.8,919.4 351.1,919.3 352.5,919.2 353.9,919.1 355.3,919.0 356.7,918.9 358.1,918.8 359.4,918.6 360.8,918.5 362.2,918.4 363.6,918.3 365.0,918.1 366.3,918.0 367.7,917.8 369.1,917.7 370.5,917.5 371.9,917.3 373.3,917.2 374.6,917.0 376.0,916.8 377.4,916.6 378.8,916.4 380.2,916.2 381.5,915.9 382.9,915.7 384.3,915.4 385.7,915.2 387.1,914.9 388.5,914.6 389.8,914.3 391.2,914.0 392.6,913.6 394.0,913.2 395.4,912.8 396.7,912.4 398.1,912.0 399.5,911.5 400.9,911.0 402.3,910.4 403.6,909.8 405.0,909.1 406.4,908.4 407.8,907.7 409.2,906.8 410.6,905.9 411.9,905.0 413.3,904.0 414.7,903.0 416.1,902.1 417.5,901.2 418.8,900.5 420.2,900.0 421.6,899.8 423.0,900.0 424.4,900.7 425.8,901.9 427.1,903.6 428.5,905.8 429.9,908.4 431.3,911.3 432.7,914.3 434.0,917.3 435.4,920.1 436.8,922.7 438.2,925.0 439.6,927.0 440.9,928.5 442.3,929.7 443.7,930.6 445.1,931.3 446.5,931.7 447.9,932.0 449.2,932.2 450.6,932.3 452.0,932.4 453.4,932.5 454.8,932.5 456.1,932.5 457.5,932.5 458.9,932.5 460.3,932.5 461.7,932.5 463.1,932.5 464.4,932.5 465.8,932.5 467.2,932.5 468.6,932.5 470.0,932.5 471.3,932.5 472.7,932.5 474.1,932.5 475.5,932.5 476.9,932.5 478.2,932.5 479.6,932.5 481.0,932.5 482.4,932.5 483.8,932.5 485.2,932.5 486.5,932.5 487.9,932.5 489.3,932.5 490.7,932.5 492.1,932.5 493.4,932.5 494.8,932.5 496.2,932.5 497.6,932.5 499.0,932.5 500.4,932.5 501.7,932.5 503.1,932.5 504.5,932.5 505.9,932.5 507.3,932.5 508.6,932.5 510.0,932.5 511.4,932.5 512.8,932.5 514.2,932.5 515.5,932.5 516.9,932.5 518.3,932.5 519.7,932.5 521.1,932.5 522.5,932.5 523.8,932.5 525.2,932.5 526.6,932.5 528.0,932.5 529.4,932.5 530.7,932.5 532.1,932.5 533.5,932.5 534.9,932.5 536.3,932.5 537.7,932.5 539.0,932.5 540.4,932.5 541.8,932.5 543.2,932.5 544.6,932.5 545.9,932.5 547.3,932.5 548.7,932.5 550.1,932.5 551.5,932.5 552.8,932.5 554.2,932.5 555.6,932.5 557.0,932.5 558.4,932.5 559.8,932.5 561.1,932.5 562.5,932.5 563.9,932.5 565.3,932.5 566.7,932.5 568.0,932.5 569.4,932.5 570.8,932.5 572.2,932.5 573.6,932.5 575.0,932.5 576.3,932.5 577.7,932.5 579.1,932.5 580.5,932.5 581.9,932.5 583.2,932.5 584.6,932.5 586.0,932.5 587.4,932.5 588.8,932.5 590.1,932.5 591.5,932.5 592.9,932.5 594.3,932.5 595.7,932.5 597.1,932.5 598.4,932.5 599.8,932.5 601.2,932.5 602.6,932.5 604.0,932.5 605.3,932.5 606.7,932.5 608.1,932.5 609.5,932.5 610.9,932.5 612.3,932.5 613.6,932.5 615.0,932.5 616.4,932.5 617.8,932.5 619.2,932.5 620.5,932.5 621.9,932.5 623.3,932.5 624.7,932.5 626.1,932.5 627.4,932.5 628.8,932.5 630.2,932.5 631.6,932.5 633.0,932.5 634.4,932.5 635.7,932.5 637.1,932.5 638.5,932.5 639.9,932.5 641.3,932.5 642.6,932.5 644.0,932.5 645.4,932.5 646.8,932.5 648.2,932.5 649.6,932.5 650.9,932.5 652.3,932.5 653.7,932.5 655.1,932.5 656.5,932.5 657.8,932.5 659.2,932.5 660.6,932.5 662.0,932.5 663.4,932.5 664.8,932.5" stroke="#A2142F" stroke-width="1" fill="none" opacity="0.7"/>
<path d="M145.9 923.9h0M154.0 923.8h0M162.1 923.8h0M170.2 923.7h0M178.4 923.6h0M186.5 923.6h0M194.6 923.5h0M202.8 923.4h0M210.9 923.3h0M219.0 923.2h0M227.1 923.1h0M235.3 923.0h0M243.4 922.9h0M251.5 922.8h0M259.7 922.6h0M267.8 922.5h0M275.9 922.3h0M284.0 922.1h0M292.2 921.9h0M300.3 921.7h0M308.4 921.4h0M316.6 921.1h0M324.7 920.8h0M332.8 920.4h0M340.9 920.0h0M349.1 919.5h0M357.2 918.8h0M365.3 918.1h0M373.5 917.1h0M381.6 915.9h0M389.7 914.3h0M397.8 912.1h0M406.0 908.7h0M414.1 903.5h0M422.2 899.8h0M430.4 909.4h0M438.5 925.5h0M446.6 931.8h0M454.8 932.5h0M462.9 932.5h0M471.0 932.5h0M479.1 932.5h0M487.3 932.5h0M495.4 932.5h0M503.5 932.5h0M511.7 932.5h0M519.8 932.5h0M527.9 932.5h0M536.0 932.5h0M544.2 932.5h0M552.3 932.5h0M560.4 932.5h0M568.6 932.5h0M576.7 932.5h0M584.8 932.5h0M592.9 932.5h0M601.1 932.5h0M609.2 932.5h0M617.3 932.5h0M625.5 932.5h0M633.6 932.5h0M641.7 932.5h0M649.8 932.5h0M658.0 932.5h0" stroke="#740e21" stroke-width="4" stroke-linecap="round" fill="none"/>
<polyline points="139.8,923.5 141.2,923.5 142.5,923.5 143.9,923.5 145.3,923.5 146.7,923.5 148.1,923.5 149.5,923.5 150.8,923.5 152.2,923.4 153.6,923.4 155.0,923.4 156.4,923.4 157.7,923.4 159.1,923.4 160.5,923.4 161.9,923.4 163.3,923.4 164.6,923.4 166.0,923.3 167.4,923.3 168.8,923.3 170.2,923.3 171.6,923.3 172.9,923.3 174.3,923.3 175.7,923.3 177.1,923.3 178.5,923.2 179.8,923.2 181.2,923.2 182.6,923.2 184.0,923.2 185.4,923.2 186.8,923.2 188.1,923.2 189.5,923.2 190.9,923.1 192.3,923.1 193.7,923.1 195.0,923.1 196.4,923.1 197.8,923.1 199.2,923.1 200.6,923.0 201.9,923.0 203.3,923.0 204.7,923.0 206.1,923.0 207.5,923.0 208.9,923.0 210.2,923.0 211.6,922.9 213.0,922.9 214.4,922.9 215.8,922.9 217.1,922.9 218.5,922.9 219.9,922.8 221.3,922.8 222.7,922.8 224.1,922.8 225.4,922.8 226.8,922.8 228.2,922.7 229.6,922.7 231.0,922.7 232.3,922.7 233.7,922.7 235.1,922.7 236.5,922.6 237.9,922.6 239.2,922.6 240.6,922.6 242.0,922.6 243.4,922.5 244.8,922.5 246.2,922.5 247.5,922.5 248.9,922.5 250.3,922.4 251.7,922.4 253.1,922.4 254.4,922.4 255.8,922.4 257.2,922.3 258.6,922.3 260.0,922.3 261.4,922.3 262.7,922.2 264.1,922.2 265.5,922.2 266.9,922.2 268.3,922.2 269.6,922.1 271.0,922.1 272.4,922.1 273.8,922.0 275.2,922.0 276.5,922.0 277.9,922.0 279.3,921.9 280.7,921.9 282.1,921.9 283.5,921.8 284.8,921.8 286.2,921.8 287.6,921.8 289.0,921.7 290.4,921.7 291.7,921.7 293.1,921.6 294.5,921.6 295.9,921.6 297.3,921.5 298.7,921.5 300.0,921.5 301.4,921.4 302.8,921.4 304.2,921.3 305.6,921.3 306.9,921.3 308.3,921.2 309.7,921.2 311.1,921.1 312.5,921.1 313.8,921.0 315.2,921.0 316.6,921.0 318.0,920.9 319.4,920.9 320.8,920.8 322.1,920.8 323.5,920.7 324.9,920.7 326.3,920.6 327.7,920.5 329.0,920.5 330.4,920.4 331.8,920.4 333.2,920.3 334.6,920.2 336.0,920.2 337.3,920.1 338.7,920.1 340.1,920.0 341.5,919.9 342.9,919.8 344.2,919.8 345.6,919.7 347.0,919.6 348.4,919.5 349.8,919.5 351.1,919.4 352.5,919.3 353.9,919.2 355.3,919.1 356.7,919.0 358.1,918.9 359.4,918.8 360.8,918.7 362.2,918.6 363.6,918.5 365.0,918.4 366.3,918.3 367.7,918.1 369.1,918.0 370.5,917.9 371.9,917.8 373.3,917.6 374.6,917.5 376.0,917.3 377.4,917.2 378.8,917.0 380.2,916.8 381.5,916.7 382.9,916.5 384.3,916.3 385.7,916.1 387.1,915.9 388.5,915.7 389.8,915.4 391.2,915.2 392.6,914.9 394.0,914.7 395.4,914.4 396.7,914.1 398.1,913.8 399.5,913.5 400.9,913.1 402.3,912.7 403.6,912.4 405.0,911.9 406.4,911.5 407.8,911.0 409.2,910.5 410.6,910.0 411.9,909.4 413.3,908.7 414.7,908.0 416.1,907.3 417.5,906.5 418.8,905.6 420.2,904.6 421.6,903.7 423.0,902.7 424.4,901.6 425.8,900.7 427.1,899.8 428.5,899.2 429.9,898.8 431.3,898.8 432.7,899.2 434.0,900.1 435.4,901.6 436.8,903.6 438.2,906.0 439.6,908.8 440.9,911.8 442.3,914.9 443.7,918.0 445.1,920.9 446.5,923.4 447.9,925.6 449.2,927.5 450.6,928.9 452.0,930.1 453.4,930.9 454.8,931.5 456.1,931.9 457.5,932.1 458.9,932.3 460.3,932.4 461.7,932.4 463.1,932.5 464.4,932.5 465.8,932.5 467.2,932.5 468.6,932.5 470.0,932.5 471.3,932.5 472.7,932.5 474.1,932.5 475.5,932.5 476.9,932.5 478.2,932.5 479.6,932.5 481.0,932.5 482.4,932.5 483.8,932.5 485.2,932.5 486.5,932.5 487.9,932.5 489.3,932.5 490.7,932.5 492.1,932.5 493.4,932.5 494.8,932.5 496.2,932.5 497.6,932.5 499.0,932.5 500.4,932.5 501.7,932.5 503.1,932.5 504.5,932.5 505.9,932.5 507.3,932.5 508.6,932.5 510.0,932.5 511.4,932.5 512.8,932.5 514.2,932.5 515.5,932.5 516.9,932.5 518.3,932.5 519.7,932.5 521.1,932.5 522.5,932.5 523.8,932.5 525.2,932.5 526.6,932.5 528.0,932.5 529.4,932.5 530.7,932.5 532.1,932.5 533.5,932.5 534.9,932.5 536.3,932.5 537.7,932.5 539.0,932.5 540.4,932.5 541.8,932.5 543.2,932.5 544.6,932.5 545.9,932.5 547.3,932.5 548.7,932.5 550.1,932.5 551.5,932.5 552.8,932.5 554.2,932.5 555.6,932.5 557.0,932.5 558.4,932.5 559.8,932.5 561.1,932.5 562.5,932.5 563.9,932.5 565.3,932.5 566.7,932.5 568.0,932.5 569.4,932.5 570.8,932.5 572.2,932.5 573.6,932.5 575.0,932.5 576.3,932.5 577.7,932.5 579.1,932.5 580.5,932.5 581.9,932.5 583.2,932.5 584.6,932.5 586.0,932.5 587.4,932.5 588.8,932.5 590.1,932.5 591.5,932.5 592.9,932.5 594.3,932.5 595.7,932.5 597.1,932.5 598.4,932.5 599.8,932.5 601.2,932.5 602.6,932.5 604.0,932.5 605.3,932.5 606.7,932.5 608.1,932.5 609.5,932.5 610.9,932.5 612.3,932.5 613.6,932.5 615.0,932.5 616.4,932.5 617.8,932.5 619.2,932.5 620.5,932.5 621.9,932.5 623.3,932.5 624.7,932.5 626.1,932.5 627.4,932.5 628.8,932.5 630.2,932.5 631.6,932.5 633.0,932.5 634.4,932.5 635.7,932.5 637.1,932.5 638.5,932.5 639.9,932.5 641.3,932.5 642.6,932.5 644.0,932.5 645.4,932.5 646.8,932.5 648.2,932.5 649.6,932.5 650.9,932.5 652.3,932.5 653.7,932.5 655.1,932.5 656.5,932.5 657.8,932.5 659.2,932.5 660.6,932.5 662.0,932.5 663.4,932.5 664.8,932.5" stroke="#4DBEEE" stroke-width="1" fill="none" opacity="0.7"/>
<path d="M145.9 923.5h0M154.0 923.4h0M162.1 923.4h0M170.2 923.3h0M178.4 923.2h0M186.5 923.2h0M194.6 923.1h0M202.8 923.0h0M210.9 922.9h0M219.0 922.9h0M227.1 922.8h0M235.3 922.7h0M243.4 922.5h0M251.5 922.4h0M259.7 922.3h0M267.8 922.2h0M275.9 922.0h0M284.0 921.8h0M292.2 921.6h0M300.3 921.4h0M308.4 921.2h0M316.6 921.0h0M324.7 920.7h0M332.8 920.3h0M340.9 919.9h0M349.1 919.5h0M357.2 919.0h0M365.3 918.3h0M373.5 917.6h0M381.6 916.6h0M389.7 915.4h0M397.8 913.8h0M406.0 911.6h0M414.1 908.3h0M422.2 903.2h0M430.4 898.8h0M438.5 906.6h0M446.6 923.7h0M454.8 931.5h0M462.9 932.5h0M471.0 932.5h0M479.1 932.5h0M487.3 932.5h0M495.4 932.5h0M503.5 932.5h0M511.7 932.5h0M519.8 932.5h0M527.9 932.5h0M536.0 932.5h0M544.2 932.5h0M552.3 932.5h0M560.4 932.5h0M568.6 932.5h0M576.7 932.5h0M584.8 932.5h0M592.9 932.5h0M601.1 932.5h0M609.2 932.5h0M617.3 932.5h0M625.5 932.5h0M633.6 932.5h0M641.7 932.5h0M649.8 932.5h0M658.0 932.5h0" stroke="#3d98be" stroke-width="4" stroke-linecap="round" fill="none"/>
<polyline points="139.8,923.1 141.2,923.1 142.5,923.1 143.9,923.1 145.3,923.1 146.7,923.1 148.1,923.1 149.5,923.1 150.8,923.1 152.2,923.1 153.6,923.0 155.0,923.0 156.4,923.0 157.7,923.0 159.1,923.0 160.5,923.0 161.9,923.0 163.3,923.0 164.6,923.0 166.0,923.0 167.4,923.0 168.8,922.9 170.2,922.9 171.6,922.9 172.9,922.9 174.3,922.9 175.7,922.9 177.1,922.9 178.5,922.9 179.8,922.9 181.2,922.8 182.6,922.8 184.0,922.8 185.4,922.8 186.8,922.8 188.1,922.8 189.5,922.8 190.9,922.8 192.3,922.8 193.7,922.7 195.0,922.7 196.4,922.7 197.8,922.7 199.2,922.7 200.6,922.7 201.9,922.7 203.3,922.7 204.7,922.6 206.1,922.6 207.5,922.6 208.9,922.6 210.2,922.6 211.6,922.6 213.0,922.6 214.4,922.5 215.8,922.5 217.1,922.5 218.5,922.5 219.9,922.5 221.3,922.5 222.7,922.5 224.1,922.4 225.4,922.4 226.8,922.4 228.2,922.4 229.6,922.4 231.0,922.4 232.3,922.3 233.7,922.3 235.1,922.3 236.5,922.3 237.9,922.3 239.2,922.3 240.6,922.2 242.0,922.2 243.4,922.2 244.8,922.2 246.2,922.2 247.5,922.2 248.9,922.1 250.3,922.1 251.7,922.1 253.1,922.1 254.4,922.1 255.8,922.0 257.2,922.0 258.6,922.0 260.0,922.0 261.4,921.9 262.7,921.9 264.1,921.9 265.5,921.9 266.9,921.9 268.3,921.8 269.6,921.8 271.0,921.8 272.4,921.8 273.8,921.7 275.2,921.7 276.5,921.7 277.9,921.7 279.3,921.6 280.7,921.6 282.1,921.6 283.5,921.6 284.8,921.5 286.2,921.5 287.6,921.5 289.0,921.4 290.4,921.4 291.7,921.4 293.1,921.4 294.5,921.3 295.9,921.3 297.3,921.3 298.7,921.2 300.0,921.2 301.4,921.2 302.8,921.1 304.2,921.1 305.6,921.1 306.9,921.0 308.3,921.0 309.7,920.9 311.1,920.9 312.5,920.9 313.8,920.8 315.2,920.8 316.6,920.7 318.0,920.7 319.4,920.7 320.8,920.6 322.1,920.6 323.5,920.5 324.9,920.5 326.3,920.4 327.7,920.4 329.0,920.3 330.4,920.3 331.8,920.2 333.2,920.2 334.6,920.1 336.0,920.1 337.3,920.0 338.7,919.9 340.1,919.9 341.5,919.8 342.9,919.8 344.2,919.7 345.6,919.6 347.0,919.6 348.4,919.5 349.8,919.4 351.1,919.4 352.5,919.3 353.9,919.2 355.3,919.1 356.7,919.0 358.1,919.0 359.4,918.9 360.8,918.8 362.2,918.7 363.6,918.6 365.0,918.5 366.3,918.4 367.7,918.3 369.1,918.2 370.5,918.1 371.9,918.0 373.3,917.9 374.6,917.8 376.0,917.6 377.4,917.5 378.8,917.4 380.2,917.2 381.5,917.1 382.9,917.0 384.3,916.8 385.7,916.7 387.1,916.5 388.5,916.3 389.8,916.1 391.2,916.0 392.6,915.8 394.0,915.6 395.4,915.4 396.7,915.1 398.1,914.9 399.5,914.7 400.9,914.4 402.3,914.2 403.6,913.9 405.0,913.6 406.4,913.3 407.8,913.0 409.2,912.6 410.6,912.3 411.9,911.9 413.3,911.5 414.7,911.0 416.1,910.6 417.5,910.0 418.8,909.5 420.2,908.9 421.6,908.3 423.0,907.6 424.4,906.9 425.8,906.1 427.1,905.2 428.5,904.3 429.9,903.3 431.3,902.3 432.7,901.3 434.0,900.3 435.4,899.3 436.8,898.5 438.2,898.0 439.6,897.7 440.9,897.9 442.3,898.5 443.7,899.7 445.1,901.4 446.5,903.7 447.9,906.3 449.2,909.3 450.6,912.5 452.0,915.7 453.4,918.8 454.8,921.6 456.1,924.1 457.5,926.2 458.9,928.0 460.3,929.3 461.7,930.4 463.1,931.1 464.4,931.6 465.8,932.0 467.2,932.2 468.6,932.3 470.0,932.4 471.3,932.4 472.7,932.5 474.1,932.5 475.5,932.5 476.9,932.5 478.2,932.5 479.6,932.5 481.0,932.5 482.4,932.5 483.8,932.5 485.2,932.5 486.5,932.5 487.9,932.5 489.3,932.5 490.7,932.5 492.1,932.5 493.4,932.5 494.8,932.5 496.2,932.5 497.6,932.5 499.0,932.5 500.4,932.5 501.7,932.5 503.1,932.5 504.5,932.5 505.9,932.5 507.3,932.5 508.6,932.5 510.0,932.5 511.4,932.5 512.8,932.5 514.2,932.5 515.5,932.5 516.9,932.5 518.3,932.5 519.7,932.5 521.1,932.5 522.5,932.5 523.8,932.5 525.2,932.5 526.6,932.5 528.0,932.5 529.4,932.5 530.7,932.5 532.1,932.5 533.5,932.5 534.9,932.5 536.3,932.5 537.7,932.5 539.0,932.5 540.4,932.5 541.8,932.5 543.2,932.5 544.6,932.5 545.9,932.5 547.3,932.5 548.7,932.5 550.1,932.5 551.5,932.5 552.8,932.5 554.2,932.5 555.6,932.5 557.0,932.5 558.4,932.5 559.8,932.5 561.1,932.5 562.5,932.5 563.9,932.5 565.3,932.5 566.7,932.5 568.0,932.5 569.4,932.5 570.8,932.5 572.2,932.5 573.6,932.5 575.0,932.5 576.3,932.5 577.7,932.5 579.1,932.5 580.5,932.5 581.9,932.5 583.2,932.5 584.6,932.5 586.0,932.5 587.4,932.5 588.8,932.5 590.1,932.5 591.5,932.5 592.9,932.5 594.3,932.5 595.7,932.5 597.1,932.5 598.4,932.5 599.8,932.5 601.2,932.5 602.6,932.5 604.0,932.5 605.3,932.5 606.7,932.5 608.1,932.5 609.5,932.5 610.9,932.5 612.3,932.5 613.6,932.5 615.0,932.5 616.4,932.5 617.8,932.5 619.2,932.5 620.5,932.5 621.9,932.5 623.3,932.5 624.7,932.5 626.1,932.5 627.4,932.5 628.8,932.5 630.2,932.5 631.6,932.5 633.0,932.5 634.4,932.5 635.7,932.5 637.1,932.5 638.5,932.5 639.9,932.5 641.3,932.5 642.6,932.5 644.0,932.5 645.4,932.5 646.8,932.5 648.2,932.5 649.6,932.5 650.9,932.5 652.3,932.5 653.7,932.5 655.1,932.5 656.5,932.5 657.8,932.5 659.2,932.5 660.6,932.5 662.0,932.5 663.4,932.5 664.8,932.5" stroke="#77AC30" stroke-width="1" fill="none" opacity="0.7"/>
<path d="M145.9 923.1h0M154.0 923.0h0M162.1 923.0h0M170.2 922.9h0M178.4 922.9h0M186.5 922.8h0M194.6 922.7h0M202.8 922.7h0M210.9 922.6h0M219.0 922.5h0M227.1 922.4h0M235.3 922.3h0M243.4 922.2h0M251.5 922.1h0M259.7 922.0h0M267.8 921.8h0M275.9 921.7h0M284.0 921.5h0M292.2 921.4h0M300.3 921.2h0M308.4 921.0h0M316.6 920.7h0M324.7 920.5h0M332.8 920.2h0M340.9 919.8h0M349.1 919.5h0M357.2 919.0h0M365.3 918.5h0M373.5 917.9h0M381.6 917.1h0M389.7 916.2h0M397.8 915.0h0M406.0 913.4h0M414.1 911.2h0M422.2 908.0h0M430.4 903.0h0M438.5 897.9h0M446.6 903.9h0M454.8 921.6h0M462.9 931.0h0M471.0 932.4h0M479.1 932.5h0M487.3 932.5h0M495.4 932.5h0M503.5 932.5h0M511.7 932.5h0M519.8 932.5h0M527.9 932.5h0M536.0 932.5h0M544.2 932.5h0M552.3 932.5h0M560.4 932.5h0M568.6 932.5h0M576.7 932.5h0M584.8 932.5h0M592.9 932.5h0M601.1 932.5h0M609.2 932.5h0M617.3 932.5h0M625.5 932.5h0M633.6 932.5h0M641.7 932.5h0M649.8 932.5h0M658.0 932.5h0" stroke="#5f8926" stroke-width="4" stroke-linecap="round" fill="none"/>
<polyline points="139.8,922.7 141.2,922.7 142.5,922.7 143.9,922.7 145.3,922.7 146.7,922.7 148.1,922.7 149.5,922.7 150.8,922.7 152.2,922.7 153.6,922.7 155.0,922.7 156.4,922.6 157.7,922.6 159.1,922.6 160.5,922.6 161.9,922.6 163.3,922.6 164.6,922.6 166.0,922.6 167.4,922.6 168.8,922.6 170.2,922.6 171.6,922.5 172.9,922.5 174.3,922.5 175.7,922.5 177.1,922.5 178.5,922.5 179.8,922.5 181.2,922.5 182.6,922.5 184.0,922.4 185.4,922.4 186.8,922.4 188.1,922.4 189.5,922.4 190.9,922.4 192.3,922.4 193.7,922.4 195.0,922.4 196.4,922.3 197.8,922.3 199.2,922.3 200.6,922.3 201.9,922.3 203.3,922.3 204.7,922.3 206.1,922.3 207.5,922.2 208.9,922.2 210.2,922.2 211.6,922.2 213.0,922.2 214.4,922.2 215.8,922.2 217.1,922.2 218.5,922.1 219.9,922.1 221.3,922.1 222.7,922.1 224.1,922.1 225.4,922.1 226.8,922.1 228.2,922.0 229.6,922.0 231.0,922.0 232.3,922.0 233.7,922.0 235.1,922.0 236.5,921.9 237.9,921.9 239.2,921.9 240.6,921.9 242.0,921.9 243.4,921.9 244.8,921.8 246.2,921.8 247.5,921.8 248.9,921.8 250.3,921.8 251.7,921.8 253.1,921.7 254.4,921.7 255.8,921.7 257.2,921.7 258.6,921.7 260.0,921.6 261.4,921.6 262.7,921.6 264.1,921.6 265.5,921.6 266.9,921.5 268.3,921.5 269.6,921.5 271.0,921.5 272.4,921.4 273.8,921.4 275.2,921.4 276.5,921.4 277.9,921.4 279.3,921.3 280.7,921.3 282.1,921.3 283.5,921.3 284.8,921.2 286.2,921.2 287.6,921.2 289.0,921.1 290.4,921.1 291.7,921.1 293.1,921.1 294.5,921.0 295.9,921.0 297.3,921.0 298.7,920.9 300.0,920.9 301.4,920.9 302.8,920.9 304.2,920.8 305.6,920.8 306.9,920.8 308.3,920.7 309.7,920.7 311.1,920.7 312.5,920.6 313.8,920.6 315.2,920.5 316.6,920.5 318.0,920.5 319.4,920.4 320.8,920.4 322.1,920.3 323.5,920.3 324.9,920.3 326.3,920.2 327.7,920.2 329.0,920.1 330.4,920.1 331.8,920.0 333.2,920.0 334.6,919.9 336.0,919.9 337.3,919.8 338.7,919.8 340.1,919.7 341.5,919.7 342.9,919.6 344.2,919.6 345.6,919.5 347.0,919.5 348.4,919.4 349.8,919.3 351.1,919.3 352.5,919.2 353.9,919.1 355.3,919.1 356.7,919.0 358.1,918.9 359.4,918.9 360.8,918.8 362.2,918.7 363.6,918.6 365.0,918.6 366.3,918.5 367.7,918.4 369.1,918.3 370.5,918.2 371.9,918.1 373.3,918.0 374.6,917.9 376.0,917.8 377.4,917.7 378.8,917.6 380.2,917.5 381.5,917.4 382.9,917.3 384.3,917.1 385.7,917.0 387.1,916.9 388.5,916.7 389.8,916.6 391.2,916.5 392.6,916.3 394.0,916.1 395.4,916.0 396.7,915.8 398.1,915.6 399.5,915.5 400.9,915.3 402.3,915.1 403.6,914.9 405.0,914.6 406.4,914.4 407.8,914.2 409.2,913.9 410.6,913.7 411.9,913.4 413.3,913.1 414.7,912.8 416.1,912.5 417.5,912.1 418.8,911.8 420.2,911.4 421.6,911.0 423.0,910.6 424.4,910.1 425.8,909.6 427.1,909.1 428.5,908.5 429.9,907.9 431.3,907.2 432.7,906.5 434.0,905.7 435.4,904.9 436.8,904.0 438.2,903.0 439.6,902.0 440.9,900.9 442.3,899.9 443.7,898.9 445.1,897.9 446.5,897.2 447.9,896.8 449.2,896.7 450.6,897.0 452.0,897.9 453.4,899.4 454.8,901.4 456.1,903.9 457.5,906.8 458.9,909.9 460.3,913.2 461.7,916.5 463.1,919.6 464.4,922.4 465.8,924.8 467.2,926.8 468.6,928.5 470.0,929.7 471.3,930.6 472.7,931.3 474.1,931.7 475.5,932.0 476.9,932.2 478.2,932.3 479.6,932.4 481.0,932.5 482.4,932.5 483.8,932.5 485.2,932.5 486.5,932.5 487.9,932.5 489.3,932.5 490.7,932.5 492.1,932.5 493.4,932.5 494.8,932.5 496.2,932.5 497.6,932.5 499.0,932.5 500.4,932.5 501.7,932.5 503.1,932.5 504.5,932.5 505.9,932.5 507.3,932.5 508.6,932.5 510.0,932.5 511.4,932.5 512.8,932.5 514.2,932.5 515.5,932.5 516.9,932.5 518.3,932.5 519.7,932.5 521.1,932.5 522.5,932.5 523.8,932.5 525.2,932.5 526.6,932.5 528.0,932.5 529.4,932.5 530.7,932.5 532.1,932.5 533.5,932.5 534.9,932.5 536.3,932.5 537.7,932.5 539.0,932.5 540.4,932.5 541.8,932.5 543.2,932.5 544.6,932.5 545.9,932.5 547.3,932.5 548.7,932.5 550.1,932.5 551.5,932.5 552.8,932.5 554.2,932.5 555.6,932.5 557.0,932.5 558.4,932.5 559.8,932.5 561.1,932.5 562.5,932.5 563.9,932.5 565.3,932.5 566.7,932.5 568.0,932.5 569.4,932.5 570.8,932.5 572.2,932.5 573.6,932.5 575.0,932.5 576.3,932.5 577.7,932.5 579.1,932.5 580.5,932.5 581.9,932.5 583.2,932.5 584.6,932.5 586.0,932.5 587.4,932.5 588.8,932.5 590.1,932.5 591.5,932.5 592.9,932.5 594.3,932.5 595.7,932.5 597.1,932.5 598.4,932.5 599.8,932.5 601.2,932.5 602.6,932.5 604.0,932.5 605.3,932.5 606.7,932.5 608.1,932.5 609.5,932.5 610.9,932.5 612.3,932.5 613.6,932.5 615.0,932.5 616.4,932.5 617.8,932.5 619.2,932.5 620.5,932.5 621.9,932.5 623.3,932.5 624.7,932.5 626.1,932.5 627.4,932.5 628.8,932.5 630.2,932.5 631.6,932.5 633.0,932.5 634.4,932.5 635.7,932.5 637.1,932.5 638.5,932.5 639.9,932.5 641.3,932.5 642.6,932.5 644.0,932.5 645.4,932.5 646.8,932.5 648.2,932.5 649.6,932.5 650.9,932.5 652.3,932.5 653.7,932.5 655.1,932.5 656.5,932.5 657.8,932.5 659.2,932.5 660.6,932.5 662.0,932.5 663.4,932.5 664.8,932.5" stroke="#7E2F8E" stroke-width="1" fill="none" opacity="0.7"/>
<path d="M145.9 922.7h0M154.0 922.7h0M162.1 922.6h0M170.2 922.6h0M178.4 922.5h0M186.5 922.4h0M194.6 922.4h0M202.8 922.3h0M210.9 922.2h0M219.0 922.1h0M227.1 922.1h0M235.3 922.0h0M243.4 921.9h0M251.5 921.8h0M259.7 921.6h0M267.8 921.5h0M275.9 921.4h0M284.0 921.2h0M292.2 921.1h0M300.3 920.9h0M308.4 920.7h0M316.6 920.5h0M324.7 920.3h0M332.8 920.0h0M340.9 919.7h0M349.1 919.4h0M357.2 919.0h0M365.3 918.5h0M373.5 918.0h0M381.6 917.4h0M389.7 916.6h0M397.8 915.7h0M406.0 914.5h0M414.1 912.9h0M422.2 910.8h0M430.4 907.7h0M438.5 902.8h0M446.6 897.2h0M454.8 901.3h0M462.9 919.2h0M471.0 930.4h0M479.1 932.4h0M487.3 932.5h0M495.4 932.5h0M503.5 932.5h0M511.7 932.5h0M519.8 932.5h0M527.9 932.5h0M536.0 932.5h0M544.2 932.5h0M552.3 932.5h0M560.4 932.5h0M568.6 932.5h0M576.7 932.5h0M584.8 932.5h0M592.9 932.5h0M601.1 932.5h0M609.2 932.5h0M617.3 932.5h0M625.5 932.5h0M633.6 932.5h0M641.7 932.5h0M649.8 932.5h0M658.0 932.5h0" stroke="#5a2166" stroke-width="4" stroke-linecap="round" fill="none"/>
<polyline points="139.8,922.4 141.2,922.4 142.5,922.3 143.9,922.3 145.3,922.3 146.7,922.3 148.1,922.3 149.5,922.3 150.8,922.3 152.2,922.3 153.6,922.3 155.0,922.3 156.4,922.3 157.7,922.3 159.1,922.2 160.5,922.2 161.9,922.2 163.3,922.2 164.6,922.2 166.0,922.2 167.4,922.2 168.8,922.2 170.2,922.2 171.6,922.2 172.9,922.2 174.3,922.1 175.7,922.1 177.1,922.1 178.5,922.1 179.8,922.1 181.2,922.1 182.6,922.1 184.0,922.1 185.4,922.1 186.8,922.1 188.1,922.0 189.5,922.0 190.9,922.0 192.3,922.0 193.7,922.0 195.0,922.0 196.4,922.0 197.8,922.0 199.2,922.0 200.6,921.9 201.9,921.9 203.3,921.9 204.7,921.9 206.1,921.9 207.5,921.9 208.9,921.9 210.2,921.9 211.6,921.8 213.0,921.8 214.4,921.8 215.8,921.8 217.1,921.8 218.5,921.8 219.9,921.8 221.3,921.8 222.7,921.7 224.1,921.7 225.4,921.7 226.8,921.7 228.2,921.7 229.6,921.7 231.0,921.7 232.3,921.6 233.7,921.6 235.1,921.6 236.5,921.6 237.9,921.6 239.2,921.6 240.6,921.5 242.0,921.5 243.4,921.5 244.8,921.5 246.2,921.5 247.5,921.5 248.9,921.4 250.3,921.4 251.7,921.4 253.1,921.4 254.4,921.4 255.8,921.4 257.2,921.3 258.6,921.3 260.0,921.3 261.4,921.3 262.7,921.3 264.1,921.2 265.5,921.2 266.9,921.2 268.3,921.2 269.6,921.2 271.0,921.1 272.4,921.1 273.8,921.1 275.2,921.1 276.5,921.1 277.9,921.0 279.3,921.0 280.7,921.0 282.1,921.0 283.5,920.9 284.8,920.9 286.2,920.9 287.6,920.9 289.0,920.8 290.4,920.8 291.7,920.8 293.1,920.8 294.5,920.7 295.9,920.7 297.3,920.7 298.7,920.7 300.0,920.6 301.4,920.6 302.8,920.6 304.2,920.5 305.6,920.5 306.9,920.5 308.3,920.5 309.7,920.4 311.1,920.4 312.5,920.4 313.8,920.3 315.2,920.3 316.6,920.3 318.0,920.2 319.4,920.2 320.8,920.1 322.1,920.1 323.5,920.1 324.9,920.0 326.3,920.0 327.7,920.0 329.0,919.9 330.4,919.9 331.8,919.8 333.2,919.8 334.6,919.7 336.0,919.7 337.3,919.7 338.7,919.6 340.1,919.6 341.5,919.5 342.9,919.5 344.2,919.4 345.6,919.4 347.0,919.3 348.4,919.3 349.8,919.2 351.1,919.2 352.5,919.1 353.9,919.0 355.3,919.0 356.7,918.9 358.1,918.9 359.4,918.8 360.8,918.7 362.2,918.7 363.6,918.6 365.0,918.5 366.3,918.4 367.7,918.4 369.1,918.3 370.5,918.2 371.9,918.1 373.3,918.1 374.6,918.0 376.0,917.9 377.4,917.8 378.8,917.7 380.2,917.6 381.5,917.5 382.9,917.4 384.3,917.3 385.7,917.2 387.1,917.1 388.5,917.0 389.8,916.9 391.2,916.8 392.6,916.6 394.0,916.5 395.4,916.4 396.7,916.2 398.1,916.1 399.5,916.0 400.9,915.8 402.3,915.6 403.6,915.5 405.0,915.3 406.4,915.1 407.8,915.0 409.2,914.8 410.6,914.6 411.9,914.4 413.3,914.1 414.7,913.9 416.1,913.7 417.5,913.4 418.8,913.2 420.2,912.9 421.6,912.6 423.0,912.3 424.4,912.0 425.8,911.7 427.1,911.3 428.5,910.9 429.9,910.5 431.3,910.1 432.7,909.6 434.0,909.2 435.4,908.6 436.8,908.1 438.2,907.5 439.6,906.8 440.9,906.1 442.3,905.4 443.7,904.5 445.1,903.7 446.5,902.7 447.9,901.7 449.2,900.6 450.6,899.5 452.0,898.5 453.4,897.5 454.8,896.6 456.1,895.9 457.5,895.6 458.9,895.7 460.3,896.3 461.7,897.5 463.1,899.2 464.4,901.5 465.8,904.2 467.2,907.3 468.6,910.7 470.0,914.1 471.3,917.4 472.7,920.4 474.1,923.1 475.5,925.5 476.9,927.4 478.2,928.9 479.6,930.0 481.0,930.9 482.4,931.5 483.8,931.9 485.2,932.1 486.5,932.3 487.9,932.4 489.3,932.4 490.7,932.5 492.1,932.5 493.4,932.5 494.8,932.5 496.2,932.5 497.6,932.5 499.0,932.5 500.4,932.5 501.7,932.5 503.1,932.5 504.5,932.5 505.9,932.5 507.3,932.5 508.6,932.5 510.0,932.5 511.4,932.5 512.8,932.5 514.2,932.5 515.5,932.5 516.9,932.5 518.3,932.5 519.7,932.5 521.1,932.5 522.5,932.5 523.8,932.5 525.2,932.5 526.6,932.5 528.0,932.5 529.4,932.5 530.7,932.5 532.1,932.5 533.5,932.5 534.9,932.5 536.3,932.5 537.7,932.5 539.0,932.5 540.4,932.5 541.8,932.5 543.2,932.5 544.6,932.5 545.9,932.5 547.3,932.5 548.7,932.5 550.1,932.5 551.5,932.5 552.8,932.5 554.2,932.5 555.6,932.5 557.0,932.5 558.4,932.5 559.8,932.5 561.1,932.5 562.5,932.5 563.9,932.5 565.3,932.5 566.7,932.5 568.0,932.5 569.4,932.5 570.8,932.5 572.2,932.5 573.6,932.5 575.0,932.5 576.3,932.5 577.7,932.5 579.1,932.5 580.5,932.5 581.9,932.5 583.2,932.5 584.6,932.5 586.0,932.5 587.4,932.5 588.8,932.5 590.1,932.5 591.5,932.5 592.9,932.5 594.3,932.5 595.7,932.5 597.1,932.5 598.4,932.5 599.8,932.5 601.2,932.5 602.6,932.5 604.0,932.5 605.3,932.5 606.7,932.5 608.1,932.5 609.5,932.5 610.9,932.5 612.3,932.5 613.6,932.5 615.0,932.5 616.4,932.5 617.8,932.5 619.2,932.5 620.5,932.5 621.9,932.5 623.3,932.5 624.7,932.5 626.1,932.5 627.4,932.5 628.8,932.5 630.2,932.5 631.6,932.5 633.0,932.5 634.4,932.5 635.7,932.5 637.1,932.5 638.5,932.5 639.9,932.5 641.3,932.5 642.6,932.5 644.0,932.5 645.4,932.5 646.8,932.5 648.2,932.5 649.6,932.5 650.9,932.5 652.3,932.5 653.7,932.5 655.1,932.5 656.5,932.5 657.8,932.5 659.2,932.5 660.6,932.5 662.0,932.5 663.4,932.5 664.8,932.5" stroke="#EDB120" stroke-width="1" fill="none" opacity="0.7"/>
<path d="M145.9 922.3h0M154.0 922.3h0M162.1 922.2h0M170.2 922.2h0M178.4 922.1h0M186.5 922.1h0M194.6 922.0h0M202.8 921.9h0M210.9 921.9h0M219.0 921.8h0M227.1 921.7h0M235.3 921.6h0M243.4 921.5h0M251.5 921.4h0M259.7 921.3h0M267.8 921.2h0M275.9 921.1h0M284.0 920.9h0M292.2 920.8h0M300.3 920.6h0M308.4 920.4h0M316.6 920.3h0M324.7 920.0h0M332.8 919.8h0M340.9 919.5h0M349.1 919.2h0M357.2 918.9h0M365.3 918.5h0M373.5 918.0h0M381.6 917.5h0M389.7 916.9h0M397.8 916.1h0M406.0 915.2h0M414.1 914.0h0M422.2 912.5h0M430.4 910.4h0M438.5 907.3h0M446.6 902.6h0M454.8 896.6h0M462.9 898.9h0M471.0 916.6h0M479.1 929.7h0M487.3 932.3h0M495.4 932.5h0M503.5 932.5h0M511.7 932.5h0M519.8 932.5h0M527.9 932.5h0M536.0 932.5h0M544.2 932.5h0M552.3 932.5h0M560.4 932.5h0M568.6 932.5h0M576.7 932.5h0M584.8 932.5h0M592.9 932.5h0M601.1 932.5h0M609.2 932.5h0M617.3 932.5h0M625.5 932.5h0M633.6 932.5h0M641.7 932.5h0M649.8 932.5h0M658.0 932.5h0" stroke="#d09b1c" stroke-width="4" stroke-linecap="round" fill="none"/>
<polyline points="139.8,922.0 141.2,922.0 142.5,922.0 143.9,922.0 145.3,921.9 146.7,921.9 148.1,921.9 149.5,921.9 150.8,921.9 152.2,921.9 153.6,921.9 155.0,921.9 156.4,921.9 157.7,921.9 159.1,921.9 160.5,921.9 161.9,921.8 163.3,921.8 164.6,921.8 166.0,921.8 167.4,921.8 168.8,921.8 170.2,921.8 171.6,921.8 172.9,921.8 174.3,921.8 175.7,921.8 177.1,921.7 178.5,921.7 179.8,921.7 181.2,921.7 182.6,921.7 184.0,921.7 185.4,921.7 186.8,921.7 188.1,921.7 189.5,921.7 190.9,921.6 192.3,921.6 193.7,921.6 195.0,921.6 196.4,921.6 197.8,921.6 199.2,921.6 200.6,921.6 201.9,921.6 203.3,921.5 204.7,921.5 206.1,921.5 207.5,921.5 208.9,921.5 210.2,921.5 211.6,921.5 213.0,921.5 214.4,921.5 215.8,921.4 217.1,921.4 218.5,921.4 219.9,921.4 221.3,921.4 222.7,921.4 224.1,921.4 225.4,921.3 226.8,921.3 228.2,921.3 229.6,921.3 231.0,921.3 232.3,921.3 233.7,921.3 235.1,921.3 236.5,921.2 237.9,921.2 239.2,921.2 240.6,921.2 242.0,921.2 243.4,921.2 244.8,921.1 246.2,921.1 247.5,921.1 248.9,921.1 250.3,921.1 251.7,921.1 253.1,921.1 254.4,921.0 255.8,921.0 257.2,921.0 258.6,921.0 260.0,921.0 261.4,920.9 262.7,920.9 264.1,920.9 265.5,920.9 266.9,920.9 268.3,920.9 269.6,920.8 271.0,920.8 272.4,920.8 273.8,920.8 275.2,920.8 276.5,920.7 277.9,920.7 279.3,920.7 280.7,920.7 282.1,920.6 283.5,920.6 284.8,920.6 286.2,920.6 287.6,920.6 289.0,920.5 290.4,920.5 291.7,920.5 293.1,920.5 294.5,920.4 295.9,920.4 297.3,920.4 298.7,920.4 300.0,920.3 301.4,920.3 302.8,920.3 304.2,920.3 305.6,920.2 306.9,920.2 308.3,920.2 309.7,920.1 311.1,920.1 312.5,920.1 313.8,920.1 315.2,920.0 316.6,920.0 318.0,920.0 319.4,919.9 320.8,919.9 322.1,919.9 323.5,919.8 324.9,919.8 326.3,919.8 327.7,919.7 329.0,919.7 330.4,919.6 331.8,919.6 333.2,919.6 334.6,919.5 336.0,919.5 337.3,919.5 338.7,919.4 340.1,919.4 341.5,919.3 342.9,919.3 344.2,919.2 345.6,919.2 347.0,919.1 348.4,919.1 349.8,919.0 351.1,919.0 352.5,918.9 353.9,918.9 355.3,918.8 356.7,918.8 358.1,918.7 359.4,918.7 360.8,918.6 362.2,918.6 363.6,918.5 365.0,918.4 366.3,918.4 367.7,918.3 369.1,918.3 370.5,918.2 371.9,918.1 373.3,918.0 374.6,918.0 376.0,917.9 377.4,917.8 378.8,917.7 380.2,917.7 381.5,917.6 382.9,917.5 384.3,917.4 385.7,917.3 387.1,917.2 388.5,917.1 389.8,917.0 391.2,916.9 392.6,916.8 394.0,916.7 395.4,916.6 396.7,916.5 398.1,916.4 399.5,916.3 400.9,916.2 402.3,916.0 403.6,915.9 405.0,915.8 406.4,915.6 407.8,915.5 409.2,915.3 410.6,915.2 411.9,915.0 413.3,914.8 414.7,914.7 416.1,914.5 417.5,914.3 418.8,914.1 420.2,913.9 421.6,913.7 423.0,913.5 424.4,913.2 425.8,913.0 427.1,912.7 428.5,912.5 429.9,912.2 431.3,911.9 432.7,911.6 434.0,911.2 435.4,910.9 436.8,910.5 438.2,910.1 439.6,909.7 440.9,909.3 442.3,908.8 443.7,908.3 445.1,907.8 446.5,907.2 447.9,906.6 449.2,905.9 450.6,905.2 452.0,904.4 453.4,903.5 454.8,902.6 456.1,901.6 457.5,900.5 458.9,899.5 460.3,898.3 461.7,897.3 463.1,896.2 464.4,895.4 465.8,894.8 467.2,894.6 468.6,894.8 470.0,895.5 471.3,896.8 472.7,898.7 474.1,901.1 475.5,904.0 476.9,907.3 478.2,910.8 479.6,914.2 481.0,917.6 482.4,920.7 483.8,923.4 485.2,925.7 486.5,927.6 487.9,929.1 489.3,930.2 490.7,931.0 492.1,931.5 493.4,931.9 494.8,932.1 496.2,932.3 497.6,932.4 499.0,932.4 500.4,932.5 501.7,932.5 503.1,932.5 504.5,932.5 505.9,932.5 507.3,932.5 508.6,932.5 510.0,932.5 511.4,932.5 512.8,932.5 514.2,932.5 515.5,932.5 516.9,932.5 518.3,932.5 519.7,932.5 521.1,932.5 522.5,932.5 523.8,932.5 525.2,932.5 526.6,932.5 528.0,932.5 529.4,932.5 530.7,932.5 532.1,932.5 533.5,932.5 534.9,932.5 536.3,932.5 537.7,932.5 539.0,932.5 540.4,932.5 541.8,932.5 543.2,932.5 544.6,932.5 545.9,932.5 547.3,932.5 548.7,932.5 550.1,932.5 551.5,932.5 552.8,932.5 554.2,932.5 555.6,932.5 557.0,932.5 558.4,932.5 559.8,932.5 561.1,932.5 562.5,932.5 563.9,932.5 565.3,932.5 566.7,932.5 568.0,932.5 569.4,932.5 570.8,932.5 572.2,932.5 573.6,932.5 575.0,932.5 576.3,932.5 577.7,932.5 579.1,932.5 580.5,932.5 581.9,932.5 583.2,932.5 584.6,932.5 586.0,932.5 587.4,932.5 588.8,932.5 590.1,932.5 591.5,932.5 592.9,932.5 594.3,932.5 595.7,932.5 597.1,932.5 598.4,932.5 599.8,932.5 601.2,932.5 602.6,932.5 604.0,932.5 605.3,932.5 606.7,932.5 608.1,932.5 609.5,932.5 610.9,932.5 612.3,932.5 613.6,932.5 615.0,932.5 616.4,932.5 617.8,932.5 619.2,932.5 620.5,932.5 621.9,932.5 623.3,932.5 624.7,932.5 626.1,932.5 627.4,932.5 628.8,932.5 630.2,932.5 631.6,932.5 633.0,932.5 634.4,932.5 635.7,932.5 637.1,932.5 638.5,932.5 639.9,932.5 641.3,932.5 642.6,932.5 644.0,932.5 645.4,932.5 646.8,932.5 648.2,932.5 649.6,932.5 650.9,932.5 652.3,932.5 653.7,932.5 655.1,932.5 656.5,932.5 657.8,932.5 659.2,932.5 660.6,932.5 662.0,932.5 663.4,932.5 664.8,932.5" stroke="#D95319" stroke-width="1" fill="none" opacity="0.7"/>
<path d="M145.9 921.9h0M154.0 921.9h0M162.1 921.8h0M170.2 921.8h0M178.4 921.7h0M186.5 921.7h0M194.6 921.6h0M202.8 921.6h0M210.9 921.5h0M219.0 921.4h0M227.1 921.3h0M235.3 921.3h0M243.4 921.2h0M251.5 921.1h0M259.7 921.0h0M267.8 920.9h0M275.9 920.7h0M284.0 920.6h0M292.2 920.5h0M300.3 920.3h0M308.4 920.2h0M316.6 920.0h0M324.7 919.8h0M332.8 919.6h0M340.9 919.3h0M349.1 919.1h0M357.2 918.8h0M365.3 918.4h0M373.5 918.0h0M381.6 917.6h0M389.7 917.1h0M397.8 916.4h0M406.0 915.7h0M414.1 914.8h0M422.2 913.6h0M430.4 912.1h0M438.5 910.0h0M446.6 907.1h0M454.8 902.6h0M462.9 896.4h0M471.0 896.4h0M479.1 913.0h0M487.3 928.4h0M495.4 932.2h0M503.5 932.5h0M511.7 932.5h0M519.8 932.5h0M527.9 932.5h0M536.0 932.5h0M544.2 932.5h0M552.3 932.5h0M560.4 932.5h0M568.6 932.5h0M576.7 932.5h0M584.8 932.5h0M592.9 932.5h0M601.1 932.5h0M609.2 932.5h0M617.3 932.5h0M625.5 932.5h0M633.6 932.5h0M641.7 932.5h0M649.8 932.5h0M658.0 932.5h0" stroke="#9c3b12" stroke-width="4" stroke-linecap="round" fill="none"/>
<polyline points="139.8,921.6 141.2,921.6 142.5,921.6 143.9,921.6 145.3,921.6 146.7,921.6 148.1,921.5 149.5,921.5 150.8,921.5 152.2,921.5 153.6,921.5 155.0,921.5 156.4,921.5 157.7,921.5 159.1,921.5 160.5,921.5 161.9,921.5 163.3,921.5 164.6,921.4 166.0,921.4 167.4,921.4 168.8,921.4 170.2,921.4 171.6,921.4 172.9,921.4 174.3,921.4 175.7,921.4 177.1,921.4 178.5,921.4 179.8,921.3 181.2,921.3 182.6,921.3 184.0,921.3 185.4,921.3 186.8,921.3 188.1,921.3 189.5,921.3 190.9,921.3 192.3,921.3 193.7,921.2 195.0,921.2 196.4,921.2 197.8,921.2 199.2,921.2 200.6,921.2 201.9,921.2 203.3,921.2 204.7,921.2 206.1,921.2 207.5,921.1 208.9,921.1 210.2,921.1 211.6,921.1 213.0,921.1 214.4,921.1 215.8,921.1 217.1,921.1 218.5,921.0 219.9,921.0 221.3,921.0 222.7,921.0 224.1,921.0 225.4,921.0 226.8,921.0 228.2,921.0 229.6,920.9 231.0,920.9 232.3,920.9 233.7,920.9 235.1,920.9 236.5,920.9 237.9,920.9 239.2,920.9 240.6,920.8 242.0,920.8 243.4,920.8 244.8,920.8 246.2,920.8 247.5,920.8 248.9,920.7 250.3,920.7 251.7,920.7 253.1,920.7 254.4,920.7 255.8,920.7 257.2,920.7 258.6,920.6 260.0,920.6 261.4,920.6 262.7,920.6 264.1,920.6 265.5,920.6 266.9,920.5 268.3,920.5 269.6,920.5 271.0,920.5 272.4,920.5 273.8,920.4 275.2,920.4 276.5,920.4 277.9,920.4 279.3,920.4 280.7,920.3 282.1,920.3 283.5,920.3 284.8,920.3 286.2,920.3 287.6,920.2 289.0,920.2 290.4,920.2 291.7,920.2 293.1,920.1 294.5,920.1 295.9,920.1 297.3,920.1 298.7,920.1 300.0,920.0 301.4,920.0 302.8,920.0 304.2,920.0 305.6,919.9 306.9,919.9 308.3,919.9 309.7,919.9 311.1,919.8 312.5,919.8 313.8,919.8 315.2,919.7 316.6,919.7 318.0,919.7 319.4,919.7 320.8,919.6 322.1,919.6 323.5,919.6 324.9,919.5 326.3,919.5 327.7,919.5 329.0,919.4 330.4,919.4 331.8,919.4 333.2,919.3 334.6,919.3 336.0,919.3 337.3,919.2 338.7,919.2 340.1,919.1 341.5,919.1 342.9,919.1 344.2,919.0 345.6,919.0 347.0,918.9 348.4,918.9 349.8,918.9 351.1,918.8 352.5,918.8 353.9,918.7 355.3,918.7 356.7,918.6 358.1,918.6 359.4,918.5 360.8,918.5 362.2,918.4 363.6,918.4 365.0,918.3 366.3,918.3 367.7,918.2 369.1,918.1 370.5,918.1 371.9,918.0 373.3,918.0 374.6,917.9 376.0,917.8 377.4,917.8 378.8,917.7 380.2,917.6 381.5,917.6 382.9,917.5 384.3,917.4 385.7,917.3 387.1,917.3 388.5,917.2 389.8,917.1 391.2,917.0 392.6,916.9 394.0,916.8 395.4,916.7 396.7,916.7 398.1,916.6 399.5,916.5 400.9,916.4 402.3,916.3 403.6,916.1 405.0,916.0 406.4,915.9 407.8,915.8 409.2,915.7 410.6,915.5 411.9,915.4 413.3,915.3 414.7,915.1 416.1,915.0 417.5,914.8 418.8,914.7 420.2,914.5 421.6,914.4 423.0,914.2 424.4,914.0 425.8,913.8 427.1,913.6 428.5,913.4 429.9,913.2 431.3,913.0 432.7,912.7 434.0,912.5 435.4,912.2 436.8,912.0 438.2,911.7 439.6,911.4 440.9,911.1 442.3,910.8 443.7,910.4 445.1,910.0 446.5,909.7 447.9,909.3 449.2,908.8 450.6,908.4 452.0,907.9 453.4,907.3 454.8,906.8 456.1,906.2 457.5,905.5 458.9,904.8 460.3,904.0 461.7,903.2 463.1,902.3 464.4,901.3 465.8,900.3 467.2,899.2 468.6,898.0 470.0,896.9 471.3,895.8 472.7,894.9 474.1,894.1 475.5,893.6 476.9,893.5 478.2,894.0 479.6,894.9 481.0,896.5 482.4,898.7 483.8,901.4 485.2,904.6 486.5,908.0 487.9,911.6 489.3,915.2 490.7,918.5 492.1,921.5 493.4,924.2 494.8,926.4 496.2,928.1 497.6,929.5 499.0,930.5 500.4,931.2 501.7,931.7 503.1,932.0 504.5,932.2 505.9,932.3 507.3,932.4 508.6,932.5 510.0,932.5 511.4,932.5 512.8,932.5 514.2,932.5 515.5,932.5 516.9,932.5 518.3,932.5 519.7,932.5 521.1,932.5 522.5,932.5 523.8,932.5 525.2,932.5 526.6,932.5 528.0,932.5 529.4,932.5 530.7,932.5 532.1,932.5 533.5,932.5 534.9,932.5 536.3,932.5 537.7,932.5 539.0,932.5 540.4,932.5 541.8,932.5 543.2,932.5 544.6,932.5 545.9,932.5 547.3,932.5 548.7,932.5 550.1,932.5 551.5,932.5 552.8,932.5 554.2,932.5 555.6,932.5 557.0,932.5 558.4,932.5 559.8,932.5 561.1,932.5 562.5,932.5 563.9,932.5 565.3,932.5 566.7,932.5 568.0,932.5 569.4,932.5 570.8,932.5 572.2,932.5 573.6,932.5 575.0,932.5 576.3,932.5 577.7,932.5 579.1,932.5 580.5,932.5 581.9,932.5 583.2,932.5 584.6,932.5 586.0,932.5 587.4,932.5 588.8,932.5 590.1,932.5 591.5,932.5 592.9,932.5 594.3,932.5 595.7,932.5 597.1,932.5 598.4,932.5 599.8,932.5 601.2,932.5 602.6,932.5 604.0,932.5 605.3,932.5 606.7,932.5 608.1,932.5 609.5,932.5 610.9,932.5 612.3,932.5 613.6,932.5 615.0,932.5 616.4,932.5 617.8,932.5 619.2,932.5 620.5,932.5 621.9,932.5 623.3,932.5 624.7,932.5 626.1,932.5 627.4,932.5 628.8,932.5 630.2,932.5 631.6,932.5 633.0,932.5 634.4,932.5 635.7,932.5 637.1,932.5 638.5,932.5 639.9,932.5 641.3,932.5 642.6,932.5 644.0,932.5 645.4,932.5 646.8,932.5 648.2,932.5 649.6,932.5 650.9,932.5 652.3,932.5 653.7,932.5 655.1,932.5 656.5,932.5 657.8,932.5 659.2,932.5 660.6,932.5 662.0,932.5 663.4,932.5 664.8,932.5" stroke="#0072BD" stroke-width="1" fill="none" opacity="0.7"/>
<path d="M145.9 921.6h0M154.0 921.5h0M162.1 921.5h0M170.2 921.4h0M178.4 921.4h0M186.5 921.3h0M194.6 921.2h0M202.8 921.2h0M210.9 921.1h0M219.0 921.0h0M227.1 921.0h0M235.3 920.9h0M243.4 920.8h0M251.5 920.7h0M259.7 920.6h0M267.8 920.5h0M275.9 920.4h0M284.0 920.3h0M292.2 920.2h0M300.3 920.0h0M308.4 919.9h0M316.6 919.7h0M324.7 919.5h0M332.8 919.3h0M340.9 919.1h0M349.1 918.9h0M357.2 918.6h0M365.3 918.3h0M373.5 918.0h0M381.6 917.6h0M389.7 917.1h0M397.8 916.6h0M406.0 915.9h0M414.1 915.2h0M422.2 914.3h0M430.4 913.1h0M438.5 911.6h0M446.6 909.6h0M454.8 906.8h0M462.9 902.4h0M471.0 896.1h0M479.1 894.5h0M487.3 909.9h0M495.4 927.1h0M503.5 932.1h0M511.7 932.5h0M519.8 932.5h0M527.9 932.5h0M536.0 932.5h0M544.2 932.5h0M552.3 932.5h0M560.4 932.5h0M568.6 932.5h0M576.7 932.5h0M584.8 932.5h0M592.9 932.5h0M601.1 932.5h0M609.2 932.5h0M617.3 932.5h0M625.5 932.5h0M633.6 932.5h0M641.7 932.5h0M649.8 932.5h0M658.0 932.5h0" stroke="#005288" stroke-width="4" stroke-linecap="round" fill="none"/>
<polyline points="139.8,920.4 141.2,920.4 142.5,920.4 143.9,920.4 145.3,920.4 146.7,920.4 148.1,920.3 149.5,920.3 150.8,920.3 152.2,920.3 153.6,920.3 155.0,920.3 156.4,920.3 157.7,920.3 159.1,920.3 160.5,920.3 161.9,920.3 163.3,920.3 164.6,920.2 166.0,920.2 167.4,920.2 168.8,920.2 170.2,920.2 171.6,920.2 172.9,920.2 174.3,920.2 175.7,920.2 177.1,920.2 178.5,920.2 179.8,920.1 181.2,920.1 182.6,920.1 184.0,920.1 185.4,920.1 186.8,920.1 188.1,920.1 189.5,920.1 190.9,920.1 192.3,920.1 193.7,920.0 195.0,920.0 196.4,920.0 197.8,920.0 199.2,920.0 200.6,920.0 201.9,920.0 203.3,920.0 204.7,920.0 206.1,919.9 207.5,919.9 208.9,919.9 210.2,919.9 211.6,919.9 213.0,919.9 214.4,919.9 215.8,919.9 217.1,919.8 218.5,919.8 219.9,919.8 221.3,919.8 222.7,919.8 224.1,919.8 225.4,919.8 226.8,919.8 228.2,919.7 229.6,919.7 231.0,919.7 232.3,919.7 233.7,919.7 235.1,919.7 236.5,919.7 237.9,919.6 239.2,919.6 240.6,919.6 242.0,919.6 243.4,919.6 244.8,919.6 246.2,919.6 247.5,919.5 248.9,919.5 250.3,919.5 251.7,919.5 253.1,919.5 254.4,919.5 255.8,919.4 257.2,919.4 258.6,919.4 260.0,919.4 261.4,919.4 262.7,919.4 264.1,919.3 265.5,919.3 266.9,919.3 268.3,919.3 269.6,919.3 271.0,919.2 272.4,919.2 273.8,919.2 275.2,919.2 276.5,919.2 277.9,919.2 279.3,919.1 280.7,919.1 282.1,919.1 283.5,919.1 284.8,919.0 286.2,919.0 287.6,919.0 289.0,919.0 290.4,919.0 291.7,918.9 293.1,918.9 294.5,918.9 295.9,918.9 297.3,918.8 298.7,918.8 300.0,918.8 301.4,918.8 302.8,918.7 304.2,918.7 305.6,918.7 306.9,918.7 308.3,918.6 309.7,918.6 311.1,918.6 312.5,918.6 313.8,918.5 315.2,918.5 316.6,918.5 318.0,918.4 319.4,918.4 320.8,918.4 322.1,918.4 323.5,918.3 324.9,918.3 326.3,918.3 327.7,918.2 329.0,918.2 330.4,918.2 331.8,918.1 333.2,918.1 334.6,918.1 336.0,918.0 337.3,918.0 338.7,918.0 340.1,917.9 341.5,917.9 342.9,917.8 344.2,917.8 345.6,917.8 347.0,917.7 348.4,917.7 349.8,917.6 351.1,917.6 352.5,917.5 353.9,917.5 355.3,917.5 356.7,917.4 358.1,917.4 359.4,917.3 360.8,917.3 362.2,917.2 363.6,917.2 365.0,917.1 366.3,917.1 367.7,917.0 369.1,916.9 370.5,916.9 371.9,916.8 373.3,916.8 374.6,916.7 376.0,916.7 377.4,916.6 378.8,916.5 380.2,916.5 381.5,916.4 382.9,916.3 384.3,916.3 385.7,916.2 387.1,916.1 388.5,916.0 389.8,916.0 391.2,915.9 392.6,915.8 394.0,915.7 395.4,915.6 396.7,915.5 398.1,915.5 399.5,915.4 400.9,915.3 402.3,915.2 403.6,915.1 405.0,915.0 406.4,914.9 407.8,914.8 409.2,914.6 410.6,914.5 411.9,914.4 413.3,914.3 414.7,914.2 416.1,914.0 417.5,913.9 418.8,913.8 420.2,913.6 421.6,913.5 423.0,913.3 424.4,913.2 425.8,913.0 427.1,912.8 428.5,912.7 429.9,912.5 431.3,912.3 432.7,912.1 434.0,911.9 435.4,911.7 436.8,911.5 438.2,911.2 439.6,911.0 440.9,910.7 442.3,910.5 443.7,910.2 445.1,909.9 446.5,909.6 447.9,909.3 449.2,909.0 450.6,908.6 452.0,908.2 453.4,907.8 454.8,907.4 456.1,907.0 457.5,906.5 458.9,906.0 460.3,905.5 461.7,904.9 463.1,904.3 464.4,903.7 465.8,903.0 467.2,902.2 468.6,901.4 470.0,900.5 471.3,899.6 472.7,898.5 474.1,897.4 475.5,896.2 476.9,895.0 478.2,893.8 479.6,892.5 481.0,891.4 482.4,890.5 483.8,889.8 485.2,889.5 486.5,889.8 487.9,890.6 489.3,892.1 490.7,894.2 492.1,897.0 493.4,900.3 494.8,904.0 496.2,907.9 497.6,911.9 499.0,915.7 500.4,919.1 501.7,922.2 503.1,924.8 504.5,927.0 505.9,928.6 507.3,929.9 508.6,930.8 510.0,931.4 511.4,931.8 512.8,932.1 514.2,932.3 515.5,932.4 516.9,932.4 518.3,932.5 519.7,932.5 521.1,932.5 522.5,932.5 523.8,932.5 525.2,932.5 526.6,932.5 528.0,932.5 529.4,932.5 530.7,932.5 532.1,932.5 533.5,932.5 534.9,932.5 536.3,932.5 537.7,932.5 539.0,932.5 540.4,932.5 541.8,932.5 543.2,932.5 544.6,932.5 545.9,932.5 547.3,932.5 548.7,932.5 550.1,932.5 551.5,932.5 552.8,932.5 554.2,932.5 555.6,932.5 557.0,932.5 558.4,932.5 559.8,932.5 561.1,932.5 562.5,932.5 563.9,932.5 565.3,932.5 566.7,932.5 568.0,932.5 569.4,932.5 570.8,932.5 572.2,932.5 573.6,932.5 575.0,932.5 576.3,932.5 577.7,932.5 579.1,932.5 580.5,932.5 581.9,932.5 583.2,932.5 584.6,932.5 586.0,932.5 587.4,932.5 588.8,932.5 590.1,932.5 591.5,932.5 592.9,932.5 594.3,932.5 595.7,932.5 597.1,932.5 598.4,932.5 599.8,932.5 601.2,932.5 602.6,932.5 604.0,932.5 605.3,932.5 606.7,932.5 608.1,932.5 609.5,932.5 610.9,932.5 612.3,932.5 613.6,932.5 615.0,932.5 616.4,932.5 617.8,932.5 619.2,932.5 620.5,932.5 621.9,932.5 623.3,932.5 624.7,932.5 626.1,932.5 627.4,932.5 628.8,932.5 630.2,932.5 631.6,932.5 633.0,932.5 634.4,932.5 635.7,932.5 637.1,932.5 638.5,932.5 639.9,932.5 641.3,932.5 642.6,932.5 644.0,932.5 645.4,932.5 646.8,932.5 648.2,932.5 649.6,932.5 650.9,932.5 652.3,932.5 653.7,932.5 655.1,932.5 656.5,932.5 657.8,932.5 659.2,932.5 660.6,932.5 662.0,932.5 663.4,932.5 664.8,932.5" stroke="#A2142F" stroke-width="1" fill="none" opacity="0.7"/>
<path d="M145.9 920.4h0M154.0 920.3h0M162.1 920.3h0M170.2 920.2h0M178.4 920.2h0M186.5 920.1h0M194.6 920.0h0M202.8 920.0h0M210.9 919.9h0M219.0 919.8h0M227.1 919.8h0M235.3 919.7h0M243.4 919.6h0M251.5 919.5h0M259.7 919.4h0M267.8 919.3h0M275.9 919.2h0M284.0 919.1h0M292.2 918.9h0M300.3 918.8h0M308.4 918.6h0M316.6 918.5h0M324.7 918.3h0M332.8 918.1h0M340.9 917.9h0M349.1 917.7h0M357.2 917.4h0M365.3 917.1h0M373.5 916.8h0M381.6 916.4h0M389.7 916.0h0M397.8 915.5h0M406.0 914.9h0M414.1 914.2h0M422.2 913.4h0M430.4 912.4h0M438.5 911.2h0M446.6 909.6h0M454.8 907.4h0M462.9 904.4h0M471.0 899.8h0M479.1 893.0h0M487.3 890.1h0M495.4 905.6h0M503.5 925.5h0M511.7 931.9h0M519.8 932.5h0M527.9 932.5h0M536.0 932.5h0M544.2 932.5h0M552.3 932.5h0M560.4 932.5h0M568.6 932.5h0M576.7 932.5h0M584.8 932.5h0M592.9 932.5h0M601.1 932.5h0M609.2 932.5h0M617.3 932.5h0M625.5 932.5h0M633.6 932.5h0M641.7 932.5h0M649.8 932.5h0M658.0 932.5h0" stroke="#740e21" stroke-width="4" stroke-linecap="round" fill="none"/>
<polyline points="139.8,918.4 141.2,918.4 142.5,918.4 143.9,918.4 145.3,918.4 146.7,918.4 148.1,918.4 149.5,918.4 150.8,918.4 152.2,918.4 153.6,918.3 155.0,918.3 156.4,918.3 157.7,918.3 159.1,918.3 160.5,918.3 161.9,918.3 163.3,918.3 164.6,918.3 166.0,918.3 167.4,918.2 168.8,918.2 170.2,918.2 171.6,918.2 172.9,918.2 174.3,918.2 175.7,918.2 177.1,918.2 178.5,918.2 179.8,918.1 181.2,918.1 182.6,918.1 184.0,918.1 185.4,918.1 186.8,918.1 188.1,918.1 189.5,918.1 190.9,918.0 192.3,918.0 193.7,918.0 195.0,918.0 196.4,918.0 197.8,918.0 199.2,918.0 200.6,918.0 201.9,917.9 203.3,917.9 204.7,917.9 206.1,917.9 207.5,917.9 208.9,917.9 210.2,917.9 211.6,917.8 213.0,917.8 214.4,917.8 215.8,917.8 217.1,917.8 218.5,917.8 219.9,917.8 221.3,917.7 222.7,917.7 224.1,917.7 225.4,917.7 226.8,917.7 228.2,917.7 229.6,917.7 231.0,917.6 232.3,917.6 233.7,917.6 235.1,917.6 236.5,917.6 237.9,917.6 239.2,917.5 240.6,917.5 242.0,917.5 243.4,917.5 244.8,917.5 246.2,917.4 247.5,917.4 248.9,917.4 250.3,917.4 251.7,917.4 253.1,917.4 254.4,917.3 255.8,917.3 257.2,917.3 258.6,917.3 260.0,917.3 261.4,917.2 262.7,917.2 264.1,917.2 265.5,917.2 266.9,917.2 268.3,917.1 269.6,917.1 271.0,917.1 272.4,917.1 273.8,917.0 275.2,917.0 276.5,917.0 277.9,917.0 279.3,917.0 280.7,916.9 282.1,916.9 283.5,916.9 284.8,916.9 286.2,916.8 287.6,916.8 289.0,916.8 290.4,916.8 291.7,916.7 293.1,916.7 294.5,916.7 295.9,916.6 297.3,916.6 298.7,916.6 300.0,916.6 301.4,916.5 302.8,916.5 304.2,916.5 305.6,916.4 306.9,916.4 308.3,916.4 309.7,916.4 311.1,916.3 312.5,916.3 313.8,916.3 315.2,916.2 316.6,916.2 318.0,916.2 319.4,916.1 320.8,916.1 322.1,916.1 323.5,916.0 324.9,916.0 326.3,916.0 327.7,915.9 329.0,915.9 330.4,915.8 331.8,915.8 333.2,915.8 334.6,915.7 336.0,915.7 337.3,915.6 338.7,915.6 340.1,915.6 341.5,915.5 342.9,915.5 344.2,915.4 345.6,915.4 347.0,915.3 348.4,915.3 349.8,915.2 351.1,915.2 352.5,915.1 353.9,915.1 355.3,915.0 356.7,915.0 358.1,914.9 359.4,914.9 360.8,914.8 362.2,914.8 363.6,914.7 365.0,914.6 366.3,914.6 367.7,914.5 369.1,914.5 370.5,914.4 371.9,914.3 373.3,914.3 374.6,914.2 376.0,914.1 377.4,914.1 378.8,914.0 380.2,913.9 381.5,913.9 382.9,913.8 384.3,913.7 385.7,913.6 387.1,913.5 388.5,913.5 389.8,913.4 391.2,913.3 392.6,913.2 394.0,913.1 395.4,913.0 396.7,912.9 398.1,912.8 399.5,912.7 400.9,912.6 402.3,912.5 403.6,912.4 405.0,912.3 406.4,912.2 407.8,912.1 409.2,912.0 410.6,911.8 411.9,911.7 413.3,911.6 414.7,911.5 416.1,911.3 417.5,911.2 418.8,911.0 420.2,910.9 421.6,910.7 423.0,910.6 424.4,910.4 425.8,910.2 427.1,910.1 428.5,909.9 429.9,909.7 431.3,909.5 432.7,909.3 434.0,909.1 435.4,908.9 436.8,908.7 438.2,908.5 439.6,908.2 440.9,908.0 442.3,907.7 443.7,907.4 445.1,907.2 446.5,906.9 447.9,906.6 449.2,906.3 450.6,905.9 452.0,905.6 453.4,905.2 454.8,904.8 456.1,904.4 457.5,904.0 458.9,903.6 460.3,903.1 461.7,902.6 463.1,902.1 464.4,901.5 465.8,900.9 467.2,900.3 468.6,899.7 470.0,898.9 471.3,898.2 472.7,897.3 474.1,896.5 475.5,895.5 476.9,894.5 478.2,893.3 479.6,892.1 481.0,890.8 482.4,889.4 483.8,887.9 485.2,886.4 486.5,884.8 487.9,883.3 489.3,881.9 490.7,880.8 492.1,880.0 493.4,879.8 494.8,880.2 496.2,881.3 497.6,883.3 499.0,886.1 500.4,889.6 501.7,893.8 503.1,898.4 504.5,903.2 505.9,908.0 507.3,912.6 508.6,916.8 510.0,920.5 511.4,923.6 512.8,926.1 514.2,928.1 515.5,929.5 516.9,930.6 518.3,931.3 519.7,931.8 521.1,932.1 522.5,932.3 523.8,932.4 525.2,932.4 526.6,932.5 528.0,932.5 529.4,932.5 530.7,932.5 532.1,932.5 533.5,932.5 534.9,932.5 536.3,932.5 537.7,932.5 539.0,932.5 540.4,932.5 541.8,932.5 543.2,932.5 544.6,932.5 545.9,932.5 547.3,932.5 548.7,932.5 550.1,932.5 551.5,932.5 552.8,932.5 554.2,932.5 555.6,932.5 557.0,932.5 558.4,932.5 559.8,932.5 561.1,932.5 562.5,932.5 563.9,932.5 565.3,932.5 566.7,932.5 568.0,932.5 569.4,932.5 570.8,932.5 572.2,932.5 573.6,932.5 575.0,932.5 576.3,932.5 577.7,932.5 579.1,932.5 580.5,932.5 581.9,932.5 583.2,932.5 584.6,932.5 586.0,932.5 587.4,932.5 588.8,932.5 590.1,932.5 591.5,932.5 592.9,932.5 594.3,932.5 595.7,932.5 597.1,932.5 598.4,932.5 599.8,932.5 601.2,932.5 602.6,932.5 604.0,932.5 605.3,932.5 606.7,932.5 608.1,932.5 609.5,932.5 610.9,932.5 612.3,932.5 613.6,932.5 615.0,932.5 616.4,932.5 617.8,932.5 619.2,932.5 620.5,932.5 621.9,932.5 623.3,932.5 624.7,932.5 626.1,932.5 627.4,932.5 628.8,932.5 630.2,932.5 631.6,932.5 633.0,932.5 634.4,932.5 635.7,932.5 637.1,932.5 638.5,932.5 639.9,932.5 641.3,932.5 642.6,932.5 644.0,932.5 645.4,932.5 646.8,932.5 648.2,932.5 649.6,932.5 650.9,932.5 652.3,932.5 653.7,932.5 655.1,932.5 656.5,932.5 657.8,932.5 659.2,932.5 660.6,932.5 662.0,932.5 663.4,932.5 664.8,932.5" stroke="#4DBEEE" stroke-width="1" fill="none" opacity="0.7"/>
<path d="M145.9 918.4h0M154.0 918.3h0M162.1 918.3h0M170.2 918.2h0M178.4 918.2h0M186.5 918.1h0M194.6 918.0h0M202.8 917.9h0M210.9 917.9h0M219.0 917.8h0M227.1 917.7h0M235.3 917.6h0M243.4 917.5h0M251.5 917.4h0M259.7 917.3h0M267.8 917.1h0M275.9 917.0h0M284.0 916.9h0M292.2 916.7h0M300.3 916.6h0M308.4 916.4h0M316.6 916.2h0M324.7 916.0h0M332.8 915.8h0M340.9 915.5h0M349.1 915.3h0M357.2 915.0h0M365.3 914.6h0M373.5 914.3h0M381.6 913.9h0M389.7 913.4h0M397.8 912.8h0M406.0 912.2h0M414.1 911.5h0M422.2 910.7h0M430.4 909.6h0M438.5 908.4h0M446.6 906.8h0M454.8 904.8h0M462.9 902.2h0M471.0 898.4h0M479.1 892.6h0M487.3 884.0h0M495.4 880.6h0M503.5 899.8h0M511.7 924.1h0M519.8 931.8h0M527.9 932.5h0M536.0 932.5h0M544.2 932.5h0M552.3 932.5h0M560.4 932.5h0M568.6 932.5h0M576.7 932.5h0M584.8 932.5h0M592.9 932.5h0M601.1 932.5h0M609.2 932.5h0M617.3 932.5h0M625.5 932.5h0M633.6 932.5h0M641.7 932.5h0M649.8 932.5h0M658.0 932.5h0" stroke="#3d98be" stroke-width="4" stroke-linecap="round" fill="none"/>
<polyline points="139.8,916.5 141.2,916.5 142.5,916.5 143.9,916.5 145.3,916.4 146.7,916.4 148.1,916.4 149.5,916.4 150.8,916.4 152.2,916.4 153.6,916.4 155.0,916.4 156.4,916.4 157.7,916.3 159.1,916.3 160.5,916.3 161.9,916.3 163.3,916.3 164.6,916.3 166.0,916.3 167.4,916.3 168.8,916.2 170.2,916.2 171.6,916.2 172.9,916.2 174.3,916.2 175.7,916.2 177.1,916.2 178.5,916.1 179.8,916.1 181.2,916.1 182.6,916.1 184.0,916.1 185.4,916.1 186.8,916.1 188.1,916.1 189.5,916.0 190.9,916.0 192.3,916.0 193.7,916.0 195.0,916.0 196.4,916.0 197.8,915.9 199.2,915.9 200.6,915.9 201.9,915.9 203.3,915.9 204.7,915.9 206.1,915.9 207.5,915.8 208.9,915.8 210.2,915.8 211.6,915.8 213.0,915.8 214.4,915.8 215.8,915.7 217.1,915.7 218.5,915.7 219.9,915.7 221.3,915.7 222.7,915.6 224.1,915.6 225.4,915.6 226.8,915.6 228.2,915.6 229.6,915.6 231.0,915.5 232.3,915.5 233.7,915.5 235.1,915.5 236.5,915.5 237.9,915.4 239.2,915.4 240.6,915.4 242.0,915.4 243.4,915.4 244.8,915.3 246.2,915.3 247.5,915.3 248.9,915.3 250.3,915.3 251.7,915.2 253.1,915.2 254.4,915.2 255.8,915.2 257.2,915.1 258.6,915.1 260.0,915.1 261.4,915.1 262.7,915.1 264.1,915.0 265.5,915.0 266.9,915.0 268.3,915.0 269.6,914.9 271.0,914.9 272.4,914.9 273.8,914.9 275.2,914.8 276.5,914.8 277.9,914.8 279.3,914.7 280.7,914.7 282.1,914.7 283.5,914.7 284.8,914.6 286.2,914.6 287.6,914.6 289.0,914.5 290.4,914.5 291.7,914.5 293.1,914.5 294.5,914.4 295.9,914.4 297.3,914.4 298.7,914.3 300.0,914.3 301.4,914.3 302.8,914.2 304.2,914.2 305.6,914.2 306.9,914.1 308.3,914.1 309.7,914.1 311.1,914.0 312.5,914.0 313.8,914.0 315.2,913.9 316.6,913.9 318.0,913.8 319.4,913.8 320.8,913.8 322.1,913.7 323.5,913.7 324.9,913.6 326.3,913.6 327.7,913.6 329.0,913.5 330.4,913.5 331.8,913.4 333.2,913.4 334.6,913.3 336.0,913.3 337.3,913.2 338.7,913.2 340.1,913.1 341.5,913.1 342.9,913.1 344.2,913.0 345.6,912.9 347.0,912.9 348.4,912.8 349.8,912.8 351.1,912.7 352.5,912.7 353.9,912.6 355.3,912.6 356.7,912.5 358.1,912.5 359.4,912.4 360.8,912.3 362.2,912.3 363.6,912.2 365.0,912.1 366.3,912.1 367.7,912.0 369.1,911.9 370.5,911.9 371.9,911.8 373.3,911.7 374.6,911.7 376.0,911.6 377.4,911.5 378.8,911.4 380.2,911.3 381.5,911.3 382.9,911.2 384.3,911.1 385.7,911.0 387.1,910.9 388.5,910.8 389.8,910.7 391.2,910.7 392.6,910.6 394.0,910.5 395.4,910.4 396.7,910.3 398.1,910.2 399.5,910.1 400.9,909.9 402.3,909.8 403.6,909.7 405.0,909.6 406.4,909.5 407.8,909.4 409.2,909.2 410.6,909.1 411.9,909.0 413.3,908.9 414.7,908.7 416.1,908.6 417.5,908.4 418.8,908.3 420.2,908.1 421.6,908.0 423.0,907.8 424.4,907.6 425.8,907.5 427.1,907.3 428.5,907.1 429.9,906.9 431.3,906.7 432.7,906.5 434.0,906.3 435.4,906.1 436.8,905.9 438.2,905.7 439.6,905.4 440.9,905.2 442.3,904.9 443.7,904.7 445.1,904.4 446.5,904.1 447.9,903.8 449.2,903.5 450.6,903.2 452.0,902.9 453.4,902.6 454.8,902.2 456.1,901.8 457.5,901.5 458.9,901.1 460.3,900.6 461.7,900.2 463.1,899.7 464.4,899.3 465.8,898.7 467.2,898.2 468.6,897.6 470.0,897.1 471.3,896.4 472.7,895.8 474.1,895.0 475.5,894.3 476.9,893.5 478.2,892.6 479.6,891.7 481.0,890.7 482.4,889.7 483.8,888.5 485.2,887.3 486.5,886.0 487.9,884.5 489.3,883.0 490.7,881.3 492.1,879.5 493.4,877.6 494.8,875.6 496.2,873.7 497.6,871.8 499.0,870.2 500.4,868.9 501.7,868.2 503.1,868.1 504.5,868.9 505.9,870.7 507.3,873.5 508.6,877.2 510.0,881.9 511.4,887.2 512.8,893.0 514.2,898.9 515.5,904.8 516.9,910.2 518.3,915.2 519.7,919.4 521.1,922.9 522.5,925.7 523.8,927.8 525.2,929.4 526.6,930.5 528.0,931.3 529.4,931.8 530.7,932.1 532.1,932.3 533.5,932.4 534.9,932.4 536.3,932.5 537.7,932.5 539.0,932.5 540.4,932.5 541.8,932.5 543.2,932.5 544.6,932.5 545.9,932.5 547.3,932.5 548.7,932.5 550.1,932.5 551.5,932.5 552.8,932.5 554.2,932.5 555.6,932.5 557.0,932.5 558.4,932.5 559.8,932.5 561.1,932.5 562.5,932.5 563.9,932.5 565.3,932.5 566.7,932.5 568.0,932.5 569.4,932.5 570.8,932.5 572.2,932.5 573.6,932.5 575.0,932.5 576.3,932.5 577.7,932.5 579.1,932.5 580.5,932.5 581.9,932.5 583.2,932.5 584.6,932.5 586.0,932.5 587.4,932.5 588.8,932.5 590.1,932.5 591.5,932.5 592.9,932.5 594.3,932.5 595.7,932.5 597.1,932.5 598.4,932.5 599.8,932.5 601.2,932.5 602.6,932.5 604.0,932.5 605.3,932.5 606.7,932.5 608.1,932.5 609.5,932.5 610.9,932.5 612.3,932.5 613.6,932.5 615.0,932.5 616.4,932.5 617.8,932.5 619.2,932.5 620.5,932.5 621.9,932.5 623.3,932.5 624.7,932.5 626.1,932.5 627.4,932.5 628.8,932.5 630.2,932.5 631.6,932.5 633.0,932.5 634.4,932.5 635.7,932.5 637.1,932.5 638.5,932.5 639.9,932.5 641.3,932.5 642.6,932.5 644.0,932.5 645.4,932.5 646.8,932.5 648.2,932.5 649.6,932.5 650.9,932.5 652.3,932.5 653.7,932.5 655.1,932.5 656.5,932.5 657.8,932.5 659.2,932.5 660.6,932.5 662.0,932.5 663.4,932.5 664.8,932.5" stroke="#77AC30" stroke-width="1" fill="none" opacity="0.7"/>
<path d="M145.9 916.4h0M154.0 916.4h0M162.1 916.3h0M170.2 916.2h0M178.4 916.1h0M186.5 916.1h0M194.6 916.0h0M202.8 915.9h0M210.9 915.8h0M219.0 915.7h0M227.1 915.6h0M235.3 915.5h0M243.4 915.4h0M251.5 915.2h0M259.7 915.1h0M267.8 915.0h0M275.9 914.8h0M284.0 914.7h0M292.2 914.5h0M300.3 914.3h0M308.4 914.1h0M316.6 913.9h0M324.7 913.6h0M332.8 913.4h0M340.9 913.1h0M349.1 912.8h0M357.2 912.5h0M365.3 912.1h0M373.5 911.7h0M381.6 911.3h0M389.7 910.8h0M397.8 910.2h0M406.0 909.5h0M414.1 908.8h0M422.2 907.9h0M430.4 906.9h0M438.5 905.6h0M446.6 904.1h0M454.8 902.2h0M462.9 899.8h0M471.0 896.6h0M479.1 892.1h0M487.3 885.2h0M495.4 874.8h0M503.5 868.3h0M511.7 888.2h0M519.8 919.6h0M527.9 931.2h0M536.0 932.5h0M544.2 932.5h0M552.3 932.5h0M560.4 932.5h0M568.6 932.5h0M576.7 932.5h0M584.8 932.5h0M592.9 932.5h0M601.1 932.5h0M609.2 932.5h0M617.3 932.5h0M625.5 932.5h0M633.6 932.5h0M641.7 932.5h0M649.8 932.5h0M658.0 932.5h0" stroke="#5f8926" stroke-width="4" stroke-linecap="round" fill="none"/>
<polyline points="139.8,912.6 141.2,912.6 142.5,912.6 143.9,912.5 145.3,912.5 146.7,912.5 148.1,912.5 149.5,912.5 150.8,912.5 152.2,912.5 153.6,912.5 155.0,912.4 156.4,912.4 157.7,912.4 159.1,912.4 160.5,912.4 161.9,912.4 163.3,912.4 164.6,912.3 166.0,912.3 167.4,912.3 168.8,912.3 170.2,912.3 171.6,912.3 172.9,912.3 174.3,912.2 175.7,912.2 177.1,912.2 178.5,912.2 179.8,912.2 181.2,912.2 182.6,912.2 184.0,912.1 185.4,912.1 186.8,912.1 188.1,912.1 189.5,912.1 190.9,912.1 192.3,912.0 193.7,912.0 195.0,912.0 196.4,912.0 197.8,912.0 199.2,912.0 200.6,911.9 201.9,911.9 203.3,911.9 204.7,911.9 206.1,911.9 207.5,911.9 208.9,911.8 210.2,911.8 211.6,911.8 213.0,911.8 214.4,911.8 215.8,911.7 217.1,911.7 218.5,911.7 219.9,911.7 221.3,911.7 222.7,911.6 224.1,911.6 225.4,911.6 226.8,911.6 228.2,911.6 229.6,911.5 231.0,911.5 232.3,911.5 233.7,911.5 235.1,911.5 236.5,911.4 237.9,911.4 239.2,911.4 240.6,911.4 242.0,911.3 243.4,911.3 244.8,911.3 246.2,911.3 247.5,911.3 248.9,911.2 250.3,911.2 251.7,911.2 253.1,911.2 254.4,911.1 255.8,911.1 257.2,911.1 258.6,911.1 260.0,911.0 261.4,911.0 262.7,911.0 264.1,911.0 265.5,910.9 266.9,910.9 268.3,910.9 269.6,910.8 271.0,910.8 272.4,910.8 273.8,910.8 275.2,910.7 276.5,910.7 277.9,910.7 279.3,910.6 280.7,910.6 282.1,910.6 283.5,910.6 284.8,910.5 286.2,910.5 287.6,910.5 289.0,910.4 290.4,910.4 291.7,910.4 293.1,910.3 294.5,910.3 295.9,910.3 297.3,910.2 298.7,910.2 300.0,910.2 301.4,910.1 302.8,910.1 304.2,910.1 305.6,910.0 306.9,910.0 308.3,909.9 309.7,909.9 311.1,909.9 312.5,909.8 313.8,909.8 315.2,909.7 316.6,909.7 318.0,909.7 319.4,909.6 320.8,909.6 322.1,909.5 323.5,909.5 324.9,909.4 326.3,909.4 327.7,909.4 329.0,909.3 330.4,909.3 331.8,909.2 333.2,909.2 334.6,909.1 336.0,909.1 337.3,909.0 338.7,909.0 340.1,908.9 341.5,908.9 342.9,908.8 344.2,908.8 345.6,908.7 347.0,908.7 348.4,908.6 349.8,908.5 351.1,908.5 352.5,908.4 353.9,908.4 355.3,908.3 356.7,908.3 358.1,908.2 359.4,908.1 360.8,908.1 362.2,908.0 363.6,907.9 365.0,907.9 366.3,907.8 367.7,907.7 369.1,907.7 370.5,907.6 371.9,907.5 373.3,907.4 374.6,907.4 376.0,907.3 377.4,907.2 378.8,907.1 380.2,907.0 381.5,907.0 382.9,906.9 384.3,906.8 385.7,906.7 387.1,906.6 388.5,906.5 389.8,906.4 391.2,906.3 392.6,906.2 394.0,906.1 395.4,906.0 396.7,905.9 398.1,905.8 399.5,905.7 400.9,905.6 402.3,905.5 403.6,905.4 405.0,905.3 406.4,905.2 407.8,905.1 409.2,904.9 410.6,904.8 411.9,904.7 413.3,904.5 414.7,904.4 416.1,904.3 417.5,904.1 418.8,904.0 420.2,903.8 421.6,903.7 423.0,903.5 424.4,903.4 425.8,903.2 427.1,903.0 428.5,902.9 429.9,902.7 431.3,902.5 432.7,902.3 434.0,902.1 435.4,901.9 436.8,901.7 438.2,901.5 439.6,901.3 440.9,901.1 442.3,900.8 443.7,900.6 445.1,900.4 446.5,900.1 447.9,899.9 449.2,899.6 450.6,899.3 452.0,899.0 453.4,898.7 454.8,898.4 456.1,898.1 457.5,897.8 458.9,897.4 460.3,897.1 461.7,896.7 463.1,896.3 464.4,895.9 465.8,895.5 467.2,895.1 468.6,894.6 470.0,894.1 471.3,893.7 472.7,893.1 474.1,892.6 475.5,892.0 476.9,891.4 478.2,890.8 479.6,890.1 481.0,889.4 482.4,888.7 483.8,887.9 485.2,887.1 486.5,886.2 487.9,885.3 489.3,884.2 490.7,883.2 492.1,882.0 493.4,880.8 494.8,879.5 496.2,878.0 497.6,876.5 499.0,874.8 500.4,873.0 501.7,871.0 503.1,868.9 504.5,866.7 505.9,864.4 507.3,862.0 508.6,859.7 510.0,857.7 511.4,856.0 512.8,854.8 514.2,854.4 515.5,855.0 516.9,856.6 518.3,859.5 519.7,863.6 521.1,868.9 522.5,875.0 523.8,881.9 525.2,889.0 526.6,896.2 528.0,903.0 529.4,909.2 530.7,914.7 532.1,919.3 533.5,923.0 534.9,925.9 536.3,928.1 537.7,929.6 539.0,930.7 540.4,931.4 541.8,931.8 543.2,932.1 544.6,932.3 545.9,932.4 547.3,932.4 548.7,932.5 550.1,932.5 551.5,932.5 552.8,932.5 554.2,932.5 555.6,932.5 557.0,932.5 558.4,932.5 559.8,932.5 561.1,932.5 562.5,932.5 563.9,932.5 565.3,932.5 566.7,932.5 568.0,932.5 569.4,932.5 570.8,932.5 572.2,932.5 573.6,932.5 575.0,932.5 576.3,932.5 577.7,932.5 579.1,932.5 580.5,932.5 581.9,932.5 583.2,932.5 584.6,932.5 586.0,932.5 587.4,932.5 588.8,932.5 590.1,932.5 591.5,932.5 592.9,932.5 594.3,932.5 595.7,932.5 597.1,932.5 598.4,932.5 599.8,932.5 601.2,932.5 602.6,932.5 604.0,932.5 605.3,932.5 606.7,932.5 608.1,932.5 609.5,932.5 610.9,932.5 612.3,932.5 613.6,932.5 615.0,932.5 616.4,932.5 617.8,932.5 619.2,932.5 620.5,932.5 621.9,932.5 623.3,932.5 624.7,932.5 626.1,932.5 627.4,932.5 628.8,932.5 630.2,932.5 631.6,932.5 633.0,932.5 634.4,932.5 635.7,932.5 637.1,932.5 638.5,932.5 639.9,932.5 641.3,932.5 642.6,932.5 644.0,932.5 645.4,932.5 646.8,932.5 648.2,932.5 649.6,932.5 650.9,932.5 652.3,932.5 653.7,932.5 655.1,932.5 656.5,932.5 657.8,932.5 659.2,932.5 660.6,932.5 662.0,932.5 663.4,932.5 664.8,932.5" stroke="#7E2F8E" stroke-width="1" fill="none" opacity="0.7"/>
<path d="M145.9 912.5h0M154.0 912.5h0M162.1 912.4h0M170.2 912.3h0M178.4 912.2h0M186.5 912.1h0M194.6 912.0h0M202.8 911.9h0M210.9 911.8h0M219.0 911.7h0M227.1 911.6h0M235.3 911.5h0M243.4 911.3h0M251.5 911.2h0M259.7 911.0h0M267.8 910.9h0M275.9 910.7h0M284.0 910.5h0M292.2 910.4h0M300.3 910.2h0M308.4 909.9h0M316.6 909.7h0M324.7 909.5h0M332.8 909.2h0M340.9 908.9h0M349.1 908.6h0M357.2 908.2h0M365.3 907.8h0M373.5 907.4h0M381.6 907.0h0M389.7 906.4h0M397.8 905.9h0M406.0 905.2h0M414.1 904.5h0M422.2 903.6h0M430.4 902.6h0M438.5 901.5h0M446.6 900.1h0M454.8 898.4h0M462.9 896.4h0M471.0 893.8h0M479.1 890.4h0M487.3 885.7h0M495.4 878.9h0M503.5 868.3h0M511.7 855.7h0M519.8 863.9h0M527.9 902.7h0M536.0 927.7h0M544.2 932.3h0M552.3 932.5h0M560.4 932.5h0M568.6 932.5h0M576.7 932.5h0M584.8 932.5h0M592.9 932.5h0M601.1 932.5h0M609.2 932.5h0M617.3 932.5h0M625.5 932.5h0M633.6 932.5h0M641.7 932.5h0M649.8 932.5h0M658.0 932.5h0" stroke="#5a2166" stroke-width="4" stroke-linecap="round" fill="none"/>
<polyline points="139.8,905.6 141.2,905.5 142.5,905.5 143.9,905.5 145.3,905.5 146.7,905.5 148.1,905.5 149.5,905.4 150.8,905.4 152.2,905.4 153.6,905.4 155.0,905.4 156.4,905.4 157.7,905.3 159.1,905.3 160.5,905.3 161.9,905.3 163.3,905.3 164.6,905.2 166.0,905.2 167.4,905.2 168.8,905.2 170.2,905.2 171.6,905.2 172.9,905.1 174.3,905.1 175.7,905.1 177.1,905.1 178.5,905.1 179.8,905.0 181.2,905.0 182.6,905.0 184.0,905.0 185.4,905.0 186.8,904.9 188.1,904.9 189.5,904.9 190.9,904.9 192.3,904.9 193.7,904.8 195.0,904.8 196.4,904.8 197.8,904.8 199.2,904.7 200.6,904.7 201.9,904.7 203.3,904.7 204.7,904.7 206.1,904.6 207.5,904.6 208.9,904.6 210.2,904.6 211.6,904.5 213.0,904.5 214.4,904.5 215.8,904.5 217.1,904.4 218.5,904.4 219.9,904.4 221.3,904.4 222.7,904.3 224.1,904.3 225.4,904.3 226.8,904.3 228.2,904.2 229.6,904.2 231.0,904.2 232.3,904.2 233.7,904.1 235.1,904.1 236.5,904.1 237.9,904.0 239.2,904.0 240.6,904.0 242.0,904.0 243.4,903.9 244.8,903.9 246.2,903.9 247.5,903.8 248.9,903.8 250.3,903.8 251.7,903.8 253.1,903.7 254.4,903.7 255.8,903.7 257.2,903.6 258.6,903.6 260.0,903.6 261.4,903.5 262.7,903.5 264.1,903.5 265.5,903.4 266.9,903.4 268.3,903.4 269.6,903.3 271.0,903.3 272.4,903.3 273.8,903.2 275.2,903.2 276.5,903.1 277.9,903.1 279.3,903.1 280.7,903.0 282.1,903.0 283.5,903.0 284.8,902.9 286.2,902.9 287.6,902.8 289.0,902.8 290.4,902.8 291.7,902.7 293.1,902.7 294.5,902.6 295.9,902.6 297.3,902.6 298.7,902.5 300.0,902.5 301.4,902.4 302.8,902.4 304.2,902.3 305.6,902.3 306.9,902.2 308.3,902.2 309.7,902.1 311.1,902.1 312.5,902.0 313.8,902.0 315.2,901.9 316.6,901.9 318.0,901.8 319.4,901.8 320.8,901.7 322.1,901.7 323.5,901.6 324.9,901.6 326.3,901.5 327.7,901.5 329.0,901.4 330.4,901.4 331.8,901.3 333.2,901.2 334.6,901.2 336.0,901.1 337.3,901.1 338.7,901.0 340.1,900.9 341.5,900.9 342.9,900.8 344.2,900.7 345.6,900.7 347.0,900.6 348.4,900.5 349.8,900.5 351.1,900.4 352.5,900.3 353.9,900.3 355.3,900.2 356.7,900.1 358.1,900.0 359.4,900.0 360.8,899.9 362.2,899.8 363.6,899.7 365.0,899.6 366.3,899.6 367.7,899.5 369.1,899.4 370.5,899.3 371.9,899.2 373.3,899.1 374.6,899.0 376.0,899.0 377.4,898.9 378.8,898.8 380.2,898.7 381.5,898.6 382.9,898.5 384.3,898.4 385.7,898.3 387.1,898.2 388.5,898.1 389.8,897.9 391.2,897.8 392.6,897.7 394.0,897.6 395.4,897.5 396.7,897.4 398.1,897.3 399.5,897.1 400.9,897.0 402.3,896.9 403.6,896.7 405.0,896.6 406.4,896.5 407.8,896.3 409.2,896.2 410.6,896.1 411.9,895.9 413.3,895.8 414.7,895.6 416.1,895.4 417.5,895.3 418.8,895.1 420.2,895.0 421.6,894.8 423.0,894.6 424.4,894.4 425.8,894.2 427.1,894.1 428.5,893.9 429.9,893.7 431.3,893.5 432.7,893.3 434.0,893.0 435.4,892.8 436.8,892.6 438.2,892.4 439.6,892.1 440.9,891.9 442.3,891.7 443.7,891.4 445.1,891.1 446.5,890.9 447.9,890.6 449.2,890.3 450.6,890.0 452.0,889.7 453.4,889.4 454.8,889.1 456.1,888.8 457.5,888.4 458.9,888.1 460.3,887.7 461.7,887.3 463.1,887.0 464.4,886.5 465.8,886.1 467.2,885.7 468.6,885.3 470.0,884.8 471.3,884.3 472.7,883.8 474.1,883.3 475.5,882.8 476.9,882.2 478.2,881.6 479.6,881.0 481.0,880.4 482.4,879.7 483.8,879.0 485.2,878.3 486.5,877.5 487.9,876.7 489.3,875.9 490.7,875.0 492.1,874.1 493.4,873.1 494.8,872.0 496.2,870.9 497.6,869.7 499.0,868.5 500.4,867.2 501.7,865.7 503.1,864.2 504.5,862.6 505.9,860.8 507.3,858.9 508.6,856.9 510.0,854.7 511.4,852.3 512.8,849.7 514.2,846.9 515.5,843.9 516.9,840.8 518.3,837.6 519.7,834.4 521.1,831.3 522.5,828.6 523.8,826.5 525.2,825.3 526.6,825.2 528.0,826.6 529.4,829.5 530.7,834.2 532.1,840.5 533.5,848.2 534.9,857.1 536.3,866.7 537.7,876.6 539.0,886.3 540.4,895.5 541.8,903.6 543.2,910.7 544.6,916.5 545.9,921.2 547.3,924.7 548.7,927.3 550.1,929.2 551.5,930.4 552.8,931.3 554.2,931.8 555.6,932.1 557.0,932.3 558.4,932.4 559.8,932.4 561.1,932.5 562.5,932.5 563.9,932.5 565.3,932.5 566.7,932.5 568.0,932.5 569.4,932.5 570.8,932.5 572.2,932.5 573.6,932.5 575.0,932.5 576.3,932.5 577.7,932.5 579.1,932.5 580.5,932.5 581.9,932.5 583.2,932.5 584.6,932.5 586.0,932.5 587.4,932.5 588.8,932.5 590.1,932.5 591.5,932.5 592.9,932.5 594.3,932.5 595.7,932.5 597.1,932.5 598.4,932.5 599.8,932.5 601.2,932.5 602.6,932.5 604.0,932.5 605.3,932.5 606.7,932.5 608.1,932.5 609.5,932.5 610.9,932.5 612.3,932.5 613.6,932.5 615.0,932.5 616.4,932.5 617.8,932.5 619.2,932.5 620.5,932.5 621.9,932.5 623.3,932.5 624.7,932.5 626.1,932.5 627.4,932.5 628.8,932.5 630.2,932.5 631.6,932.5 633.0,932.5 634.4,932.5 635.7,932.5 637.1,932.5 638.5,932.5 639.9,932.5 641.3,932.5 642.6,932.5 644.0,932.5 645.4,932.5 646.8,932.5 648.2,932.5 649.6,932.5 650.9,932.5 652.3,932.5 653.7,932.5 655.1,932.5 656.5,932.5 657.8,932.5 659.2,932.5 660.6,932.5 662.0,932.5 663.4,932.5 664.8,932.5" stroke="#EDB120" stroke-width="1" fill="none" opacity="0.7"/>
<path d="M145.9 905.5h0M154.0 905.4h0M162.1 905.3h0M170.2 905.2h0M178.4 905.1h0M186.5 904.9h0M194.6 904.8h0M202.8 904.7h0M210.9 904.5h0M219.0 904.4h0M227.1 904.3h0M235.3 904.1h0M243.4 903.9h0M251.5 903.8h0M259.7 903.6h0M267.8 903.4h0M275.9 903.2h0M284.0 902.9h0M292.2 902.7h0M300.3 902.5h0M308.4 902.2h0M316.6 901.9h0M324.7 901.6h0M332.8 901.3h0M340.9 900.9h0M349.1 900.5h0M357.2 900.1h0M365.3 899.6h0M373.5 899.1h0M381.6 898.6h0M389.7 898.0h0M397.8 897.3h0M406.0 896.5h0M414.1 895.7h0M422.2 894.7h0M430.4 893.6h0M438.5 892.3h0M446.6 890.8h0M454.8 889.1h0M462.9 887.0h0M471.0 884.4h0M479.1 881.2h0M487.3 877.1h0M495.4 871.6h0M503.5 863.8h0M511.7 851.8h0M519.8 834.2h0M527.9 826.5h0M536.0 865.1h0M544.2 915.0h0M552.3 931.0h0M560.4 932.5h0M568.6 932.5h0M576.7 932.5h0M584.8 932.5h0M592.9 932.5h0M601.1 932.5h0M609.2 932.5h0M617.3 932.5h0M625.5 932.5h0M633.6 932.5h0M641.7 932.5h0M649.8 932.5h0M658.0 932.5h0" stroke="#d09b1c" stroke-width="4" stroke-linecap="round" fill="none"/>
<polyline points="139.8,864.6 141.2,864.5 142.5,864.5 143.9,864.4 145.3,864.4 146.7,864.4 148.1,864.3 149.5,864.3 150.8,864.3 152.2,864.2 153.6,864.2 155.0,864.2 156.4,864.1 157.7,864.1 159.1,864.0 160.5,864.0 161.9,864.0 163.3,863.9 164.6,863.9 166.0,863.9 167.4,863.8 168.8,863.8 170.2,863.7 171.6,863.7 172.9,863.7 174.3,863.6 175.7,863.6 177.1,863.5 178.5,863.5 179.8,863.5 181.2,863.4 182.6,863.4 184.0,863.3 185.4,863.3 186.8,863.2 188.1,863.2 189.5,863.2 190.9,863.1 192.3,863.1 193.7,863.0 195.0,863.0 196.4,862.9 197.8,862.9 199.2,862.8 200.6,862.8 201.9,862.7 203.3,862.7 204.7,862.6 206.1,862.6 207.5,862.5 208.9,862.5 210.2,862.4 211.6,862.4 213.0,862.3 214.4,862.3 215.8,862.2 217.1,862.2 218.5,862.1 219.9,862.1 221.3,862.0 222.7,862.0 224.1,861.9 225.4,861.9 226.8,861.8 228.2,861.8 229.6,861.7 231.0,861.7 232.3,861.6 233.7,861.5 235.1,861.5 236.5,861.4 237.9,861.4 239.2,861.3 240.6,861.3 242.0,861.2 243.4,861.1 244.8,861.1 246.2,861.0 247.5,860.9 248.9,860.9 250.3,860.8 251.7,860.8 253.1,860.7 254.4,860.6 255.8,860.6 257.2,860.5 258.6,860.4 260.0,860.4 261.4,860.3 262.7,860.2 264.1,860.2 265.5,860.1 266.9,860.0 268.3,859.9 269.6,859.9 271.0,859.8 272.4,859.7 273.8,859.7 275.2,859.6 276.5,859.5 277.9,859.4 279.3,859.3 280.7,859.3 282.1,859.2 283.5,859.1 284.8,859.0 286.2,859.0 287.6,858.9 289.0,858.8 290.4,858.7 291.7,858.6 293.1,858.5 294.5,858.4 295.9,858.4 297.3,858.3 298.7,858.2 300.0,858.1 301.4,858.0 302.8,857.9 304.2,857.8 305.6,857.7 306.9,857.6 308.3,857.5 309.7,857.4 311.1,857.3 312.5,857.2 313.8,857.1 315.2,857.0 316.6,856.9 318.0,856.8 319.4,856.7 320.8,856.6 322.1,856.5 323.5,856.4 324.9,856.3 326.3,856.2 327.7,856.1 329.0,856.0 330.4,855.8 331.8,855.7 333.2,855.6 334.6,855.5 336.0,855.4 337.3,855.2 338.7,855.1 340.1,855.0 341.5,854.9 342.9,854.7 344.2,854.6 345.6,854.5 347.0,854.3 348.4,854.2 349.8,854.1 351.1,853.9 352.5,853.8 353.9,853.6 355.3,853.5 356.7,853.4 358.1,853.2 359.4,853.1 360.8,852.9 362.2,852.7 363.6,852.6 365.0,852.4 366.3,852.3 367.7,852.1 369.1,851.9 370.5,851.8 371.9,851.6 373.3,851.4 374.6,851.2 376.0,851.1 377.4,850.9 378.8,850.7 380.2,850.5 381.5,850.3 382.9,850.1 384.3,849.9 385.7,849.7 387.1,849.5 388.5,849.3 389.8,849.1 391.2,848.9 392.6,848.7 394.0,848.4 395.4,848.2 396.7,848.0 398.1,847.7 399.5,847.5 400.9,847.3 402.3,847.0 403.6,846.8 405.0,846.5 406.4,846.3 407.8,846.0 409.2,845.7 410.6,845.4 411.9,845.2 413.3,844.9 414.7,844.6 416.1,844.3 417.5,844.0 418.8,843.7 420.2,843.4 421.6,843.1 423.0,842.7 424.4,842.4 425.8,842.0 427.1,841.7 428.5,841.3 429.9,841.0 431.3,840.6 432.7,840.2 434.0,839.8 435.4,839.4 436.8,839.0 438.2,838.6 439.6,838.2 440.9,837.8 442.3,837.3 443.7,836.9 445.1,836.4 446.5,835.9 447.9,835.4 449.2,834.9 450.6,834.4 452.0,833.9 453.4,833.3 454.8,832.8 456.1,832.2 457.5,831.6 458.9,831.0 460.3,830.4 461.7,829.7 463.1,829.0 464.4,828.4 465.8,827.7 467.2,826.9 468.6,826.2 470.0,825.4 471.3,824.6 472.7,823.8 474.1,822.9 475.5,822.1 476.9,821.2 478.2,820.2 479.6,819.2 481.0,818.2 482.4,817.2 483.8,816.1 485.2,814.9 486.5,813.8 487.9,812.5 489.3,811.3 490.7,809.9 492.1,808.5 493.4,807.1 494.8,805.6 496.2,804.0 497.6,802.3 499.0,800.6 500.4,798.8 501.7,796.8 503.1,794.8 504.5,792.7 505.9,790.4 507.3,788.1 508.6,785.5 510.0,782.8 511.4,780.0 512.8,777.0 514.2,773.7 515.5,770.2 516.9,766.5 518.3,762.5 519.7,758.1 521.1,753.4 522.5,748.4 523.8,742.9 525.2,736.9 526.6,730.6 528.0,723.8 529.4,716.7 530.7,709.4 532.1,702.3 533.5,695.5 534.9,689.8 536.3,685.5 537.7,683.5 539.0,684.2 540.4,688.2 541.8,696.0 543.2,707.7 544.6,723.1 545.9,741.7 547.3,762.8 548.7,785.3 550.1,808.2 551.5,830.4 552.8,851.1 554.2,869.5 555.6,885.2 557.0,898.0 558.4,908.2 559.8,915.9 561.1,921.6 562.5,925.5 563.9,928.2 565.3,929.9 566.7,931.0 568.0,931.7 569.4,932.1 570.8,932.3 572.2,932.4 573.6,932.5 575.0,932.5 576.3,932.5 577.7,932.5 579.1,932.5 580.5,932.5 581.9,932.5 583.2,932.5 584.6,932.5 586.0,932.5 587.4,932.5 588.8,932.5 590.1,932.5 591.5,932.5 592.9,932.5 594.3,932.5 595.7,932.5 597.1,932.5 598.4,932.5 599.8,932.5 601.2,932.5 602.6,932.5 604.0,932.5 605.3,932.5 606.7,932.5 608.1,932.5 609.5,932.5 610.9,932.5 612.3,932.5 613.6,932.5 615.0,932.5 616.4,932.5 617.8,932.5 619.2,932.5 620.5,932.5 621.9,932.5 623.3,932.5 624.7,932.5 626.1,932.5 627.4,932.5 628.8,932.5 630.2,932.5 631.6,932.5 633.0,932.5 634.4,932.5 635.7,932.5 637.1,932.5 638.5,932.5 639.9,932.5 641.3,932.5 642.6,932.5 644.0,932.5 645.4,932.5 646.8,932.5 648.2,932.5 649.6,932.5 650.9,932.5 652.3,932.5 653.7,932.5 655.1,932.5 656.5,932.5 657.8,932.5 659.2,932.5 660.6,932.5 662.0,932.5 663.4,932.5 664.8,932.5" stroke="#D95319" stroke-width="1" fill="none" opacity="0.7"/>
<path d="M145.9 868.6h0M154.0 868.3h0M162.1 867.9h0M170.2 867.5h0M178.4 867.2h0M186.5 866.8h0M194.6 866.4h0M202.8 866.0h0M210.9 865.6h0M219.0 865.2h0M227.1 864.8h0M235.3 864.3h0M243.4 863.9h0M251.5 863.4h0M259.7 862.9h0M267.8 862.4h0M275.9 861.8h0M284.0 861.3h0M292.2 860.7h0M300.3 860.1h0M308.4 859.4h0M316.6 858.7h0M324.7 858.0h0M332.8 857.2h0M340.9 856.4h0M349.1 855.5h0M357.2 854.6h0M365.3 853.6h0M373.5 852.5h0M381.6 851.4h0M389.7 850.1h0M397.8 848.7h0M406.0 847.2h0M414.1 845.5h0M422.2 843.6h0M430.4 841.5h0M438.5 839.1h0M446.6 836.3h0M454.8 833.2h0M462.9 829.5h0M471.0 825.1h0M479.1 819.8h0M487.3 813.3h0M495.4 805.1h0M503.5 794.3h0M511.7 779.5h0M519.8 757.9h0M527.9 724.2h0M536.0 686.1h0M544.2 718.4h0M552.3 843.0h0M560.4 918.9h0M568.6 931.8h0M576.7 932.5h0M584.8 932.5h0M592.9 932.5h0M601.1 932.5h0M609.2 932.5h0M617.3 932.5h0M625.5 932.5h0M633.6 932.5h0M641.7 932.5h0M649.8 932.5h0M658.0 932.5h0" stroke="#9c3b12" stroke-width="4" stroke-linecap="round" fill="none"/>
<polyline points="139.8,920.8 141.2,920.8 142.5,920.8 143.9,920.8 145.3,920.8 146.7,920.8 148.1,920.7 149.5,920.7 150.8,920.7 152.2,920.7 153.6,920.7 155.0,920.7 156.4,920.7 157.7,920.7 159.1,920.7 160.5,920.7 161.9,920.7 163.3,920.7 164.6,920.7 166.0,920.7 167.4,920.6 168.8,920.6 170.2,920.6 171.6,920.6 172.9,920.6 174.3,920.6 175.7,920.6 177.1,920.6 178.5,920.6 179.8,920.6 181.2,920.6 182.6,920.6 184.0,920.6 185.4,920.5 186.8,920.5 188.1,920.5 189.5,920.5 190.9,920.5 192.3,920.5 193.7,920.5 195.0,920.5 196.4,920.5 197.8,920.5 199.2,920.5 200.6,920.5 201.9,920.4 203.3,920.4 204.7,920.4 206.1,920.4 207.5,920.4 208.9,920.4 210.2,920.4 211.6,920.4 213.0,920.4 214.4,920.4 215.8,920.4 217.1,920.3 218.5,920.3 219.9,920.3 221.3,920.3 222.7,920.3 224.1,920.3 225.4,920.3 226.8,920.3 228.2,920.3 229.6,920.3 231.0,920.2 232.3,920.2 233.7,920.2 235.1,920.2 236.5,920.2 237.9,920.2 239.2,920.2 240.6,920.2 242.0,920.2 243.4,920.2 244.8,920.1 246.2,920.1 247.5,920.1 248.9,920.1 250.3,920.1 251.7,920.1 253.1,920.1 254.4,920.1 255.8,920.0 257.2,920.0 258.6,920.0 260.0,920.0 261.4,920.0 262.7,920.0 264.1,920.0 265.5,920.0 266.9,919.9 268.3,919.9 269.6,919.9 271.0,919.9 272.4,919.9 273.8,919.9 275.2,919.9 276.5,919.9 277.9,919.8 279.3,919.8 280.7,919.8 282.1,919.8 283.5,919.8 284.8,919.8 286.2,919.8 287.6,919.7 289.0,919.7 290.4,919.7 291.7,919.7 293.1,919.7 294.5,919.7 295.9,919.6 297.3,919.6 298.7,919.6 300.0,919.6 301.4,919.6 302.8,919.6 304.2,919.5 305.6,919.5 306.9,919.5 308.3,919.5 309.7,919.5 311.1,919.5 312.5,919.4 313.8,919.4 315.2,919.4 316.6,919.4 318.0,919.4 319.4,919.4 320.8,919.3 322.1,919.3 323.5,919.3 324.9,919.3 326.3,919.3 327.7,919.2 329.0,919.2 330.4,919.2 331.8,919.2 333.2,919.2 334.6,919.1 336.0,919.1 337.3,919.1 338.7,919.1 340.1,919.0 341.5,919.0 342.9,919.0 344.2,919.0 345.6,918.9 347.0,918.9 348.4,918.9 349.8,918.9 351.1,918.9 352.5,918.8 353.9,918.8 355.3,918.8 356.7,918.8 358.1,918.7 359.4,918.7 360.8,918.7 362.2,918.6 363.6,918.6 365.0,918.6 366.3,918.6 367.7,918.5 369.1,918.5 370.5,918.5 371.9,918.4 373.3,918.4 374.6,918.4 376.0,918.3 377.4,918.3 378.8,918.3 380.2,918.2 381.5,918.2 382.9,918.2 384.3,918.1 385.7,918.1 387.1,918.1 388.5,918.0 389.8,918.0 391.2,918.0 392.6,917.9 394.0,917.9 395.4,917.9 396.7,917.8 398.1,917.8 399.5,917.7 400.9,917.7 402.3,917.6 403.6,917.6 405.0,917.6 406.4,917.5 407.8,917.5 409.2,917.4 410.6,917.4 411.9,917.3 413.3,917.3 414.7,917.2 416.1,917.2 417.5,917.1 418.8,917.1 420.2,917.0 421.6,917.0 423.0,916.9 424.4,916.9 425.8,916.8 427.1,916.8 428.5,916.7 429.9,916.6 431.3,916.6 432.7,916.5 434.0,916.4 435.4,916.4 436.8,916.3 438.2,916.2 439.6,916.2 440.9,916.1 442.3,916.0 443.7,916.0 445.1,915.9 446.5,915.8 447.9,915.7 449.2,915.6 450.6,915.6 452.0,915.5 453.4,915.4 454.8,915.3 456.1,915.2 457.5,915.1 458.9,915.0 460.3,914.9 461.7,914.8 463.1,914.7 464.4,914.6 465.8,914.5 467.2,914.4 468.6,914.3 470.0,914.1 471.3,914.0 472.7,913.9 474.1,913.8 475.5,913.6 476.9,913.5 478.2,913.3 479.6,913.2 481.0,913.0 482.4,912.9 483.8,912.7 485.2,912.6 486.5,912.4 487.9,912.2 489.3,912.0 490.7,911.8 492.1,911.6 493.4,911.4 494.8,911.2 496.2,911.0 497.6,910.8 499.0,910.5 500.4,910.3 501.7,910.0 503.1,909.7 504.5,909.5 505.9,909.2 507.3,908.9 508.6,908.5 510.0,908.2 511.4,907.8 512.8,907.5 514.2,907.1 515.5,906.7 516.9,906.2 518.3,905.7 519.7,905.3 521.1,904.7 522.5,904.2 523.8,903.6 525.2,903.0 526.6,902.3 528.0,901.6 529.4,900.8 530.7,899.9 532.1,899.0 533.5,898.0 534.9,897.0 536.3,895.8 537.7,894.6 539.0,893.3 540.4,891.9 541.8,890.4 543.2,889.0 544.6,887.6 545.9,886.4 547.3,885.5 548.7,884.9 550.1,884.9 551.5,885.5 552.8,886.8 554.2,888.9 555.6,891.7 557.0,895.1 558.4,899.0 559.8,903.3 561.1,907.7 562.5,912.0 563.9,916.1 565.3,919.7 566.7,922.8 568.0,925.4 569.4,927.5 570.8,929.0 572.2,930.2 573.6,931.0 575.0,931.6 576.3,931.9 577.7,932.2 579.1,932.3 580.5,932.4 581.9,932.5 583.2,932.5 584.6,932.5 586.0,932.5 587.4,932.5 588.8,932.5 590.1,932.5 591.5,932.5 592.9,932.5 594.3,932.5 595.7,932.5 597.1,932.5 598.4,932.5 599.8,932.5 601.2,932.5 602.6,932.5 604.0,932.5 605.3,932.5 606.7,932.5 608.1,932.5 609.5,932.5 610.9,932.5 612.3,932.5 613.6,932.5 615.0,932.5 616.4,932.5 617.8,932.5 619.2,932.5 620.5,932.5 621.9,932.5 623.3,932.5 624.7,932.5 626.1,932.5 627.4,932.5 628.8,932.5 630.2,932.5 631.6,932.5 633.0,932.5 634.4,932.5 635.7,932.5 637.1,932.5 638.5,932.5 639.9,932.5 641.3,932.5 642.6,932.5 644.0,932.5 645.4,932.5 646.8,932.5 648.2,932.5 649.6,932.5 650.9,932.5 652.3,932.5 653.7,932.5 655.1,932.5 656.5,932.5 657.8,932.5 659.2,932.5 660.6,932.5 662.0,932.5 663.4,932.5 664.8,932.5" stroke="#0072BD" stroke-width="1" fill="none" opacity="0.7"/>
<path d="M145.9 920.8h0M154.0 920.7h0M162.1 920.7h0M170.2 920.6h0M178.4 920.6h0M186.5 920.5h0M194.6 920.5h0M202.8 920.4h0M210.9 920.4h0M219.0 920.3h0M227.1 920.3h0M235.3 920.2h0M243.4 920.2h0M251.5 920.1h0M259.7 920.0h0M267.8 919.9h0M275.9 919.9h0M284.0 919.8h0M292.2 919.7h0M300.3 919.6h0M308.4 919.5h0M316.6 919.4h0M324.7 919.3h0M332.8 919.2h0M340.9 919.0h0M349.1 918.9h0M357.2 918.7h0M365.3 918.6h0M373.5 918.4h0M381.6 918.2h0M389.7 918.0h0M397.8 917.8h0M406.0 917.5h0M414.1 917.3h0M422.2 917.0h0M430.4 916.6h0M438.5 916.2h0M446.6 915.8h0M454.8 915.3h0M462.9 914.7h0M471.0 914.0h0M479.1 913.3h0M487.3 912.3h0M495.4 911.1h0M503.5 909.7h0M511.7 907.8h0M519.8 905.2h0M527.9 901.6h0M536.0 896.0h0M544.2 888.0h0M552.3 886.2h0M560.4 905.4h0M568.6 926.2h0M576.7 932.0h0M584.8 932.5h0M592.9 932.5h0M601.1 932.5h0M609.2 932.5h0M617.3 932.5h0M625.5 932.5h0M633.6 932.5h0M641.7 932.5h0M649.8 932.5h0M658.0 932.5h0" stroke="#005288" stroke-width="4" stroke-linecap="round" fill="none"/>
<path d="M259.7 932.5h0M267.8 932.5h0M275.9 932.5h0M284.0 932.5h0M292.2 932.5h0M300.3 932.5h0M308.4 932.5h0M316.6 932.5h0M324.7 932.5h0M332.8 932.5h0M340.9 932.5h0M349.1 932.5h0M357.2 932.5h0M365.3 932.5h0M373.5 932.5h0M381.6 932.5h0M389.7 932.5h0M397.8 932.5h0M406.0 932.5h0M414.1 932.5h0M422.2 932.5h0M430.4 932.5h0M438.5 932.5h0M446.6 932.5h0M454.8 932.5h0M462.9 932.5h0M471.0 932.5h0M479.1 932.5h0M487.3 932.5h0M495.4 932.5h0M503.5 932.5h0M511.7 932.5h0M519.8 932.5h0M527.9 932.5h0M536.0 932.5h0M544.2 932.5h0M552.3 932.5h0M560.4 932.5h0M568.6 932.5h0M576.7 932.5h0M584.8 932.5h0M592.9 932.5h0M601.1 932.5h0M609.2 932.5h0M617.3 932.5h0M625.5 932.5h0M633.6 932.5h0M641.7 932.5h0M649.8 932.5h0M658.0 932.5h0" stroke="#8a1530" stroke-width="4" stroke-linecap="round" fill="none"/>
<polyline points="139.7,641.8 146.0,637.0 156.2,633.4 174.5,628.0 192.7,620.7 211.0,612.4 224.7,604.2 238.4,594.2 247.5,582.3 253.0,573.9 262.0,573.8 280.0,574.0 290.0,575.5 310.0,573.5 330.0,574.5 350.0,574.7 380.0,573.5 420.0,573.0 440.0,572.0 470.0,571.5 500.0,570.5 510.0,569.0 518.5,565.2 524.0,566.5 528.8,572.0 534.3,590.6 539.0,616.5 543.6,660.8 548.2,716.2 553.0,817.8 557.8,876.0 561.0,900.0 563.6,915.0 567.0,926.0 571.4,931.5 578.0,932.5 665.0,932.5" stroke="#D95319" stroke-width="2.5" fill="none" stroke-linejoin="round" />
<polyline points="139.7,625.7 156.2,620.7 174.5,614.7 192.7,608.8 211.0,601.5 224.7,596.0 238.4,587.8 250.2,571.8 265.0,571.0 282.0,573.0 300.0,570.0 315.0,573.5 324.0,581.0 333.0,574.0 355.0,574.0 358.0,576.0 380.0,573.0 420.0,573.0 470.0,573.0 500.0,572.5 520.0,572.0 526.0,574.0 531.0,579.0 535.5,593.0 540.0,618.0 544.6,660.0 549.0,716.0 553.6,810.0 558.5,872.0 562.0,900.0 564.6,915.0 568.0,927.0 572.4,932.0 665.0,932.5" stroke="#EDB120" stroke-width="2.5" fill="none" stroke-linejoin="round" stroke-dasharray="8.7 2.3 4.9 2.3"/>
<polyline points="139.7,629.8 156.2,625.2 174.5,618.4 192.7,613.4 211.0,605.1 224.7,599.7 238.4,589.6 247.5,577.8 251.5,573.2 260.0,573.5 269.0,573.0 285.0,572.5 300.6,571.5 314.0,573.0 330.0,572.0 343.3,569.3 357.9,566.8 374.7,568.6 388.2,573.0 405.0,574.0 419.7,574.6 442.0,573.7 464.6,574.2 480.0,575.0 493.8,576.0 509.5,574.5 516.0,575.5 521.4,577.7 528.8,587.0 536.2,605.4 541.7,633.0 546.3,670.0 551.0,716.0 553.7,740.0 557.8,798.3 563.6,847.0 571.4,891.7 576.0,908.0 581.1,918.9 586.0,926.0 590.8,930.5 597.0,932.3 665.0,932.5" stroke="#0072BD" stroke-width="2.5" fill="none" stroke-linejoin="round" />
</g>
<rect x="139.7" y="542" width="525.3" height="390.5" fill="none" stroke="#8a8a8a" stroke-width="1.4"/>
<line x1="175.4" y1="706.2" x2="211.7" y2="706.2" stroke="#0072BD" stroke-width="2.7"/>
<line x1="175.4" y1="737.4" x2="211.7" y2="737.4" stroke="#D95319" stroke-width="2.7"/>
<line x1="176" y1="769" x2="211.7" y2="769" stroke="#EDB120" stroke-width="2.7" stroke-dasharray="8.7 2.3 4.9 2.3"/>
<text transform="translate(215.80,715.80)" font-size="26.50" text-anchor="start" fill="#1a1a1a" >Plan Dose</text>
<text transform="translate(215.80,747.20)" font-size="26.50" text-anchor="start" fill="#1a1a1a" >Zebra</text>
<text transform="translate(215.80,778.50)" font-size="26.50" text-anchor="start" fill="#1a1a1a" >Recon. Dose</text>
<g transform="translate(250.30,969.50)" fill="#1a1a1a"><text font-size="30.00" text-anchor="middle" > 50</text><path transform="translate(-25.02,0) scale(0.03000,-0.03000)" d="M317 0H402V688H338C326 660 300 628 262 612C215 592 150 585 100 584V530C170 532 250 540 317 585Z"/></g>
<text transform="translate(388.45,969.50)" font-size="30.00" text-anchor="middle" fill="#1a1a1a" >200</text>
<text transform="translate(526.60,969.50)" font-size="30.00" text-anchor="middle" fill="#1a1a1a" >250</text>
<text transform="translate(664.75,969.50)" font-size="30.00" text-anchor="middle" fill="#1a1a1a" >300</text>
<text transform="translate(131.50,945.30)" font-size="30.00" text-anchor="end" fill="#1a1a1a" >0</text>
<text transform="translate(131.50,867.20)" font-size="30.00" text-anchor="end" fill="#1a1a1a" >0.2</text>
<text transform="translate(131.50,789.10)" font-size="30.00" text-anchor="end" fill="#1a1a1a" >0.4</text>
<text transform="translate(131.50,711.00)" font-size="30.00" text-anchor="end" fill="#1a1a1a" >0.6</text>
<text transform="translate(131.50,632.90)" font-size="30.00" text-anchor="end" fill="#1a1a1a" >0.8</text>
<g transform="translate(131.50,554.80)" fill="#1a1a1a"><text font-size="30.00" text-anchor="end" > </text><path transform="translate(-16.68,0) scale(0.03000,-0.03000)" d="M317 0H402V688H338C326 660 300 628 262 612C215 592 150 585 100 584V530C170 532 250 540 317 585Z"/></g>
<text transform="translate(402.00,1008.00)" font-size="32.50" text-anchor="middle" fill="#1a1a1a" >Depth(mm)</text>
<text transform="translate(79.00,737.90) rotate(-90)" font-size="31.00" text-anchor="middle" fill="#1a1a1a" >Dose(Gy)</text>
<path d="M189.2 557.3C185.5 554.4 181.2 553.3 176.2 553.3C165.6 553.3 160.3 560.5 160.3 570.4C160.3 580.4 165.6 587.3 176.2 587.3C181.2 587.3 185.6 586.2 189.2 583.6" fill="none" stroke="#000" stroke-width="6.2"/>
<defs>
<linearGradient id="dbg" x1="0" y1="519.5" x2="0" y2="1029" gradientUnits="userSpaceOnUse"><stop offset="0" stop-color="#858585"/><stop offset="0.257" stop-color="#8c8c8c"/><stop offset="0.453" stop-color="#a5a5a5"/><stop offset="0.65" stop-color="#c8c8c8"/><stop offset="0.846" stop-color="#ececec"/><stop offset="1" stop-color="#fafafa"/></linearGradient>
<linearGradient id="dbg2" x1="711" y1="0" x2="1386.5" y2="0" gradientUnits="userSpaceOnUse"><stop offset="0" stop-color="#fff" stop-opacity="0.15"/><stop offset="0.073" stop-color="#fff" stop-opacity="0.06"/><stop offset="0.206" stop-color="#fff" stop-opacity="0"/><stop offset="0.354" stop-color="#fff" stop-opacity="0"/><stop offset="0.502" stop-color="#fff" stop-opacity="0.07"/><stop offset="0.65" stop-color="#fff" stop-opacity="0.25"/><stop offset="0.798" stop-color="#fff" stop-opacity="0.47"/><stop offset="1" stop-color="#fff" stop-opacity="0.72"/></linearGradient>
<filter id="dbl2" x="-20%" y="-20%" width="140%" height="140%"><feGaussianBlur stdDeviation="2"/></filter>
<filter id="dbl3" x="-20%" y="-20%" width="140%" height="140%"><feGaussianBlur stdDeviation="3"/></filter>
<filter id="dbl4" x="-20%" y="-20%" width="140%" height="140%"><feGaussianBlur stdDeviation="4"/></filter>
<filter id="dbl5" x="-20%" y="-20%" width="140%" height="140%"><feGaussianBlur stdDeviation="5"/></filter>
<filter id="dbl12" filterUnits="userSpaceOnUse" x="700" y="500" width="700" height="529"><feGaussianBlur stdDeviation="12"/></filter>
<filter id="dbl30" filterUnits="userSpaceOnUse" x="700" y="500" width="700" height="529"><feGaussianBlur stdDeviation="36"/></filter>
<filter id="dbl16" filterUnits="userSpaceOnUse" x="700" y="500" width="700" height="529"><feGaussianBlur stdDeviation="16"/></filter>
<filter id="dbl8" filterUnits="userSpaceOnUse" x="700" y="500" width="700" height="529"><feGaussianBlur stdDeviation="8"/></filter>
<filter id="dbl22" filterUnits="userSpaceOnUse" x="700" y="500" width="700" height="529"><feGaussianBlur stdDeviation="22"/></filter>
<filter id="dbl1" x="-10%" y="-10%" width="120%" height="120%"><feGaussianBlur stdDeviation="1"/></filter>
<clipPath id="clipOV"><polygon points="852.2,583.4 1052.9,573.5 1293.3,645.4 1246.2,960 1036,970 893,919 802.7,900.6"/></clipPath>
<clipPath id="clipD"><rect x="711" y="519.5" width="675.5" height="509.5"/></clipPath></defs>
<g clip-path="url(#clipD)">
<rect x="711" y="519.5" width="675.5" height="510" fill="url(#dbg)"/>
<rect x="711" y="519.5" width="675.5" height="510" fill="url(#dbg2)"/>
<defs><linearGradient id="ovb" x1="800" y1="0" x2="1295" y2="0" gradientUnits="userSpaceOnUse"><stop offset="0" stop-color="#888"/><stop offset="0.55" stop-color="#808080"/><stop offset="1" stop-color="#a4a4a4"/></linearGradient></defs>
<polygon points="852.2,583.4 1052.9,573.5 1293.3,645.4 1246.2,960 1036,970 893,919 802.7,900.6" fill="url(#ovb)" filter="url(#dbl4)"/>
<g clip-path="url(#clipOV)">
<polygon points="915.08,641.024 1048.54,633.032 1220.82,686.6 1168.43,959.408 1034.92,967.832 876.328,922.04" fill="#000" opacity="1" filter="url(#dbl30)"/>
<ellipse cx="812" cy="890" rx="45" ry="40" fill="#fff" opacity="0.3" filter="url(#dbl16)"/>
<polygon points="852,583.4 1052.9,573.5 1293.3,645.4 1250,720 1048,660 900,700 850,680" fill="#000" opacity="0.38" filter="url(#dbl16)"/>
<polygon points="895,590 1052,576 1285,648 1205,692 1048,646 929,653" fill="#000" opacity="0.65" filter="url(#dbl16)"/>
</g>
<defs><linearGradient id="lf" x1="0" y1="650" x2="0" y2="910" gradientUnits="userSpaceOnUse"><stop offset="0" stop-color="#2f4d4c"/><stop offset="1" stop-color="#3d5a50"/></linearGradient>
<linearGradient id="rf" x1="1048" y1="0" x2="1194" y2="0" gradientUnits="userSpaceOnUse"><stop offset="0" stop-color="#4c5e4c"/><stop offset="1" stop-color="#475c4c"/></linearGradient></defs>
<path d="M927.3 665.7Q929.0 652.8 942.0 652.0L1042.0 645.8Q1048.0 645.4 1053.7 647.3L1181.7 690.8Q1194.0 695.0 1191.7 707.8L1150.1 944.6Q1149.6 947.6 1146.6 947.8L1039.0 955.2Q1036.0 955.4 1033.1 954.5L897.3 913.9Q894.4 913.0 894.8 910.0Z" fill="#1f1c58" stroke="#1f1c58" stroke-width="7" stroke-linejoin="round" filter="url(#dbl1)"/>
<g filter="url(#dbl1)">
<path d="M927.3 665.7Q929.0 652.8 942.0 652.0L1044.0 645.6Q1048.0 645.4 1047.4 649.3L1005.8 908.0L897.4 912.9Q894.4 913.0 894.8 910.0Z" fill="url(#lf)" stroke="#2f8a86" stroke-width="1.4" stroke-opacity="0.6" stroke-linejoin="round"/>
<path d="M1047.4 649.3Q1048.0 645.4 1051.8 646.7L1181.7 690.8Q1194.0 695.0 1191.7 707.8L1150.1 944.6Q1149.6 947.6 1146.7 946.8L1005.8 908.0Z" fill="url(#rf)" stroke="#3f8a7a" stroke-width="1.4" stroke-opacity="0.6" stroke-linejoin="round"/>
</g>
<line x1="1045" y1="655.4" x2="1007.8" y2="898" stroke="#6e6646" stroke-width="14" opacity="0.55" filter="url(#dbl5)"/>
<polygon points="894.4,913 1005.8,908 1149.6,947.6 1036,955.4" fill="#f4600e" stroke="#86b27a" stroke-width="1.8" stroke-linejoin="round" filter="url(#dbl1)"/>
<path d="M778.2 907L770.2 967" stroke="#9db3d8" stroke-width="1.3" fill="none"/>
<path d="M770.2 967L807 964.8" stroke="#e0b0b0" stroke-width="1.3" fill="none"/>
<path d="M770.2 967L815.6 980.9" stroke="#b8dcb0" stroke-width="1.3" fill="none"/>
<text x="774.6" y="900.7" font-size="16" font-weight="bold" fill="#3557a0">Z</text>
<text x="802.3" y="957.9" font-size="16" font-weight="bold" fill="#cc3c3c">X</text>
<text x="809.8" y="972.9" font-size="16" font-weight="bold" fill="#237a3a">Y</text>
</g>
<g fill="none" stroke="#fff" stroke-width="5.6"><path d="M917.9 536.9V591"/><path d="M917.9 563C914.7 557 909.5 555.5 903.6 555.5C893.8 555.5 887.9 562.6 887.9 572.6C887.9 582.6 893.8 588.5 903.6 588.5C909.5 588.5 914.7 586 917.9 580.4"/></g>
</svg></body></html>
